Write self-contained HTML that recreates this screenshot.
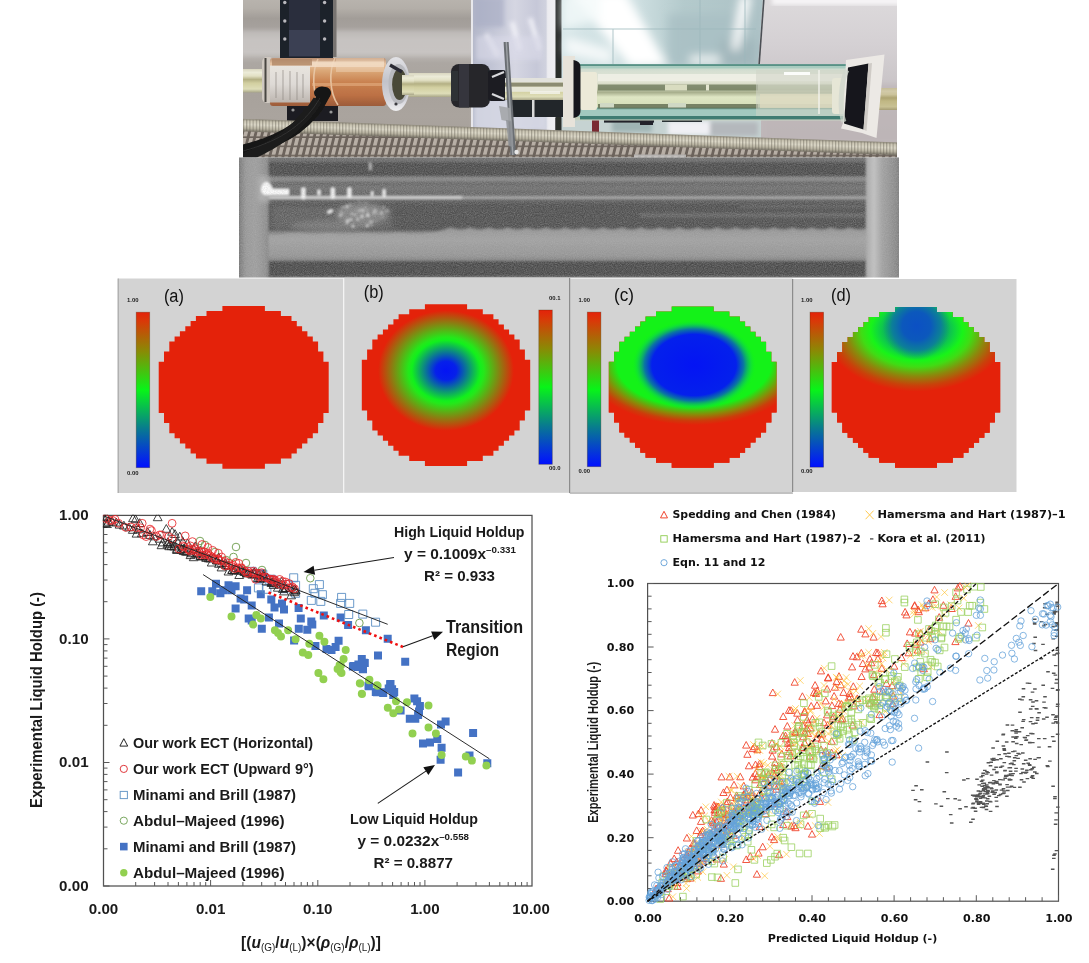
<!DOCTYPE html>
<html lang="en"><head><meta charset="utf-8"><title>Liquid holdup figure</title>
<style>
html,body{margin:0;padding:0;background:#fff;}
body{width:1089px;height:963px;overflow:hidden;font-family:"Liberation Sans",sans-serif;}
svg{display:block}
.c{font-family:"Liberation Sans",sans-serif;font-weight:bold;fill:#1a1a1a}
.v{font-family:"DejaVu Sans","Liberation Sans",sans-serif;font-weight:bold;fill:#111}
</style></head><body>
<svg width="1089" height="963" viewBox="0 0 1089 963">
<defs>

<clipPath id="pclip"><rect x="243" y="0" width="654" height="157.6"/></clipPath>
<filter id="pblur" x="-2%" y="-5%" width="104%" height="110%"><feGaussianBlur stdDeviation="0.7"/></filter>
<filter id="b2" x="-10%" y="-10%" width="120%" height="120%"><feGaussianBlur stdDeviation="2.2"/></filter>
<filter id="b4" x="-20%" y="-20%" width="140%" height="140%"><feGaussianBlur stdDeviation="5"/></filter>
<linearGradient id="wallL" x1="0" y1="0" x2="0" y2="1">
<stop offset="0" stop-color="#b9b5af"/><stop offset="0.07" stop-color="#b3aea8"/><stop offset="0.13" stop-color="#a29d98"/><stop offset="0.2" stop-color="#a7a29e"/><stop offset="0.26" stop-color="#bdb9b6"/><stop offset="0.33" stop-color="#bfbbb8"/><stop offset="0.4" stop-color="#aca7a2"/>
<stop offset="0.6" stop-color="#a8a29c"/><stop offset="0.72" stop-color="#aaa49e"/><stop offset="1" stop-color="#a39d97"/>
</linearGradient>
<linearGradient id="steel" x1="0" y1="0" x2="1" y2="0">
<stop offset="0" stop-color="#b2b6c8"/><stop offset="0.25" stop-color="#c3c6d6"/><stop offset="0.5" stop-color="#d5d6e2"/><stop offset="0.75" stop-color="#c6c8d8"/><stop offset="0.86" stop-color="#d0d2de"/><stop offset="0.88" stop-color="#ececf0"/><stop offset="1" stop-color="#f0f0f3"/>
</linearGradient>
<linearGradient id="win" x1="0" y1="0" x2="1" y2="0">
<stop offset="0" stop-color="#d4e4e6"/><stop offset="0.3" stop-color="#cfe0e2"/><stop offset="0.5" stop-color="#b4cacc"/><stop offset="0.8" stop-color="#adc2c6"/><stop offset="1" stop-color="#c3d4d6"/>
</linearGradient>
<linearGradient id="wallR" x1="0" y1="0" x2="0" y2="1">
<stop offset="0" stop-color="#dddadc"/><stop offset="0.3" stop-color="#d4d0d3"/><stop offset="0.5" stop-color="#cbc6c9"/><stop offset="0.7" stop-color="#c3bcbe"/><stop offset="1" stop-color="#bbb3b4"/>
</linearGradient>
<linearGradient id="pipe" x1="0" y1="0" x2="0" y2="1">
<stop offset="0" stop-color="#d9d6c0"/><stop offset="0.15" stop-color="#ecebd8"/><stop offset="0.3" stop-color="#e2e0c4"/><stop offset="0.45" stop-color="#b4b084"/><stop offset="0.6" stop-color="#d2cfa0"/><stop offset="0.85" stop-color="#deddb8"/><stop offset="1" stop-color="#a9a688"/>
</linearGradient>
<linearGradient id="copper" x1="0" y1="0" x2="0" y2="1">
<stop offset="0" stop-color="#b98e70"/><stop offset="0.12" stop-color="#e6c4a4"/><stop offset="0.26" stop-color="#dba878"/><stop offset="0.5" stop-color="#c98250"/><stop offset="0.78" stop-color="#bc7044"/><stop offset="1" stop-color="#9c5c3a"/>
</linearGradient>
<linearGradient id="label" x1="0" y1="0" x2="0" y2="1">
<stop offset="0" stop-color="#e8e4de"/><stop offset="0.5" stop-color="#dedad6"/><stop offset="1" stop-color="#bdb6b0"/>
</linearGradient>
<linearGradient id="flange" x1="0" y1="0" x2="0" y2="1">
<stop offset="0" stop-color="#e2e2e6"/><stop offset="0.45" stop-color="#c2c3ca"/><stop offset="0.8" stop-color="#d4d4da"/><stop offset="1" stop-color="#f0f0f2"/>
</linearGradient>
<linearGradient id="hose" x1="0" y1="0" x2="0" y2="1">
<stop offset="0" stop-color="#8f8a7c"/><stop offset="0.18" stop-color="#cbc6b4"/><stop offset="0.45" stop-color="#dcd8c8"/><stop offset="0.75" stop-color="#b9b4a2"/><stop offset="1" stop-color="#777266"/>
</linearGradient>
<linearGradient id="glassin" x1="0" y1="0" x2="0" y2="1">
<stop offset="0" stop-color="#bcd2c8"/><stop offset="0.12" stop-color="#d6dfd2"/><stop offset="0.3" stop-color="#e4e6d6"/><stop offset="0.42" stop-color="#c5cbb0"/><stop offset="0.5" stop-color="#a9b08e"/>
<stop offset="0.58" stop-color="#dfe6c4"/><stop offset="0.75" stop-color="#d5deb8"/><stop offset="0.86" stop-color="#b9c0a2"/><stop offset="1" stop-color="#c9d4c4"/>
</linearGradient>
<pattern id="ribs" width="3.2" height="20" patternUnits="userSpaceOnUse"><rect width="3.2" height="20" fill="none"/><rect x="0" width="1.1" height="20" fill="#5f5b50" opacity="0.45"/></pattern>
<pattern id="grate" width="6.6" height="9.2" patternUnits="userSpaceOnUse" patternTransform="skewX(-14)"><rect width="6.6" height="9.2" fill="#5a524a"/><rect x="0" y="0" width="3.7" height="7.6" fill="#c4bcb2"/></pattern>


<clipPath id="gclip"><rect x="239" y="157.6" width="660" height="120"/></clipPath>
<filter id="gblur" x="-2%" y="-5%" width="104%" height="110%"><feGaussianBlur stdDeviation="0.8"/></filter>
<filter id="gnoise" x="0" y="0" width="100%" height="100%"><feTurbulence type="fractalNoise" baseFrequency="0.9" numOctaves="2" seed="4" result="n"/><feColorMatrix in="n" type="matrix" values="0 0 0 0 0.5  0 0 0 0 0.5  0 0 0 0 0.5  0.9 0.9 0.9 0 -0.95"/></filter>
<linearGradient id="gL" x1="0" y1="0" x2="1" y2="0"><stop offset="0" stop-color="#6c6c6c"/><stop offset="0.12" stop-color="#7c7c7c"/><stop offset="0.3" stop-color="#989898"/><stop offset="0.6" stop-color="#9e9e9e"/><stop offset="0.88" stop-color="#929292"/><stop offset="1" stop-color="#848484"/></linearGradient>
<linearGradient id="gR" x1="0" y1="0" x2="1" y2="0"><stop offset="0" stop-color="#a6a6a6"/><stop offset="0.22" stop-color="#c4c4c4"/><stop offset="0.45" stop-color="#a2a2a2"/><stop offset="0.8" stop-color="#8c8c8c"/><stop offset="1" stop-color="#767676"/></linearGradient>
<linearGradient id="gliq" x1="0" y1="0" x2="0" y2="1"><stop offset="0" stop-color="#949494"/><stop offset="0.35" stop-color="#a2a2a2"/><stop offset="1" stop-color="#909090"/></linearGradient>


<linearGradient id="cb" x1="0" y1="0" x2="0" y2="1">
<stop offset="0" stop-color="#e4220a"/><stop offset="0.06" stop-color="#d83a08"/><stop offset="0.25" stop-color="#8a8a05"/>
<stop offset="0.5" stop-color="#08f418"/><stop offset="0.75" stop-color="#087a90"/><stop offset="0.94" stop-color="#0428e8"/><stop offset="1" stop-color="#0010ff"/>
</linearGradient>
<radialGradient id="gb" gradientUnits="userSpaceOnUse" cx="0" cy="0" r="1" gradientTransform="translate(446 370.6) scale(70 62)">
<stop offset="0" stop-color="#0414f4"/><stop offset="0.15" stop-color="#0620ea"/><stop offset="0.49" stop-color="#12f01c"/><stop offset="0.54" stop-color="#24e81a"/><stop offset="0.97" stop-color="#e4220a"/>
</radialGradient>
<radialGradient id="gc1" gradientUnits="userSpaceOnUse" cx="0" cy="0" r="1" gradientTransform="translate(694 364) scale(110 61)">
<stop offset="0" stop-color="#14f218"/><stop offset="0.7" stop-color="#14f218"/><stop offset="0.83" stop-color="#8a8a08"/><stop offset="0.93" stop-color="#cc3c0a"/><stop offset="1" stop-color="#e4220a"/>
</radialGradient>
<radialGradient id="gc1t" gradientUnits="userSpaceOnUse" cx="0" cy="0" r="1" gradientTransform="translate(694 364) scale(110 220)">
<stop offset="0" stop-color="#14f218"/><stop offset="0.7" stop-color="#14f218"/><stop offset="0.83" stop-color="#8a8a08"/><stop offset="0.93" stop-color="#cc3c0a"/><stop offset="1" stop-color="#e4220a"/>
</radialGradient>
<radialGradient id="gc2" gradientUnits="userSpaceOnUse" cx="0" cy="0" r="1" gradientTransform="translate(694 365) scale(62 45)">
<stop offset="0" stop-color="#0414f4"/><stop offset="0.68" stop-color="#0420ec"/><stop offset="0.8" stop-color="#0a70a8" stop-opacity="0.95"/><stop offset="0.92" stop-color="#0cd050" stop-opacity="0.5"/><stop offset="1" stop-color="#10f01c" stop-opacity="0"/>
</radialGradient>
<radialGradient id="gd" gradientUnits="userSpaceOnUse" cx="0" cy="0" r="1" gradientTransform="translate(916.5 330) scale(92 61.5)">
<stop offset="0" stop-color="#0c8c80"/><stop offset="0.3" stop-color="#0ca868"/><stop offset="0.42" stop-color="#10d83c"/><stop offset="0.5" stop-color="#18f418"/>
<stop offset="0.6" stop-color="#40dc14"/><stop offset="0.75" stop-color="#8a8a0c"/><stop offset="0.9" stop-color="#c8420a"/><stop offset="1" stop-color="#e4220a"/>
</radialGradient>
<radialGradient id="gd2" gradientUnits="userSpaceOnUse" cx="916.5" cy="326" r="34">
<stop offset="0" stop-color="#0c50c4"/><stop offset="0.42" stop-color="#0c58bc"/><stop offset="0.72" stop-color="#0c78a0" stop-opacity="0.85"/><stop offset="1" stop-color="#0c9a74" stop-opacity="0"/>
</radialGradient>
<clipPath id="ca"><path d="M222.4 305.9H264.9V311.3H222.4ZM206.5 311.0H280.9V316.4H206.5ZM195.9 316.1H291.5V321.4H195.9ZM190.6 321.1H296.8V326.5H190.6ZM185.3 326.2H302.1V331.6H185.3ZM179.9 331.3H307.4V336.7H179.9ZM174.6 336.4H312.8V341.8H174.6ZM169.3 341.5H318.1V346.9H169.3ZM169.3 346.5H318.1V351.9H169.3ZM164.0 351.6H323.4V357.0H164.0ZM164.0 356.7H323.4V362.1H164.0ZM158.7 361.8H328.7V367.2H158.7ZM158.7 366.9H328.7V372.3H158.7ZM158.7 372.0H328.7V377.3H158.7ZM158.7 377.0H328.7V382.4H158.7ZM158.7 382.1H328.7V387.5H158.7ZM158.7 387.2H328.7V392.6H158.7ZM158.7 392.3H328.7V397.7H158.7ZM158.7 397.4H328.7V402.7H158.7ZM158.7 402.4H328.7V407.8H158.7ZM158.7 407.5H328.7V412.9H158.7ZM164.0 412.6H323.4V418.0H164.0ZM164.0 417.7H323.4V423.1H164.0ZM169.3 422.8H318.1V428.1H169.3ZM169.3 427.8H318.1V433.2H169.3ZM174.6 432.9H312.8V438.3H174.6ZM179.9 438.0H307.4V443.4H179.9ZM185.3 443.1H302.1V448.5H185.3ZM190.6 448.2H296.8V453.6H190.6ZM195.9 453.3H291.5V458.6H195.9ZM206.5 458.3H280.9V463.7H206.5ZM222.4 463.4H264.9V468.8H222.4Z"/></clipPath>
<clipPath id="cb2"><path d="M424.9 304.2H467.1V309.5H424.9ZM409.2 309.2H482.8V314.6H409.2ZM398.6 314.3H493.4V319.6H398.6ZM393.4 319.3H498.6V324.7H393.4ZM388.1 324.4H503.9V329.7H388.1ZM382.9 329.4H509.1V334.8H382.9ZM377.6 334.5H514.4V339.8H377.6ZM372.3 339.5H519.7V344.8H372.3ZM372.3 344.6H519.7V349.9H372.3ZM367.1 349.6H524.9V354.9H367.1ZM367.1 354.6H524.9V360.0H367.1ZM361.8 359.7H530.2V365.0H361.8ZM361.8 364.7H530.2V370.1H361.8ZM361.8 369.8H530.2V375.1H361.8ZM361.8 374.8H530.2V380.2H361.8ZM361.8 379.9H530.2V385.2H361.8ZM361.8 384.9H530.2V390.2H361.8ZM361.8 389.9H530.2V395.3H361.8ZM361.8 395.0H530.2V400.3H361.8ZM361.8 400.0H530.2V405.4H361.8ZM361.8 405.1H530.2V410.4H361.8ZM367.1 410.1H524.9V415.5H367.1ZM367.1 415.2H524.9V420.5H367.1ZM372.3 420.2H519.7V425.6H372.3ZM372.3 425.2H519.7V430.6H372.3ZM377.6 430.3H514.4V435.6H377.6ZM382.9 435.3H509.1V440.7H382.9ZM388.1 440.4H503.9V445.7H388.1ZM393.4 445.4H498.6V450.8H393.4ZM398.6 450.5H493.4V455.8H398.6ZM409.2 455.5H482.8V460.9H409.2ZM424.9 460.6H467.1V465.9H424.9Z"/></clipPath>
<clipPath id="cc"><path d="M671.7 306.5H713.7V311.8H671.7ZM656.0 311.5H729.4V316.9H656.0ZM645.5 316.6H739.9V321.9H645.5ZM640.3 321.6H745.1V326.9H640.3ZM635.0 326.6H750.4V332.0H635.0ZM629.8 331.7H755.6V337.0H629.8ZM624.5 336.7H760.9V342.0H624.5ZM619.3 341.7H766.1V347.1H619.3ZM619.3 346.8H766.1V352.1H619.3ZM614.0 351.8H771.4V357.1H614.0ZM614.0 356.8H771.4V362.1H614.0ZM608.8 361.8H776.6V367.2H608.8ZM608.8 366.9H776.6V372.2H608.8ZM608.8 371.9H776.6V377.2H608.8ZM608.8 376.9H776.6V382.3H608.8ZM608.8 382.0H776.6V387.3H608.8ZM608.8 387.0H776.6V392.3H608.8ZM608.8 392.0H776.6V397.4H608.8ZM608.8 397.1H776.6V402.4H608.8ZM608.8 402.1H776.6V407.4H608.8ZM608.8 407.1H776.6V412.5H608.8ZM614.0 412.2H771.4V417.5H614.0ZM614.0 417.2H771.4V422.5H614.0ZM619.3 422.2H766.1V427.6H619.3ZM619.3 427.2H766.1V432.6H619.3ZM624.5 432.3H760.9V437.6H624.5ZM629.8 437.3H755.6V442.6H629.8ZM635.0 442.3H750.4V447.7H635.0ZM640.3 447.4H745.1V452.7H640.3ZM645.5 452.4H739.9V457.7H645.5ZM656.0 457.4H729.4V462.8H656.0ZM671.7 462.5H713.7V467.8H671.7Z"/></clipPath>
<clipPath id="cd"><path d="M895.0 306.9H937.0V312.2H895.0ZM879.2 311.9H952.8V317.2H879.2ZM868.6 316.9H963.4V322.3H868.6ZM863.4 322.0H968.6V327.3H863.4ZM858.1 327.0H973.9V332.3H858.1ZM852.9 332.0H979.1V337.3H852.9ZM847.6 337.0H984.4V342.3H847.6ZM842.3 342.0H989.7V347.4H842.3ZM842.3 347.0H989.7V352.4H842.3ZM837.1 352.1H994.9V357.4H837.1ZM837.1 357.1H994.9V362.4H837.1ZM831.8 362.1H1000.2V367.4H831.8ZM831.8 367.1H1000.2V372.4H831.8ZM831.8 372.1H1000.2V377.5H831.8ZM831.8 377.2H1000.2V382.5H831.8ZM831.8 382.2H1000.2V387.5H831.8ZM831.8 387.2H1000.2V392.5H831.8ZM831.8 392.2H1000.2V397.5H831.8ZM831.8 397.2H1000.2V402.6H831.8ZM831.8 402.3H1000.2V407.6H831.8ZM831.8 407.3H1000.2V412.6H831.8ZM837.1 412.3H994.9V417.6H837.1ZM837.1 417.3H994.9V422.6H837.1ZM842.3 422.3H989.7V427.6H842.3ZM842.3 427.3H989.7V432.7H842.3ZM847.6 432.4H984.4V437.7H847.6ZM852.9 437.4H979.1V442.7H852.9ZM858.1 442.4H973.9V447.7H858.1ZM863.4 447.4H968.6V452.7H863.4ZM868.6 452.4H963.4V457.8H868.6ZM879.2 457.5H952.8V462.8H879.2ZM895.0 462.5H937.0V467.8H895.0Z"/></clipPath>

<clipPath id="c1clip"><rect x="102.9" y="514.8" width="429.7" height="371.8"/></clipPath>

</defs>
<rect width="1089" height="963" fill="#fff"/>
<g id="photo"><g clip-path="url(#pclip)"><g filter="url(#pblur)">
<rect x="240" y="-3" width="234" height="165" fill="url(#wallL)"/>
<rect x="240" y="30" width="234" height="26" fill="#d0cdcc" opacity="0.5" filter="url(#b2)"/>
<rect x="472" y="-3" width="86" height="165" fill="url(#steel)"/>
<g filter="url(#b2)" opacity="0.85"><path d="M486 34L498 56M512 22L520 50M530 18L540 50" stroke="#f4f4fa" stroke-width="5"/><rect x="476" y="36" width="66" height="24" fill="#dcdcea" opacity="0.7"/><rect x="474" y="100" width="72" height="30" fill="#d6d8e4"/><rect x="474" y="-3" width="30" height="30" fill="#a9aec4" opacity="0.8"/></g>
<rect x="471" y="-3" width="2" height="130" fill="#e8e8ec"/>
<rect x="561" y="-3" width="246" height="140" fill="url(#win)"/>
<rect x="555.5" y="-3" width="6" height="135" fill="#2a2d2c"/>
<g filter="url(#b4)"><path d="M570 -8L625 -8L668 66L630 66Z" fill="#fff"/><path d="M562 -5L600 -5L600 20L562 30Z" fill="#f4fafa" opacity="0.8"/><path d="M565 36L612 50L612 64L565 54Z" fill="#fff" opacity="0.75"/><rect x="668" y="14" width="84" height="52" fill="#a9bfc4" opacity="0.85"/><rect x="720" y="40" width="36" height="26" fill="#9fb4ba" opacity="0.8"/><rect x="690" y="56" width="30" height="8" fill="#fff" opacity="0.8"/><path d="M740 -4L752 -4L738 50L732 50Z" fill="#fff"/></g>
<path d="M563 29H756M613 29V64M700 0V64M745 0V64" stroke="#9db8bc" stroke-width="1" opacity="0.8"/>
<path d="M763 -3H900V160H756L758 66Z" fill="url(#wallR)"/>
<path d="M764 -3L759 66" stroke="#4c5054" stroke-width="1.6"/>
<rect x="762" y="84" width="140" height="60" fill="#bdb5b7" opacity="0.7" filter="url(#b2)"/>
<rect x="772" y="-4" width="130" height="9" fill="#f6f4f6" filter="url(#b2)"/>
<rect x="561" y="118" width="200" height="20" fill="#c6d3d2"/>
<g filter="url(#b2)"><rect x="668" y="121" width="42" height="14" fill="#f0f0f4"/><rect x="612" y="120" width="40" height="12" fill="#9fb4b4"/><rect x="710" y="122" width="48" height="14" fill="#b4b8bc"/></g>
<rect x="592" y="117" width="7" height="15" fill="#7a2a30"/><rect x="604" y="118.6" width="50" height="4" fill="#20242a"/><rect x="662" y="118.6" width="40" height="3.4" fill="#2a3034"/><rect x="640" y="118" width="13" height="7" fill="#20242a"/>
<rect x="876" y="88" width="24" height="22" fill="url(#pipe)"/><rect x="876" y="88" width="24" height="22" fill="#a08c50" opacity="0.35"/>
<rect x="240" y="69" width="24" height="23.5" fill="url(#pipe)"/>
<rect x="280" y="-3" width="53" height="62" fill="#1f222c"/><rect x="289" y="-3" width="31" height="60" fill="#2a2e3c"/><rect x="289" y="30" width="31" height="26" fill="#3a3f52"/>
<rect x="333" y="-3" width="3.5" height="60" fill="#77736f"/>
<circle cx="284.8" cy="2.5" r="1.7" fill="#b9b9bd"/><circle cx="324.6" cy="2.5" r="1.7" fill="#b9b9bd"/>
<circle cx="284.8" cy="21" r="1.7" fill="#b9b9bd"/><circle cx="324.6" cy="21" r="1.7" fill="#b9b9bd"/>
<circle cx="284.8" cy="39" r="1.7" fill="#b9b9bd"/><circle cx="324.6" cy="39" r="1.7" fill="#b9b9bd"/>
<rect x="287" y="104" width="51" height="17" fill="#1c1c20"/><circle cx="293" cy="110" r="1.6" fill="#999"/><circle cx="331" cy="112" r="1.6" fill="#999"/>
<rect x="400" y="73" width="54" height="24" fill="url(#pipe)"/>
<rect x="262" y="57" width="12" height="46" rx="5" fill="#cfc8c0"/><rect x="264.5" y="58" width="2" height="44" fill="#4a4642"/>
<rect x="270" y="58" width="116" height="48" rx="3" fill="url(#copper)"/>
<rect x="270" y="65.5" width="40" height="37" fill="url(#label)"/>
<path d="M276 72v26M283 70v30M290 71v29M297 72v28M303 74v24" stroke="#8c8680" stroke-width="1.2" opacity="0.55"/>
<path d="M318 59c-6 12-6 34 2 46M335 58c-6 12-6 34 3 47" stroke="#e9c9a8" stroke-width="1.6" fill="none" opacity="0.9"/>
<rect x="310" y="61.5" width="74" height="5.5" fill="#f6e2cc" opacity="0.75"/><rect x="336" y="58" width="48" height="14" fill="#efd6bc" opacity="0.45"/><rect x="312" y="83" width="70" height="3" fill="#e9b88c" opacity="0.5"/><rect x="272" y="59" width="40" height="6.5" fill="#b08868" opacity="0.8"/>
<ellipse cx="396" cy="84" rx="14" ry="27" fill="url(#flange)"/><ellipse cx="398.5" cy="84" rx="10" ry="20" fill="#b9babf"/><ellipse cx="399.5" cy="84.5" rx="7.4" ry="15.5" fill="#4a4838"/><path d="M390 65l12 7" stroke="#2c2c34" stroke-width="3.4"/><circle cx="396" cy="104" r="1.6" fill="#3a3a40"/>
<rect x="402" y="75" width="12" height="20" fill="url(#pipe)"/>
<rect x="451" y="64" width="39" height="43.5" rx="8" fill="#25262b"/><rect x="459" y="64" width="10" height="43.5" fill="#34363c"/><rect x="451" y="71" width="7" height="30" fill="#2f3136"/>
<rect x="488" y="70" width="18" height="31" rx="3" fill="#1e1f24"/><path d="M492 77l12-5M492 94l12 5" stroke="#d9d9dc" stroke-width="2.2"/>
<rect x="505" y="78" width="60" height="22" fill="url(#pipe)"/><rect x="505" y="78" width="60" height="4.4" fill="#e2e2dc"/><rect x="505" y="82.6" width="60" height="4" fill="#8c8c72"/><rect x="505" y="86.8" width="60" height="5" fill="#e6e6d6"/><rect x="530" y="91" width="30" height="3" fill="#f4f4ec" opacity="0.8"/>
<rect x="512" y="100" width="52" height="17" fill="#24262a"/><rect x="532" y="100" width="2.5" height="17" fill="#d9d9d9"/>
<rect x="555.5" y="118" width="6" height="14" fill="#2a2d2c"/>
<rect x="574" y="64.5" width="282" height="56" fill="url(#glassin)"/>
<rect x="574" y="64.8" width="282" height="3.6" fill="#a9ccc0"/><rect x="574" y="64.2" width="282" height="1.7" fill="#4f8c80"/>
<rect x="574" y="109" width="282" height="8" fill="#a3c9bf"/><rect x="580" y="116" width="270" height="3.4" fill="#3f7c72"/><rect x="574" y="107.5" width="282" height="1.8" fill="#6ea396"/>
<rect x="598" y="74" width="250" height="7" fill="#f0f0e6" opacity="0.85"/><rect x="598" y="84.5" width="160" height="6" fill="#6f7a5c" opacity="0.8"/><rect x="758" y="84.5" width="90" height="6" fill="#8f9a78" opacity="0.5"/><rect x="598" y="104" width="160" height="4.5" fill="#5f6a50" opacity="0.8"/><rect x="758" y="104" width="90" height="4.5" fill="#7d8a70" opacity="0.45"/>
<rect x="665" y="84.5" width="22" height="6" fill="#d9dcc0"/><rect x="706" y="84.5" width="3" height="6" fill="#e4e6d0"/><rect x="668" y="103" width="18" height="4.5" fill="#cfd8c4"/><rect x="600" y="103" width="14" height="4.5" fill="#cfd8c4"/>
<rect x="756" y="70" width="90" height="46" fill="#cfd4c6" opacity="0.55"/><rect x="760" y="94" width="76" height="14" fill="#e0dcc0" opacity="0.7"/>
<rect x="784" y="72" width="26" height="3" fill="#fff" opacity="0.9"/><rect x="818" y="70" width="2" height="44" fill="#f2f2ec" opacity="0.7"/>
<rect x="580" y="72" width="17" height="38" rx="2" fill="#ecead8"/><rect x="832" y="78" width="16" height="36" rx="3" fill="#e6e6d6"/>
<rect x="563" y="56" width="12" height="71" fill="#e7e3da"/><path d="M573.5 60c5 1 7 3 7 8v42c0 5-2 7-7 8z" fill="#16181a"/>
<path d="M846 60L884.5 54.5L876.5 138L862 133L841 128.5L843 123Z" fill="#ece9e5"/>
<path d="M848 67.5L868.5 63.5L863.5 129.5L844 123.5Z" fill="#15171a"/>
<path d="M868.5 63.5L872 63L866.5 131L863.5 129.5Z" fill="#cfcbc6"/>
<path d="M847 70c-6 10-8 40-3 52" stroke="#cfd6cc" stroke-width="5" fill="none" opacity="0.75"/>
<path d="M240 128L900 154V162H240Z" fill="url(#grate)"/>
<path d="M240 128L900 154V162H240Z" fill="#9a9088" opacity="0.28"/>
<path d="M634 154.5h52v3h-52z" fill="#d4d4d4" opacity="0.7"/>
<g transform="translate(243 118.8) skewY(2.07)"><rect x="-3" y="0" width="664" height="12.6" fill="url(#hose)"/><rect x="-3" y="0.5" width="664" height="11.6" fill="url(#ribs)"/></g>
<ellipse cx="322" cy="93" rx="8" ry="6.5" fill="#151515"/>
<path d="M325 93C312 120 290 140 238 152" stroke="#131313" stroke-width="12" fill="none" stroke-linecap="round"/>
<path d="M318 100C302 126 276 146 238 160" stroke="#1b1b1b" stroke-width="10" fill="none"/>
<path d="M320 98C306 122 284 140 243 151" stroke="#3a3a3a" stroke-width="1" fill="none" opacity="0.7"/>
<path d="M503.6 42L508.6 42L516 155L510.4 155Z" fill="#6a6e73"/><path d="M505.6 42L507 42L513.6 155L512 155Z" fill="#9da1a5"/>
<path d="M499 106l11 2 1.5 14-10-2z" fill="#a4a6aa" opacity="0.9"/><path d="M506 120l6 1 1.5 26-5-1z" fill="#8e9296" opacity="0.85"/><circle cx="516.5" cy="152" r="2.2" fill="#e8e8e8"/>
</g></g></g>
<g id="gray"><g clip-path="url(#gclip)"><g filter="url(#gblur)">
<rect x="236" y="155" width="666" height="126" fill="#8a8a8a"/>
<rect x="266" y="161.6" width="602" height="15.2" fill="#4b4b4b"/>
<rect x="262" y="157" width="606" height="4.8" fill="#6c6c6c"/>
<rect x="262" y="176.6" width="606" height="4.8" fill="#868686"/>
<rect x="262" y="181.2" width="606" height="15.6" fill="#686868"/>
<rect x="262" y="186" width="606" height="4" fill="#727272" opacity="0.7"/>
<rect x="262" y="196.4" width="606" height="2.8" fill="#a6a6a6"/>
<rect x="262" y="196.2" width="200" height="3.2" fill="#d2d2d2"/>
<rect x="262" y="199.2" width="606" height="32" fill="#505050"/>
<rect x="262" y="199.4" width="606" height="4" fill="#5c5c5c"/>
<g filter="url(#b2)"><rect x="272" y="206" width="120" height="24" fill="#626262" opacity="0.8"/><ellipse cx="362" cy="214" rx="26" ry="11" fill="#8a8a8a" opacity="0.85"/><ellipse cx="330" cy="226" rx="40" ry="6" fill="#7a7a7a" opacity="0.8"/></g>
<rect x="640" y="213" width="225" height="4.5" fill="#686868" opacity="0.8"/>
<rect x="740" y="205" width="125" height="3" fill="#666" opacity="0.6"/>
<path d="M262 234Q279.0 234.0 296.0 232.0Q313.0 234.0 330.0 232.0Q347.0 234.0 364.0 232.0Q381.0 234.0 398.0 232.0Q415.0 234.0 432.0 232.0Q441.5 231.4 451.0 227.8Q460.5 231.4 470.0 227.8Q479.5 231.4 489.0 227.8Q498.5 231.4 508.0 227.8Q517.5 231.4 527.0 227.8Q536.5 231.4 546.0 227.8Q555.5 231.4 565.0 227.8Q574.5 231.4 584.0 227.8Q593.5 231.4 603.0 227.8Q612.5 231.4 622.0 227.8Q631.5 231.4 641.0 227.8Q650.5 231.4 660.0 227.8Q669.5 231.4 679.0 227.8Q688.5 231.4 698.0 227.8Q707.5 231.4 717.0 227.8Q726.5 231.4 736.0 227.8Q745.5 231.4 755.0 227.8Q764.5 231.4 774.0 227.8Q783.5 231.4 793.0 227.8Q802.5 231.4 812.0 227.8Q821.5 231.4 831.0 227.8Q840.5 231.4 850.0 227.8Q859.5 231.4 869.0 227.8V262H262Z" fill="url(#gliq)"/>
<path d="M262 234Q279.0 234.0 296.0 232.0Q313.0 234.0 330.0 232.0Q347.0 234.0 364.0 232.0Q381.0 234.0 398.0 232.0Q415.0 234.0 432.0 232.0Q441.5 231.4 451.0 227.8Q460.5 231.4 470.0 227.8Q479.5 231.4 489.0 227.8Q498.5 231.4 508.0 227.8Q517.5 231.4 527.0 227.8Q536.5 231.4 546.0 227.8Q555.5 231.4 565.0 227.8Q574.5 231.4 584.0 227.8Q593.5 231.4 603.0 227.8Q612.5 231.4 622.0 227.8Q631.5 231.4 641.0 227.8Q650.5 231.4 660.0 227.8Q669.5 231.4 679.0 227.8Q688.5 231.4 698.0 227.8Q707.5 231.4 717.0 227.8Q726.5 231.4 736.0 227.8Q745.5 231.4 755.0 227.8Q764.5 231.4 774.0 227.8Q783.5 231.4 793.0 227.8Q802.5 231.4 812.0 227.8Q821.5 231.4 831.0 227.8Q840.5 231.4 850.0 227.8Q859.5 231.4 869.0 227.8" fill="none" stroke="#787878" stroke-width="1.2"/>
<rect x="268.4" y="260.4" width="600" height="16.2" fill="#4a4a4a"/>
<rect x="262" y="257.2" width="606" height="3.4" fill="#8a8a8a"/>
<rect x="262" y="276.4" width="606" height="3" fill="#6c6c6c"/>
<rect x="236" y="155" width="32.6" height="126" fill="url(#gL)"/><rect x="258" y="176" width="12" height="26" fill="#b8b8b8" opacity="0.7" filter="url(#b2)"/>
<rect x="866" y="155" width="36" height="126" fill="url(#gR)"/>
<path d="M261 189c1-7 6-9 9-5l3 5h16v6h-22c-4 0-6-2-6-6z" fill="#fdfdfd"/>
<rect x="301.3" y="187.5" width="4.2" height="12" rx="1.6" fill="#f6f6f6"/>
<rect x="317.5" y="189.5" width="3" height="6" rx="1.6" fill="#f6f6f6"/>
<rect x="330.8" y="187.5" width="4" height="11.5" rx="1.6" fill="#f6f6f6"/>
<rect x="347.4" y="187.5" width="4" height="10.5" rx="1.6" fill="#f6f6f6"/>
<rect x="382.6" y="189" width="3" height="8" rx="1.6" fill="#f6f6f6"/>
<rect x="371" y="191" width="2.4" height="5" rx="1.6" fill="#f6f6f6"/>
<ellipse cx="330" cy="211.5" rx="3.2" ry="1.7" fill="#eee" transform="rotate(-25 330 211.5)"/>
<circle cx="347.0" cy="206.7" r="1.6" fill="#d8d8d8" opacity="0.87"/>
<circle cx="358.4" cy="200.6" r="0.7" fill="#d8d8d8" opacity="0.63"/>
<circle cx="374.9" cy="210.2" r="1.7" fill="#d8d8d8" opacity="0.46"/>
<circle cx="351.9" cy="213.8" r="1.3" fill="#d8d8d8" opacity="0.69"/>
<circle cx="367.7" cy="213.3" r="1.0" fill="#d8d8d8" opacity="0.86"/>
<circle cx="360.6" cy="209.8" r="1.6" fill="#d8d8d8" opacity="0.47"/>
<circle cx="355.8" cy="211.1" r="0.7" fill="#d8d8d8" opacity="0.84"/>
<circle cx="361.9" cy="216.7" r="1.8" fill="#d8d8d8" opacity="0.84"/>
<circle cx="353.1" cy="226.6" r="1.3" fill="#d8d8d8" opacity="0.74"/>
<circle cx="367.3" cy="225.6" r="1.5" fill="#d8d8d8" opacity="0.88"/>
<circle cx="367.3" cy="210.1" r="1.1" fill="#d8d8d8" opacity="0.48"/>
<circle cx="362.5" cy="214.6" r="1.0" fill="#d8d8d8" opacity="0.70"/>
<circle cx="376.6" cy="213.2" r="1.1" fill="#d8d8d8" opacity="0.55"/>
<circle cx="365.3" cy="207.3" r="1.0" fill="#d8d8d8" opacity="0.64"/>
<circle cx="358.9" cy="211.2" r="1.8" fill="#d8d8d8" opacity="0.41"/>
<circle cx="360.0" cy="202.4" r="0.7" fill="#d8d8d8" opacity="0.79"/>
<circle cx="350.4" cy="218.4" r="0.7" fill="#d8d8d8" opacity="0.42"/>
<circle cx="371.5" cy="225.4" r="0.9" fill="#d8d8d8" opacity="0.78"/>
<circle cx="383.7" cy="207.4" r="1.1" fill="#d8d8d8" opacity="0.58"/>
<circle cx="341.2" cy="211.5" r="0.8" fill="#d8d8d8" opacity="0.77"/>
<circle cx="366.4" cy="202.6" r="0.7" fill="#d8d8d8" opacity="0.87"/>
<circle cx="368.4" cy="215.7" r="1.4" fill="#d8d8d8" opacity="0.86"/>
<circle cx="346.6" cy="223.5" r="1.3" fill="#d8d8d8" opacity="0.56"/>
<circle cx="357.2" cy="216.1" r="0.8" fill="#d8d8d8" opacity="0.47"/>
<circle cx="346.1" cy="195.7" r="0.9" fill="#d8d8d8" opacity="0.42"/>
<circle cx="373.5" cy="212.4" r="1.1" fill="#d8d8d8" opacity="0.52"/>
<circle cx="342.9" cy="207.3" r="1.2" fill="#d8d8d8" opacity="0.61"/>
<circle cx="383.0" cy="217.2" r="0.7" fill="#d8d8d8" opacity="0.65"/>
<circle cx="363.1" cy="210.5" r="1.5" fill="#d8d8d8" opacity="0.87"/>
<circle cx="346.8" cy="205.9" r="0.8" fill="#d8d8d8" opacity="0.62"/>
<circle cx="372.6" cy="221.6" r="1.0" fill="#d8d8d8" opacity="0.63"/>
<circle cx="381.5" cy="213.0" r="1.8" fill="#d8d8d8" opacity="0.63"/>
<circle cx="342.3" cy="213.7" r="1.2" fill="#d8d8d8" opacity="0.55"/>
<circle cx="354.9" cy="214.8" r="1.1" fill="#d8d8d8" opacity="0.89"/>
<circle cx="375.0" cy="211.1" r="1.2" fill="#d8d8d8" opacity="0.57"/>
<circle cx="367.4" cy="215.3" r="1.6" fill="#d8d8d8" opacity="0.83"/>
<circle cx="347.6" cy="220.4" r="1.6" fill="#d8d8d8" opacity="0.75"/>
<circle cx="350.4" cy="205.0" r="1.1" fill="#d8d8d8" opacity="0.75"/>
<circle cx="357.6" cy="219.2" r="1.5" fill="#d8d8d8" opacity="0.75"/>
<circle cx="352.8" cy="225.8" r="1.4" fill="#d8d8d8" opacity="0.69"/>
<circle cx="373.8" cy="213.5" r="1.0" fill="#d8d8d8" opacity="0.74"/>
<circle cx="340.3" cy="215.3" r="1.4" fill="#d8d8d8" opacity="0.80"/>
<circle cx="350.9" cy="219.5" r="1.5" fill="#d8d8d8" opacity="0.81"/>
<circle cx="347.6" cy="221.6" r="1.7" fill="#d8d8d8" opacity="0.74"/>
<circle cx="387.2" cy="210.9" r="1.3" fill="#d8d8d8" opacity="0.66"/>
<circle cx="370.5" cy="222.1" r="1.7" fill="#d8d8d8" opacity="0.64"/>
<rect x="369" y="162.5" width="2.6" height="7.5" fill="#b4b4b4"/>
</g>
<rect x="239" y="157.6" width="660" height="120" filter="url(#gnoise)" opacity="0.35"/>
</g></g>
<g id="ect"><rect x="118" y="278.5" width="225.5" height="214.5" fill="#d3d3d3"/>
<rect x="344" y="277.8" width="225.5" height="215" fill="#d3d3d3"/>
<rect x="569.5" y="278.5" width="223" height="215" fill="#d3d3d3"/>
<rect x="793" y="279" width="223.5" height="213" fill="#d3d3d3"/>
<rect x="343" y="278" width="1.3" height="215" fill="#f4f4f4"/>
<rect x="117.6" y="278.5" width="1" height="214.5" fill="#9a9a9a"/>
<rect x="569" y="278" width="1.2" height="215" fill="#8c8c8c"/>
<rect x="792" y="279" width="1.2" height="213" fill="#8c8c8c"/>
<rect x="570" y="492.6" width="223" height="1" fill="#a8a8a8"/>
<rect x="150" y="300" width="190" height="175" fill="#e4220a" clip-path="url(#ca)"/>
<rect x="136.2" y="312.2" width="13.5" height="155.5" fill="url(#cb)" stroke="#3c2800" stroke-opacity="0.35" stroke-width="0.8"/>
<rect x="355" y="300" width="185" height="175" fill="url(#gb)" clip-path="url(#cb2)"/>
<rect x="538.8" y="310.0" width="13.5" height="154.3" fill="url(#cb)" stroke="#3c2800" stroke-opacity="0.35" stroke-width="0.8"/>
<g clip-path="url(#cc)"><rect x="600" y="300" width="185" height="175" fill="#e4220a"/><rect x="600" y="363.8" width="185" height="112" fill="url(#gc1)"/><rect x="600" y="300" width="185" height="64" fill="url(#gc1t)"/><rect x="600" y="300" width="185" height="175" fill="url(#gc2)"/></g>
<rect x="587.3" y="312.1" width="13.6" height="154.6" fill="url(#cb)" stroke="#3c2800" stroke-opacity="0.35" stroke-width="0.8"/>
<g clip-path="url(#cd)"><rect x="825" y="300" width="185" height="175" fill="#e4220a"/><rect x="825" y="300" width="185" height="175" fill="url(#gd)"/><rect x="876" y="300" width="82" height="66" fill="url(#gd2)"/></g>
<rect x="810.0" y="312.2" width="13.6" height="155.0" fill="url(#cb)" stroke="#3c2800" stroke-opacity="0.35" stroke-width="0.8"/>
<text x="163.9" y="302.3" font-family="Liberation Sans,sans-serif" font-size="18" fill="#111" textLength="20" lengthAdjust="spacingAndGlyphs">(a)</text>
<text x="363.8" y="298.2" font-family="Liberation Sans,sans-serif" font-size="18" fill="#111" textLength="20" lengthAdjust="spacingAndGlyphs">(b)</text>
<text x="614" y="300.6" font-family="Liberation Sans,sans-serif" font-size="18" fill="#111" textLength="20" lengthAdjust="spacingAndGlyphs">(c)</text>
<text x="831" y="300.6" font-family="Liberation Sans,sans-serif" font-size="18" fill="#111" textLength="20" lengthAdjust="spacingAndGlyphs">(d)</text>
<text x="127" y="302" font-family="Liberation Sans,sans-serif" font-size="6" font-weight="bold" fill="#1a1a1a" textLength="11.5" lengthAdjust="spacingAndGlyphs">1.00</text>
<text x="127" y="474.5" font-family="Liberation Sans,sans-serif" font-size="6" font-weight="bold" fill="#1a1a1a" textLength="11.5" lengthAdjust="spacingAndGlyphs">0.00</text>
<text x="549" y="299.5" font-family="Liberation Sans,sans-serif" font-size="6" font-weight="bold" fill="#1a1a1a" textLength="11.5" lengthAdjust="spacingAndGlyphs">00.1</text>
<text x="549" y="470" font-family="Liberation Sans,sans-serif" font-size="6" font-weight="bold" fill="#1a1a1a" textLength="11.5" lengthAdjust="spacingAndGlyphs">00.0</text>
<text x="578.5" y="302" font-family="Liberation Sans,sans-serif" font-size="6" font-weight="bold" fill="#1a1a1a" textLength="11.5" lengthAdjust="spacingAndGlyphs">1.00</text>
<text x="578.5" y="473" font-family="Liberation Sans,sans-serif" font-size="6" font-weight="bold" fill="#1a1a1a" textLength="11.5" lengthAdjust="spacingAndGlyphs">0.00</text>
<text x="801" y="302" font-family="Liberation Sans,sans-serif" font-size="6" font-weight="bold" fill="#1a1a1a" textLength="11.5" lengthAdjust="spacingAndGlyphs">1.00</text>
<text x="801" y="473" font-family="Liberation Sans,sans-serif" font-size="6" font-weight="bold" fill="#1a1a1a" textLength="11.5" lengthAdjust="spacingAndGlyphs">0.00</text></g>
<g id="chart1"><rect x="103.5" y="515.4" width="428.5" height="370.6" fill="#fff" stroke="#505050" stroke-width="1.25"/>
<path d="M103.5 886.0v-6M135.7 886.0v-4M154.6 886.0v-4M168.0 886.0v-4M178.4 886.0v-4M186.9 886.0v-4M194.0 886.0v-4M200.2 886.0v-4M205.7 886.0v-4M210.6 886.0v-6M242.9 886.0v-4M261.7 886.0v-4M275.1 886.0v-4M285.5 886.0v-4M294.0 886.0v-4M301.2 886.0v-4M307.4 886.0v-4M312.8 886.0v-4M317.8 886.0v-6M350.0 886.0v-4M368.9 886.0v-4M382.2 886.0v-4M392.6 886.0v-4M401.1 886.0v-4M408.3 886.0v-4M414.5 886.0v-4M420.0 886.0v-4M424.9 886.0v-6M457.1 886.0v-4M476.0 886.0v-4M489.4 886.0v-4M499.8 886.0v-4M508.2 886.0v-4M515.4 886.0v-4M521.6 886.0v-4M527.1 886.0v-4M103.5 886.0h6M103.5 848.8h4M103.5 827.1h4M103.5 811.6h4M103.5 799.7h4M103.5 789.9h4M103.5 781.6h4M103.5 774.4h4M103.5 768.1h4M103.5 762.5h6M103.5 725.3h4M103.5 703.5h4M103.5 688.1h4M103.5 676.1h4M103.5 666.3h4M103.5 658.1h4M103.5 650.9h4M103.5 644.6h4M103.5 638.9h6M103.5 601.7h4M103.5 580.0h4M103.5 564.6h4M103.5 552.6h4M103.5 542.8h4M103.5 534.5h4M103.5 527.4h4M103.5 521.1h4" stroke="#595959" stroke-width="1" fill="none"/>
<g clip-path="url(#c1clip)">
<path d="M197.2 587.3h8v8h-8zM208.3 587.3h8v8h-8zM212.0 579.8h8v8h-8zM216.4 589.3h8v8h-8zM224.5 581.3h8v8h-8zM231.6 582.3h8v8h-8zM227.5 586.3h8v8h-8zM219.4 586.3h8v8h-8zM236.6 594.4h8v8h-8zM240.2 595.4h8v8h-8zM243.1 586.3h8v8h-8zM231.6 604.5h8v8h-8zM247.7 601.5h8v8h-8zM256.8 590.3h8v8h-8zM244.7 614.6h8v8h-8zM247.7 616.6h8v8h-8zM257.8 624.7h8v8h-8zM264.9 613.6h8v8h-8zM267.3 595.4h8v8h-8zM270.5 603.5h8v8h-8zM278.0 599.4h8v8h-8zM280.0 605.5h8v8h-8zM275.0 619.6h8v8h-8zM290.1 636.4h8v8h-8zM294.6 604.1h8v8h-8zM296.8 614.6h8v8h-8zM294.8 624.7h8v8h-8zM303.3 625.7h8v8h-8zM307.3 617.6h8v8h-8zM308.3 620.6h8v8h-8zM311.4 641.9h8v8h-8zM319.8 611.6h8v8h-8zM322.5 644.9h8v8h-8zM327.5 645.9h8v8h-8zM331.6 642.9h8v8h-8zM334.6 636.8h8v8h-8zM336.6 613.6h8v8h-8zM344.1 621.1h8v8h-8zM349.7 662.1h8v8h-8zM353.8 663.1h8v8h-8zM357.8 655.0h8v8h-8zM360.8 659.0h8v8h-8zM358.8 665.1h8v8h-8zM361.9 626.3h8v8h-8zM374.0 651.4h8v8h-8zM383.7 634.8h8v8h-8zM364.9 682.3h8v8h-8zM373.0 688.3h8v8h-8zM379.0 688.3h8v8h-8zM386.1 680.2h8v8h-8zM388.1 685.3h8v8h-8zM348.9 662.4h8v8h-8zM354.4 660.6h8v8h-8zM359.9 658.8h8v8h-8zM359.0 665.2h8v8h-8zM401.2 657.8h8v8h-8zM364.5 681.7h8v8h-8zM371.8 688.1h8v8h-8zM379.2 689.1h8v8h-8zM386.5 679.9h8v8h-8zM384.7 684.5h8v8h-8zM390.2 688.1h8v8h-8zM389.3 690.9h8v8h-8zM410.4 694.6h8v8h-8zM413.1 697.3h8v8h-8zM415.9 701.9h8v8h-8zM415.0 707.4h8v8h-8zM396.6 706.5h8v8h-8zM405.8 714.8h8v8h-8zM411.3 714.8h8v8h-8zM414.1 711.1h8v8h-8zM441.6 717.5h8v8h-8zM437.0 720.6h8v8h-8zM469.1 729.1h8v8h-8zM419.0 739.6h8v8h-8zM426.0 738.6h8v8h-8zM433.3 735.0h8v8h-8zM437.6 743.8h8v8h-8zM436.6 755.7h8v8h-8zM465.5 751.5h8v8h-8zM454.1 768.4h8v8h-8zM483.3 759.2h8v8h-8z" fill="#4472c4"/>
<path d="M206.3 597.0a4 4 0 1 0 8 0a4 4 0 1 0-8 0M227.5 616.6a4 4 0 1 0 8 0a4 4 0 1 0-8 0M252.4 614.9a4 4 0 1 0 8 0a4 4 0 1 0-8 0M256.8 618.6a4 4 0 1 0 8 0a4 4 0 1 0-8 0M249.1 624.6a4 4 0 1 0 8 0a4 4 0 1 0-8 0M270.9 630.3a4 4 0 1 0 8 0a4 4 0 1 0-8 0M274.0 633.1a4 4 0 1 0 8 0a4 4 0 1 0-8 0M277.0 636.4a4 4 0 1 0 8 0a4 4 0 1 0-8 0M284.1 630.3a4 4 0 1 0 8 0a4 4 0 1 0-8 0M291.6 639.2a4 4 0 1 0 8 0a4 4 0 1 0-8 0M305.3 643.8a4 4 0 1 0 8 0a4 4 0 1 0-8 0M298.8 652.5a4 4 0 1 0 8 0a4 4 0 1 0-8 0M304.3 654.9a4 4 0 1 0 8 0a4 4 0 1 0-8 0M315.4 635.8a4 4 0 1 0 8 0a4 4 0 1 0-8 0M320.4 641.8a4 4 0 1 0 8 0a4 4 0 1 0-8 0M341.7 649.9a4 4 0 1 0 8 0a4 4 0 1 0-8 0M339.6 659.0a4 4 0 1 0 8 0a4 4 0 1 0-8 0M335.6 665.1a4 4 0 1 0 8 0a4 4 0 1 0-8 0M333.6 669.1a4 4 0 1 0 8 0a4 4 0 1 0-8 0M336.6 672.1a4 4 0 1 0 8 0a4 4 0 1 0-8 0M314.4 673.1a4 4 0 1 0 8 0a4 4 0 1 0-8 0M319.4 679.2a4 4 0 1 0 8 0a4 4 0 1 0-8 0M355.8 683.2a4 4 0 1 0 8 0a4 4 0 1 0-8 0M364.9 680.2a4 4 0 1 0 8 0a4 4 0 1 0-8 0M373.0 685.3a4 4 0 1 0 8 0a4 4 0 1 0-8 0M357.8 693.7a4 4 0 1 0 8 0a4 4 0 1 0-8 0M336.9 665.5a4 4 0 1 0 8 0a4 4 0 1 0-8 0M337.5 672.9a4 4 0 1 0 8 0a4 4 0 1 0-8 0M356.2 683.5a4 4 0 1 0 8 0a4 4 0 1 0-8 0M365.4 679.8a4 4 0 1 0 8 0a4 4 0 1 0-8 0M373.6 685.7a4 4 0 1 0 8 0a4 4 0 1 0-8 0M358.0 694.0a4 4 0 1 0 8 0a4 4 0 1 0-8 0M383.8 707.8a4 4 0 1 0 8 0a4 4 0 1 0-8 0M392.0 701.3a4 4 0 1 0 8 0a4 4 0 1 0-8 0M403.0 702.2a4 4 0 1 0 8 0a4 4 0 1 0-8 0M389.3 713.3a4 4 0 1 0 8 0a4 4 0 1 0-8 0M395.1 709.6a4 4 0 1 0 8 0a4 4 0 1 0-8 0M424.5 705.5a4 4 0 1 0 8 0a4 4 0 1 0-8 0M424.5 727.6a4 4 0 1 0 8 0a4 4 0 1 0-8 0M408.5 733.5a4 4 0 1 0 8 0a4 4 0 1 0-8 0M431.9 733.5a4 4 0 1 0 8 0a4 4 0 1 0-8 0M437.6 755.1a4 4 0 1 0 8 0a4 4 0 1 0-8 0M461.8 756.4a4 4 0 1 0 8 0a4 4 0 1 0-8 0M467.9 760.6a4 4 0 1 0 8 0a4 4 0 1 0-8 0M482.4 765.6a4 4 0 1 0 8 0a4 4 0 1 0-8 0" fill="#92d050"/>
<path d="M289.7 573.8h8v8h-8zM291.6 581.3h8v8h-8zM315.4 580.6h8v8h-8zM309.3 584.7h8v8h-8zM310.9 589.3h8v8h-8zM318.4 590.7h8v8h-8zM307.3 596.4h8v8h-8zM316.8 597.4h8v8h-8zM291.6 589.3h8v8h-8zM280.0 584.7h8v8h-8zM262.9 585.3h8v8h-8zM254.4 583.9h8v8h-8zM337.6 593.4h8v8h-8zM336.6 599.4h8v8h-8zM345.7 599.4h8v8h-8zM344.7 610.5h8v8h-8zM358.8 610.1h8v8h-8zM371.6 618.2h8v8h-8zM265.3 576.1h8v8h-8zM284.1 580.6h8v8h-8zM257.9 571.0h8v8h-8zM256.8 570.5h8v8h-8zM251.7 569.6h8v8h-8zM255.3 570.9h8v8h-8zM259.7 573.8h8v8h-8zM258.8 570.2h8v8h-8zM267.2 575.2h8v8h-8zM248.1 567.3h8v8h-8zM257.3 569.6h8v8h-8zM269.2 576.3h8v8h-8zM254.8 574.5h8v8h-8zM251.5 569.3h8v8h-8z" fill="none" stroke="#5b8fc4" stroke-width="0.9"/>
<path d="M306.5 578.2a3.8 3.8 0 1 0 7.6 0a3.8 3.8 0 1 0-7.6 0M355.6 623.0a3.8 3.8 0 1 0 7.6 0a3.8 3.8 0 1 0-7.6 0M232.2 547.0a3.8 3.8 0 1 0 7.6 0a3.8 3.8 0 1 0-7.6 0M229.7 557.0a3.8 3.8 0 1 0 7.6 0a3.8 3.8 0 1 0-7.6 0M211.2 552.0a3.8 3.8 0 1 0 7.6 0a3.8 3.8 0 1 0-7.6 0M222.2 560.0a3.8 3.8 0 1 0 7.6 0a3.8 3.8 0 1 0-7.6 0M201.2 545.0a3.8 3.8 0 1 0 7.6 0a3.8 3.8 0 1 0-7.6 0M242.2 563.0a3.8 3.8 0 1 0 7.6 0a3.8 3.8 0 1 0-7.6 0M258.2 570.0a3.8 3.8 0 1 0 7.6 0a3.8 3.8 0 1 0-7.6 0M196.2 541.0a3.8 3.8 0 1 0 7.6 0a3.8 3.8 0 1 0-7.6 0" fill="none" stroke="#6a9a48" stroke-width="0.9"/>
<path d="M103.0 512.2l4.4 7.8h-8.8zM106.7 513.1l4.4 7.8h-8.8zM112.2 517.3l4.4 7.8h-8.8zM116.4 518.2l4.4 7.8h-8.8zM119.5 520.3l4.4 7.8h-8.8zM123.9 521.2l4.4 7.8h-8.8zM129.0 523.0l4.4 7.8h-8.8zM132.8 525.5l4.4 7.8h-8.8zM138.1 525.0l4.4 7.8h-8.8zM141.8 528.9l4.4 7.8h-8.8zM147.6 527.7l4.4 7.8h-8.8zM150.1 530.6l4.4 7.8h-8.8zM154.0 532.0l4.4 7.8h-8.8zM160.0 534.4l4.4 7.8h-8.8zM162.7 538.1l4.4 7.8h-8.8zM167.4 540.0l4.4 7.8h-8.8zM167.9 537.7l4.4 7.8h-8.8zM170.2 539.0l4.4 7.8h-8.8zM171.5 541.8l4.4 7.8h-8.8zM174.4 540.0l4.4 7.8h-8.8zM174.1 542.2l4.4 7.8h-8.8zM177.9 538.1l4.4 7.8h-8.8zM176.8 544.6l4.4 7.8h-8.8zM181.6 545.1l4.4 7.8h-8.8zM181.2 545.2l4.4 7.8h-8.8zM182.9 537.5l4.4 7.8h-8.8zM183.6 544.4l4.4 7.8h-8.8zM187.0 547.2l4.4 7.8h-8.8zM185.9 547.4l4.4 7.8h-8.8zM190.5 550.8l4.4 7.8h-8.8zM191.2 548.9l4.4 7.8h-8.8zM193.7 544.8l4.4 7.8h-8.8zM193.7 552.9l4.4 7.8h-8.8zM197.8 548.6l4.4 7.8h-8.8zM196.6 549.9l4.4 7.8h-8.8zM200.4 551.7l4.4 7.8h-8.8zM200.3 546.3l4.4 7.8h-8.8zM202.6 551.9l4.4 7.8h-8.8zM202.8 552.1l4.4 7.8h-8.8zM206.2 553.6l4.4 7.8h-8.8zM205.5 552.2l4.4 7.8h-8.8zM210.2 554.1l4.4 7.8h-8.8zM208.6 554.0l4.4 7.8h-8.8zM213.7 553.5l4.4 7.8h-8.8zM211.7 558.2l4.4 7.8h-8.8zM217.0 556.2l4.4 7.8h-8.8zM216.8 555.8l4.4 7.8h-8.8zM219.0 559.5l4.4 7.8h-8.8zM218.8 553.3l4.4 7.8h-8.8zM221.5 563.1l4.4 7.8h-8.8zM221.6 558.8l4.4 7.8h-8.8zM225.6 558.7l4.4 7.8h-8.8zM225.9 560.6l4.4 7.8h-8.8zM228.6 561.4l4.4 7.8h-8.8zM228.5 567.2l4.4 7.8h-8.8zM232.5 565.6l4.4 7.8h-8.8zM232.1 565.7l4.4 7.8h-8.8zM234.1 566.3l4.4 7.8h-8.8zM236.3 563.6l4.4 7.8h-8.8zM239.2 570.7l4.4 7.8h-8.8zM238.2 566.2l4.4 7.8h-8.8zM242.0 566.1l4.4 7.8h-8.8zM240.6 564.7l4.4 7.8h-8.8zM244.0 566.9l4.4 7.8h-8.8zM244.5 567.7l4.4 7.8h-8.8zM247.2 568.7l4.4 7.8h-8.8zM247.1 569.1l4.4 7.8h-8.8zM252.3 570.3l4.4 7.8h-8.8zM251.6 569.3l4.4 7.8h-8.8zM254.2 569.9l4.4 7.8h-8.8zM254.2 568.0l4.4 7.8h-8.8zM259.0 569.9l4.4 7.8h-8.8zM257.7 573.8l4.4 7.8h-8.8zM260.0 573.5l4.4 7.8h-8.8zM260.6 574.3l4.4 7.8h-8.8zM263.3 570.3l4.4 7.8h-8.8zM263.0 571.9l4.4 7.8h-8.8zM266.5 577.0l4.4 7.8h-8.8zM267.5 573.5l4.4 7.8h-8.8zM271.8 577.6l4.4 7.8h-8.8zM271.5 578.7l4.4 7.8h-8.8zM273.5 580.6l4.4 7.8h-8.8zM273.0 578.2l4.4 7.8h-8.8zM277.8 583.4l4.4 7.8h-8.8zM276.6 579.2l4.4 7.8h-8.8zM281.5 577.4l4.4 7.8h-8.8zM281.2 580.1l4.4 7.8h-8.8zM284.1 587.1l4.4 7.8h-8.8zM282.8 584.6l4.4 7.8h-8.8zM285.5 583.6l4.4 7.8h-8.8zM285.5 583.7l4.4 7.8h-8.8zM290.4 583.4l4.4 7.8h-8.8zM291.1 591.0l4.4 7.8h-8.8zM294.4 584.9l4.4 7.8h-8.8zM294.3 587.9l4.4 7.8h-8.8zM295.6 585.9l4.4 7.8h-8.8zM295.5 586.2l4.4 7.8h-8.8zM105.6 518.7l4.4 7.8h-8.8zM107.0 519.7l4.4 7.8h-8.8zM108.5 517.4l4.4 7.8h-8.8zM133.0 513.9l4.4 7.8h-8.8zM135.5 514.9l4.4 7.8h-8.8zM157.7 512.9l4.4 7.8h-8.8zM139.7 518.7l4.4 7.8h-8.8zM166.3 524.5l4.4 7.8h-8.8zM172.1 527.4l4.4 7.8h-8.8zM175.0 529.7l4.4 7.8h-8.8zM179.8 532.2l4.4 7.8h-8.8zM136.5 529.3l4.4 7.8h-8.8zM152.8 537.0l4.4 7.8h-8.8zM161.5 540.9l4.4 7.8h-8.8zM169.2 541.9l4.4 7.8h-8.8zM177.0 545.7l4.4 7.8h-8.8zM183.7 546.7l4.4 7.8h-8.8zM187.6 539.0l4.4 7.8h-8.8zM195.3 541.9l4.4 7.8h-8.8z" fill="none" stroke="#222" stroke-width="0.85"/>
<path d="M105.8 520.5a3.9 3.9 0 1 0 7.8 0a3.9 3.9 0 1 0-7.8 0M111.1 519.3a3.9 3.9 0 1 0 7.8 0a3.9 3.9 0 1 0-7.8 0M114.6 523.3a3.9 3.9 0 1 0 7.8 0a3.9 3.9 0 1 0-7.8 0M121.8 527.4a3.9 3.9 0 1 0 7.8 0a3.9 3.9 0 1 0-7.8 0M127.0 527.0a3.9 3.9 0 1 0 7.8 0a3.9 3.9 0 1 0-7.8 0M132.5 527.7a3.9 3.9 0 1 0 7.8 0a3.9 3.9 0 1 0-7.8 0M136.7 527.8a3.9 3.9 0 1 0 7.8 0a3.9 3.9 0 1 0-7.8 0M142.2 536.6a3.9 3.9 0 1 0 7.8 0a3.9 3.9 0 1 0-7.8 0M147.6 530.6a3.9 3.9 0 1 0 7.8 0a3.9 3.9 0 1 0-7.8 0M152.3 536.5a3.9 3.9 0 1 0 7.8 0a3.9 3.9 0 1 0-7.8 0M157.6 534.9a3.9 3.9 0 1 0 7.8 0a3.9 3.9 0 1 0-7.8 0M164.7 536.6a3.9 3.9 0 1 0 7.8 0a3.9 3.9 0 1 0-7.8 0M168.3 539.0a3.9 3.9 0 1 0 7.8 0a3.9 3.9 0 1 0-7.8 0M175.0 549.0a3.9 3.9 0 1 0 7.8 0a3.9 3.9 0 1 0-7.8 0M179.6 546.8a3.9 3.9 0 1 0 7.8 0a3.9 3.9 0 1 0-7.8 0M178.7 545.8a3.9 3.9 0 1 0 7.8 0a3.9 3.9 0 1 0-7.8 0M184.6 549.2a3.9 3.9 0 1 0 7.8 0a3.9 3.9 0 1 0-7.8 0M184.5 549.6a3.9 3.9 0 1 0 7.8 0a3.9 3.9 0 1 0-7.8 0M186.6 545.9a3.9 3.9 0 1 0 7.8 0a3.9 3.9 0 1 0-7.8 0M186.1 551.0a3.9 3.9 0 1 0 7.8 0a3.9 3.9 0 1 0-7.8 0M189.6 550.0a3.9 3.9 0 1 0 7.8 0a3.9 3.9 0 1 0-7.8 0M190.4 548.6a3.9 3.9 0 1 0 7.8 0a3.9 3.9 0 1 0-7.8 0M193.0 551.9a3.9 3.9 0 1 0 7.8 0a3.9 3.9 0 1 0-7.8 0M194.7 551.1a3.9 3.9 0 1 0 7.8 0a3.9 3.9 0 1 0-7.8 0M196.7 554.9a3.9 3.9 0 1 0 7.8 0a3.9 3.9 0 1 0-7.8 0M198.1 552.2a3.9 3.9 0 1 0 7.8 0a3.9 3.9 0 1 0-7.8 0M200.3 551.7a3.9 3.9 0 1 0 7.8 0a3.9 3.9 0 1 0-7.8 0M200.6 555.0a3.9 3.9 0 1 0 7.8 0a3.9 3.9 0 1 0-7.8 0M204.0 553.0a3.9 3.9 0 1 0 7.8 0a3.9 3.9 0 1 0-7.8 0M203.1 554.6a3.9 3.9 0 1 0 7.8 0a3.9 3.9 0 1 0-7.8 0M206.1 555.6a3.9 3.9 0 1 0 7.8 0a3.9 3.9 0 1 0-7.8 0M207.3 557.6a3.9 3.9 0 1 0 7.8 0a3.9 3.9 0 1 0-7.8 0M211.4 559.6a3.9 3.9 0 1 0 7.8 0a3.9 3.9 0 1 0-7.8 0M210.8 558.4a3.9 3.9 0 1 0 7.8 0a3.9 3.9 0 1 0-7.8 0M214.4 558.9a3.9 3.9 0 1 0 7.8 0a3.9 3.9 0 1 0-7.8 0M214.4 560.0a3.9 3.9 0 1 0 7.8 0a3.9 3.9 0 1 0-7.8 0M217.0 560.7a3.9 3.9 0 1 0 7.8 0a3.9 3.9 0 1 0-7.8 0M217.7 557.0a3.9 3.9 0 1 0 7.8 0a3.9 3.9 0 1 0-7.8 0M221.2 561.4a3.9 3.9 0 1 0 7.8 0a3.9 3.9 0 1 0-7.8 0M220.9 566.0a3.9 3.9 0 1 0 7.8 0a3.9 3.9 0 1 0-7.8 0M224.8 565.4a3.9 3.9 0 1 0 7.8 0a3.9 3.9 0 1 0-7.8 0M225.0 563.2a3.9 3.9 0 1 0 7.8 0a3.9 3.9 0 1 0-7.8 0M227.8 566.4a3.9 3.9 0 1 0 7.8 0a3.9 3.9 0 1 0-7.8 0M229.1 565.2a3.9 3.9 0 1 0 7.8 0a3.9 3.9 0 1 0-7.8 0M231.9 562.4a3.9 3.9 0 1 0 7.8 0a3.9 3.9 0 1 0-7.8 0M230.7 568.7a3.9 3.9 0 1 0 7.8 0a3.9 3.9 0 1 0-7.8 0M234.9 563.4a3.9 3.9 0 1 0 7.8 0a3.9 3.9 0 1 0-7.8 0M233.9 567.9a3.9 3.9 0 1 0 7.8 0a3.9 3.9 0 1 0-7.8 0M237.2 568.5a3.9 3.9 0 1 0 7.8 0a3.9 3.9 0 1 0-7.8 0M237.6 567.7a3.9 3.9 0 1 0 7.8 0a3.9 3.9 0 1 0-7.8 0M240.6 570.8a3.9 3.9 0 1 0 7.8 0a3.9 3.9 0 1 0-7.8 0M242.7 572.9a3.9 3.9 0 1 0 7.8 0a3.9 3.9 0 1 0-7.8 0M244.2 571.1a3.9 3.9 0 1 0 7.8 0a3.9 3.9 0 1 0-7.8 0M244.2 573.3a3.9 3.9 0 1 0 7.8 0a3.9 3.9 0 1 0-7.8 0M249.5 571.1a3.9 3.9 0 1 0 7.8 0a3.9 3.9 0 1 0-7.8 0M249.7 572.9a3.9 3.9 0 1 0 7.8 0a3.9 3.9 0 1 0-7.8 0M251.7 579.3a3.9 3.9 0 1 0 7.8 0a3.9 3.9 0 1 0-7.8 0M252.8 573.3a3.9 3.9 0 1 0 7.8 0a3.9 3.9 0 1 0-7.8 0M254.5 576.6a3.9 3.9 0 1 0 7.8 0a3.9 3.9 0 1 0-7.8 0M254.9 573.6a3.9 3.9 0 1 0 7.8 0a3.9 3.9 0 1 0-7.8 0M258.0 577.1a3.9 3.9 0 1 0 7.8 0a3.9 3.9 0 1 0-7.8 0M257.6 572.7a3.9 3.9 0 1 0 7.8 0a3.9 3.9 0 1 0-7.8 0M262.4 577.8a3.9 3.9 0 1 0 7.8 0a3.9 3.9 0 1 0-7.8 0M261.8 577.1a3.9 3.9 0 1 0 7.8 0a3.9 3.9 0 1 0-7.8 0M266.0 579.5a3.9 3.9 0 1 0 7.8 0a3.9 3.9 0 1 0-7.8 0M266.9 579.2a3.9 3.9 0 1 0 7.8 0a3.9 3.9 0 1 0-7.8 0M269.8 579.3a3.9 3.9 0 1 0 7.8 0a3.9 3.9 0 1 0-7.8 0M268.5 579.9a3.9 3.9 0 1 0 7.8 0a3.9 3.9 0 1 0-7.8 0M271.3 580.5a3.9 3.9 0 1 0 7.8 0a3.9 3.9 0 1 0-7.8 0M271.5 582.5a3.9 3.9 0 1 0 7.8 0a3.9 3.9 0 1 0-7.8 0M275.7 579.4a3.9 3.9 0 1 0 7.8 0a3.9 3.9 0 1 0-7.8 0M275.3 584.3a3.9 3.9 0 1 0 7.8 0a3.9 3.9 0 1 0-7.8 0M278.5 581.3a3.9 3.9 0 1 0 7.8 0a3.9 3.9 0 1 0-7.8 0M279.9 585.3a3.9 3.9 0 1 0 7.8 0a3.9 3.9 0 1 0-7.8 0M281.7 582.0a3.9 3.9 0 1 0 7.8 0a3.9 3.9 0 1 0-7.8 0M282.6 584.1a3.9 3.9 0 1 0 7.8 0a3.9 3.9 0 1 0-7.8 0M285.1 583.5a3.9 3.9 0 1 0 7.8 0a3.9 3.9 0 1 0-7.8 0M287.0 587.9a3.9 3.9 0 1 0 7.8 0a3.9 3.9 0 1 0-7.8 0M288.6 587.0a3.9 3.9 0 1 0 7.8 0a3.9 3.9 0 1 0-7.8 0M290.6 588.8a3.9 3.9 0 1 0 7.8 0a3.9 3.9 0 1 0-7.8 0M101.7 518.5a3.9 3.9 0 1 0 7.8 0a3.9 3.9 0 1 0-7.8 0M108.5 520.4a3.9 3.9 0 1 0 7.8 0a3.9 3.9 0 1 0-7.8 0M138.3 523.3a3.9 3.9 0 1 0 7.8 0a3.9 3.9 0 1 0-7.8 0M168.2 523.3a3.9 3.9 0 1 0 7.8 0a3.9 3.9 0 1 0-7.8 0M146.1 529.1a3.9 3.9 0 1 0 7.8 0a3.9 3.9 0 1 0-7.8 0M155.7 534.9a3.9 3.9 0 1 0 7.8 0a3.9 3.9 0 1 0-7.8 0M139.3 534.9a3.9 3.9 0 1 0 7.8 0a3.9 3.9 0 1 0-7.8 0M181.3 535.9a3.9 3.9 0 1 0 7.8 0a3.9 3.9 0 1 0-7.8 0M188.5 541.6a3.9 3.9 0 1 0 7.8 0a3.9 3.9 0 1 0-7.8 0M198.1 544.5a3.9 3.9 0 1 0 7.8 0a3.9 3.9 0 1 0-7.8 0M203.9 547.4a3.9 3.9 0 1 0 7.8 0a3.9 3.9 0 1 0-7.8 0M208.7 550.3a3.9 3.9 0 1 0 7.8 0a3.9 3.9 0 1 0-7.8 0M214.5 553.2a3.9 3.9 0 1 0 7.8 0a3.9 3.9 0 1 0-7.8 0" fill="none" stroke="#e8282c" stroke-width="0.85"/>
</g>
<path d="M103.5 515.8L387.7 624.3" stroke="#222" stroke-width="0.95"/>
<path d="M203.1 574.6L489.4 758.8" stroke="#222" stroke-width="0.95"/>
<path d="M268.5 592.5L403 647" stroke="#f01010" stroke-width="2.6" stroke-dasharray="2.6 3.1"/>
<path d="M394.0 557.5L314.4 570.3" stroke="#1a1a1a" stroke-width="1.1"/><path d="M303.5 572.0L313.6 565.7L315.1 574.8z" fill="#111"/>
<path d="M403.0 646.8L432.7 635.7" stroke="#1a1a1a" stroke-width="1.1"/><path d="M443.0 631.8L434.3 640.0L431.1 631.4z" fill="#111"/>
<path d="M377.8 803.4L425.9 771.1" stroke="#1a1a1a" stroke-width="1.1"/><path d="M435.0 765.0L428.4 775.0L423.3 767.3z" fill="#111"/>
<text class="c" x="88.6" y="520.4" font-size="14.5" text-anchor="end" textLength="29.5" lengthAdjust="spacingAndGlyphs">1.00</text>
<text class="c" x="88.6" y="643.9333333333333" font-size="14.5" text-anchor="end" textLength="29.5" lengthAdjust="spacingAndGlyphs">0.10</text>
<text class="c" x="88.6" y="767.4666666666667" font-size="14.5" text-anchor="end" textLength="29.5" lengthAdjust="spacingAndGlyphs">0.01</text>
<text class="c" x="88.6" y="891.0" font-size="14.5" text-anchor="end" textLength="29.5" lengthAdjust="spacingAndGlyphs">0.00</text>
<text class="c" x="103.5" y="913.7" font-size="14.5" text-anchor="middle" textLength="29.5" lengthAdjust="spacingAndGlyphs">0.00</text>
<text class="c" x="210.625" y="913.7" font-size="14.5" text-anchor="middle" textLength="29.5" lengthAdjust="spacingAndGlyphs">0.01</text>
<text class="c" x="317.75" y="913.7" font-size="14.5" text-anchor="middle" textLength="29.5" lengthAdjust="spacingAndGlyphs">0.10</text>
<text class="c" x="424.875" y="913.7" font-size="14.5" text-anchor="middle" textLength="29.5" lengthAdjust="spacingAndGlyphs">1.00</text>
<text class="c" x="531.0" y="913.7" font-size="14.5" text-anchor="middle" textLength="37.5" lengthAdjust="spacingAndGlyphs">10.00</text>
<text class="c" transform="translate(42 700) rotate(-90)" font-size="16" text-anchor="middle" textLength="216" lengthAdjust="spacingAndGlyphs">Experimental Liquid Holdup (-)</text>
<text class="c" x="241" y="948" font-size="16.5" textLength="140" lengthAdjust="spacingAndGlyphs">[(<tspan font-style="italic">u</tspan><tspan font-size="10.5" dy="3" font-weight="normal">(G)</tspan><tspan dy="-3">/</tspan><tspan font-style="italic">u</tspan><tspan font-size="10.5" dy="3" font-weight="normal">(L)</tspan><tspan dy="-3">)×(</tspan><tspan font-style="italic">ρ</tspan><tspan font-size="10.5" dy="3" font-weight="normal">(G)</tspan><tspan dy="-3">/</tspan><tspan font-style="italic">ρ</tspan><tspan font-size="10.5" dy="3" font-weight="normal">(L)</tspan><tspan dy="-3">)]</tspan></text>
<text class="c" x="394" y="536.8" font-size="14.5" text-anchor="start" textLength="130.5" lengthAdjust="spacingAndGlyphs">High Liquid Holdup</text>
<text class="c" x="404" y="559" font-size="15" text-anchor="start" textLength="112" lengthAdjust="spacingAndGlyphs">y = 0.1009x<tspan font-size="9.5" dy="-6">–0.331</tspan></text>
<text class="c" x="424" y="581" font-size="15" text-anchor="start" textLength="71" lengthAdjust="spacingAndGlyphs">R² = 0.933</text>
<text class="c" x="446" y="632.5" font-size="17.5" text-anchor="start" textLength="77" lengthAdjust="spacingAndGlyphs">Transition</text>
<text class="c" x="446" y="656" font-size="17.5" text-anchor="start" textLength="53" lengthAdjust="spacingAndGlyphs">Region</text>
<text class="c" x="350" y="824" font-size="14.5" text-anchor="start" textLength="128" lengthAdjust="spacingAndGlyphs">Low Liquid Holdup</text>
<text class="c" x="357.5" y="846" font-size="15" text-anchor="start" textLength="111.5" lengthAdjust="spacingAndGlyphs">y = 0.0232x<tspan font-size="9.5" dy="-6">–0.558</tspan></text>
<text class="c" x="373.5" y="867.5" font-size="15" text-anchor="start" textLength="79.5" lengthAdjust="spacingAndGlyphs">R² = 0.8877</text>
<text class="c" x="133" y="748.1" font-size="15.5" text-anchor="start" textLength="180" lengthAdjust="spacingAndGlyphs">Our work ECT (Horizontal)</text>
<text class="c" x="133" y="774.3" font-size="15.5" text-anchor="start" textLength="180.5" lengthAdjust="spacingAndGlyphs">Our work ECT (Upward 9°)</text>
<text class="c" x="133" y="800.4" font-size="15.5" text-anchor="start" textLength="163" lengthAdjust="spacingAndGlyphs">Minami and Brill (1987)</text>
<text class="c" x="133" y="826.1" font-size="15.5" text-anchor="start" textLength="151.5" lengthAdjust="spacingAndGlyphs">Abdul–Majeed (1996)</text>
<text class="c" x="133" y="852.0" font-size="15.5" text-anchor="start" textLength="163" lengthAdjust="spacingAndGlyphs">Minami and Brill (1987)</text>
<text class="c" x="133" y="878.1" font-size="15.5" text-anchor="start" textLength="151.5" lengthAdjust="spacingAndGlyphs">Abdul–Majeed (1996)</text>
<path d="M123.8 738.7l3.9 7.4h-7.8z" fill="none" stroke="#222" stroke-width="1"/>
<circle cx="123.8" cy="768.9" r="3.6" fill="none" stroke="#e0383c" stroke-width="1"/>
<rect x="120.2" y="791.4" width="7.2" height="7.2" fill="none" stroke="#6a9ac8" stroke-width="1"/>
<circle cx="123.8" cy="820.7" r="3.6" fill="none" stroke="#7aa860" stroke-width="1"/>
<rect x="120.0" y="842.8" width="7.6" height="7.6" fill="#4472c4"/>
<circle cx="123.8" cy="872.7" r="3.7" fill="#92d050"/></g>
<g id="chart2"><rect x="647.6" y="583.5" width="410.9" height="317.7" fill="#fff" stroke="#505050" stroke-width="1.2"/>
<path d="M647.6 901.2v-6M647.6 901.2h6M664.0 901.2v-4M647.6 888.5h4M680.5 901.2v-4M647.6 875.8h4M696.9 901.2v-4M647.6 863.1h4M713.3 901.2v-4M647.6 850.4h4M729.8 901.2v-6M647.6 837.7h6M746.2 901.2v-4M647.6 825.0h4M762.7 901.2v-4M647.6 812.2h4M779.1 901.2v-4M647.6 799.5h4M795.5 901.2v-4M647.6 786.8h4M812.0 901.2v-6M647.6 774.1h6M828.4 901.2v-4M647.6 761.4h4M844.8 901.2v-4M647.6 748.7h4M861.3 901.2v-4M647.6 736.0h4M877.7 901.2v-4M647.6 723.3h4M894.1 901.2v-6M647.6 710.6h6M910.6 901.2v-4M647.6 697.9h4M927.0 901.2v-4M647.6 685.2h4M943.4 901.2v-4M647.6 672.5h4M959.9 901.2v-4M647.6 659.7h4M976.3 901.2v-6M647.6 647.0h6M992.8 901.2v-4M647.6 634.3h4M1009.2 901.2v-4M647.6 621.6h4M1025.6 901.2v-4M647.6 608.9h4M1042.1 901.2v-4M647.6 596.2h4M1058.5 901.2v-6M647.6 583.5h6" stroke="#595959" stroke-width="1" fill="none"/>
<path d="M772.0 739.5l3.6 6.6h-7.2zM676.7 863.2l3.6 6.6h-7.2zM668.6 880.6l3.6 6.6h-7.2zM907.2 639.9l3.6 6.6h-7.2zM665.8 870.0l3.6 6.6h-7.2zM862.8 659.9l3.6 6.6h-7.2zM795.0 727.8l3.6 6.6h-7.2zM688.8 848.6l3.6 6.6h-7.2zM743.8 782.3l3.6 6.6h-7.2zM698.5 810.0l3.6 6.6h-7.2zM686.9 834.4l3.6 6.6h-7.2zM676.8 873.7l3.6 6.6h-7.2zM841.1 716.2l3.6 6.6h-7.2zM955.4 638.0l3.6 6.6h-7.2zM852.6 721.5l3.6 6.6h-7.2zM687.4 853.5l3.6 6.6h-7.2zM905.1 608.4l3.6 6.6h-7.2zM876.1 648.9l3.6 6.6h-7.2zM849.6 690.0l3.6 6.6h-7.2zM804.6 728.8l3.6 6.6h-7.2zM739.3 805.8l3.6 6.6h-7.2zM914.6 602.4l3.6 6.6h-7.2zM841.3 700.5l3.6 6.6h-7.2zM881.8 664.7l3.6 6.6h-7.2zM746.5 798.8l3.6 6.6h-7.2zM671.7 871.4l3.6 6.6h-7.2zM869.9 655.4l3.6 6.6h-7.2zM853.3 682.8l3.6 6.6h-7.2zM825.7 747.4l3.6 6.6h-7.2zM753.0 804.3l3.6 6.6h-7.2zM925.2 604.2l3.6 6.6h-7.2zM751.7 788.8l3.6 6.6h-7.2zM812.4 715.5l3.6 6.6h-7.2zM694.7 839.8l3.6 6.6h-7.2zM724.2 814.0l3.6 6.6h-7.2zM743.1 791.8l3.6 6.6h-7.2zM795.9 728.7l3.6 6.6h-7.2zM923.8 665.1l3.6 6.6h-7.2zM850.5 693.0l3.6 6.6h-7.2zM677.4 879.0l3.6 6.6h-7.2zM789.0 706.7l3.6 6.6h-7.2zM834.9 683.6l3.6 6.6h-7.2zM762.0 774.9l3.6 6.6h-7.2zM698.2 858.5l3.6 6.6h-7.2zM803.5 744.0l3.6 6.6h-7.2zM821.0 746.0l3.6 6.6h-7.2zM656.5 885.7l3.6 6.6h-7.2zM774.1 836.0l3.6 6.6h-7.2zM760.0 780.9l3.6 6.6h-7.2zM730.4 793.7l3.6 6.6h-7.2zM718.0 823.4l3.6 6.6h-7.2zM687.0 850.8l3.6 6.6h-7.2zM821.7 735.6l3.6 6.6h-7.2zM778.9 777.0l3.6 6.6h-7.2zM920.4 638.4l3.6 6.6h-7.2zM757.4 746.1l3.6 6.6h-7.2zM716.6 855.4l3.6 6.6h-7.2zM808.3 719.3l3.6 6.6h-7.2zM871.4 659.2l3.6 6.6h-7.2zM819.9 797.8l3.6 6.6h-7.2zM816.6 734.4l3.6 6.6h-7.2zM722.4 803.7l3.6 6.6h-7.2zM789.1 748.0l3.6 6.6h-7.2zM791.0 706.8l3.6 6.6h-7.2zM786.1 735.3l3.6 6.6h-7.2zM731.8 817.1l3.6 6.6h-7.2zM761.5 793.9l3.6 6.6h-7.2zM815.1 681.6l3.6 6.6h-7.2zM726.8 810.9l3.6 6.6h-7.2zM723.8 860.5l3.6 6.6h-7.2zM727.0 827.6l3.6 6.6h-7.2zM842.6 715.1l3.6 6.6h-7.2zM802.4 692.8l3.6 6.6h-7.2zM725.5 821.1l3.6 6.6h-7.2zM781.8 750.3l3.6 6.6h-7.2zM826.4 763.3l3.6 6.6h-7.2zM752.9 745.0l3.6 6.6h-7.2zM774.7 771.6l3.6 6.6h-7.2zM807.2 725.0l3.6 6.6h-7.2zM731.7 802.5l3.6 6.6h-7.2zM736.7 794.4l3.6 6.6h-7.2zM854.1 702.3l3.6 6.6h-7.2zM686.9 875.0l3.6 6.6h-7.2zM666.3 868.0l3.6 6.6h-7.2zM723.5 788.9l3.6 6.6h-7.2zM701.5 828.5l3.6 6.6h-7.2zM839.0 672.7l3.6 6.6h-7.2zM852.1 663.3l3.6 6.6h-7.2zM719.8 809.6l3.6 6.6h-7.2zM790.5 752.3l3.6 6.6h-7.2zM695.4 851.6l3.6 6.6h-7.2zM831.7 737.7l3.6 6.6h-7.2zM892.6 700.0l3.6 6.6h-7.2zM712.1 842.4l3.6 6.6h-7.2zM696.7 826.9l3.6 6.6h-7.2zM886.5 679.8l3.6 6.6h-7.2zM745.9 788.9l3.6 6.6h-7.2zM747.4 750.7l3.6 6.6h-7.2zM817.0 701.7l3.6 6.6h-7.2zM710.9 829.6l3.6 6.6h-7.2zM700.6 830.9l3.6 6.6h-7.2zM807.2 716.2l3.6 6.6h-7.2zM915.2 629.5l3.6 6.6h-7.2zM720.9 874.7l3.6 6.6h-7.2zM774.4 764.0l3.6 6.6h-7.2zM809.8 752.5l3.6 6.6h-7.2zM721.4 840.7l3.6 6.6h-7.2zM874.3 685.6l3.6 6.6h-7.2zM877.9 655.2l3.6 6.6h-7.2zM726.9 786.1l3.6 6.6h-7.2zM755.4 770.0l3.6 6.6h-7.2zM772.8 689.0l3.6 6.6h-7.2zM803.3 733.2l3.6 6.6h-7.2zM693.5 848.7l3.6 6.6h-7.2zM814.0 688.9l3.6 6.6h-7.2zM759.8 789.5l3.6 6.6h-7.2zM726.2 810.6l3.6 6.6h-7.2zM848.7 694.2l3.6 6.6h-7.2zM666.5 867.2l3.6 6.6h-7.2zM909.9 628.3l3.6 6.6h-7.2zM893.2 692.4l3.6 6.6h-7.2zM701.0 840.3l3.6 6.6h-7.2zM690.0 845.1l3.6 6.6h-7.2zM748.9 762.2l3.6 6.6h-7.2zM877.9 649.2l3.6 6.6h-7.2zM674.2 855.0l3.6 6.6h-7.2zM734.0 808.1l3.6 6.6h-7.2zM722.4 809.4l3.6 6.6h-7.2zM774.3 799.9l3.6 6.6h-7.2zM715.0 808.7l3.6 6.6h-7.2zM716.8 812.4l3.6 6.6h-7.2zM752.0 792.3l3.6 6.6h-7.2zM692.0 857.6l3.6 6.6h-7.2zM869.5 699.6l3.6 6.6h-7.2zM683.1 856.2l3.6 6.6h-7.2zM806.2 810.5l3.6 6.6h-7.2zM918.1 606.1l3.6 6.6h-7.2zM717.8 822.3l3.6 6.6h-7.2zM776.6 743.2l3.6 6.6h-7.2zM730.7 817.0l3.6 6.6h-7.2zM804.5 708.8l3.6 6.6h-7.2zM752.7 797.3l3.6 6.6h-7.2zM928.9 599.9l3.6 6.6h-7.2zM901.6 654.0l3.6 6.6h-7.2zM930.2 635.1l3.6 6.6h-7.2zM676.8 858.1l3.6 6.6h-7.2zM763.3 769.9l3.6 6.6h-7.2zM775.1 759.1l3.6 6.6h-7.2zM831.6 749.2l3.6 6.6h-7.2zM717.0 803.0l3.6 6.6h-7.2zM802.7 721.8l3.6 6.6h-7.2zM714.5 806.5l3.6 6.6h-7.2zM727.3 798.0l3.6 6.6h-7.2zM706.4 841.9l3.6 6.6h-7.2zM667.7 885.1l3.6 6.6h-7.2zM699.6 859.9l3.6 6.6h-7.2zM755.5 761.1l3.6 6.6h-7.2zM676.0 867.0l3.6 6.6h-7.2zM955.7 592.8l3.6 6.6h-7.2zM701.1 806.6l3.6 6.6h-7.2zM857.3 694.9l3.6 6.6h-7.2zM739.9 810.3l3.6 6.6h-7.2zM794.1 822.0l3.6 6.6h-7.2zM714.5 825.4l3.6 6.6h-7.2zM856.8 653.2l3.6 6.6h-7.2zM734.0 781.3l3.6 6.6h-7.2zM756.9 870.6l3.6 6.6h-7.2zM772.6 746.5l3.6 6.6h-7.2zM873.9 670.9l3.6 6.6h-7.2zM738.0 805.4l3.6 6.6h-7.2zM783.0 732.1l3.6 6.6h-7.2zM739.4 812.5l3.6 6.6h-7.2zM832.0 702.0l3.6 6.6h-7.2zM811.2 702.5l3.6 6.6h-7.2zM838.8 699.8l3.6 6.6h-7.2zM768.3 770.9l3.6 6.6h-7.2zM725.1 835.0l3.6 6.6h-7.2zM776.3 785.6l3.6 6.6h-7.2zM691.8 852.6l3.6 6.6h-7.2zM702.5 857.4l3.6 6.6h-7.2zM656.1 885.2l3.6 6.6h-7.2zM686.7 850.8l3.6 6.6h-7.2zM869.3 663.5l3.6 6.6h-7.2zM908.6 649.2l3.6 6.6h-7.2zM833.4 713.2l3.6 6.6h-7.2zM755.5 776.2l3.6 6.6h-7.2zM702.5 854.3l3.6 6.6h-7.2zM828.1 674.4l3.6 6.6h-7.2zM872.5 693.2l3.6 6.6h-7.2zM879.5 711.0l3.6 6.6h-7.2zM759.8 823.0l3.6 6.6h-7.2zM726.5 800.4l3.6 6.6h-7.2zM765.6 810.1l3.6 6.6h-7.2zM804.6 739.1l3.6 6.6h-7.2zM808.0 729.9l3.6 6.6h-7.2zM654.9 890.2l3.6 6.6h-7.2zM747.9 793.0l3.6 6.6h-7.2zM718.3 803.0l3.6 6.6h-7.2zM968.5 619.5l3.6 6.6h-7.2zM716.7 818.2l3.6 6.6h-7.2zM790.1 739.0l3.6 6.6h-7.2zM727.3 826.4l3.6 6.6h-7.2zM745.7 796.2l3.6 6.6h-7.2zM788.1 740.0l3.6 6.6h-7.2zM708.5 838.1l3.6 6.6h-7.2zM712.9 818.6l3.6 6.6h-7.2zM939.2 613.6l3.6 6.6h-7.2zM827.1 685.4l3.6 6.6h-7.2zM797.5 716.3l3.6 6.6h-7.2zM692.9 859.9l3.6 6.6h-7.2zM811.6 740.1l3.6 6.6h-7.2zM840.0 705.6l3.6 6.6h-7.2zM751.9 806.0l3.6 6.6h-7.2zM665.8 878.6l3.6 6.6h-7.2zM772.1 752.5l3.6 6.6h-7.2zM827.1 711.3l3.6 6.6h-7.2zM703.3 855.1l3.6 6.6h-7.2zM715.2 805.9l3.6 6.6h-7.2zM714.1 801.5l3.6 6.6h-7.2zM822.2 730.4l3.6 6.6h-7.2zM789.1 743.9l3.6 6.6h-7.2zM669.1 894.4l3.6 6.6h-7.2zM734.0 831.7l3.6 6.6h-7.2zM836.5 751.2l3.6 6.6h-7.2zM713.9 819.3l3.6 6.6h-7.2zM721.0 824.7l3.6 6.6h-7.2zM827.6 721.6l3.6 6.6h-7.2zM765.6 774.4l3.6 6.6h-7.2zM681.2 872.6l3.6 6.6h-7.2zM785.5 732.2l3.6 6.6h-7.2zM722.7 823.5l3.6 6.6h-7.2zM741.4 804.8l3.6 6.6h-7.2zM771.9 833.3l3.6 6.6h-7.2zM816.0 689.9l3.6 6.6h-7.2zM804.7 707.6l3.6 6.6h-7.2zM752.7 773.5l3.6 6.6h-7.2zM772.9 769.6l3.6 6.6h-7.2zM834.1 692.5l3.6 6.6h-7.2zM915.9 640.6l3.6 6.6h-7.2zM825.8 697.3l3.6 6.6h-7.2zM892.1 682.0l3.6 6.6h-7.2zM882.6 687.5l3.6 6.6h-7.2zM748.9 807.1l3.6 6.6h-7.2zM828.2 673.8l3.6 6.6h-7.2zM728.4 810.2l3.6 6.6h-7.2zM810.3 724.3l3.6 6.6h-7.2zM917.8 646.5l3.6 6.6h-7.2zM759.3 762.9l3.6 6.6h-7.2zM759.6 760.1l3.6 6.6h-7.2zM932.9 595.8l3.6 6.6h-7.2zM821.8 762.0l3.6 6.6h-7.2zM693.4 839.5l3.6 6.6h-7.2zM757.1 772.7l3.6 6.6h-7.2zM777.3 766.3l3.6 6.6h-7.2zM894.2 662.6l3.6 6.6h-7.2zM781.3 763.1l3.6 6.6h-7.2zM681.3 866.1l3.6 6.6h-7.2zM690.3 874.5l3.6 6.6h-7.2zM752.7 798.7l3.6 6.6h-7.2zM920.8 629.5l3.6 6.6h-7.2zM740.3 773.2l3.6 6.6h-7.2zM678.1 846.7l3.6 6.6h-7.2zM711.6 816.7l3.6 6.6h-7.2zM802.2 744.2l3.6 6.6h-7.2zM929.3 625.7l3.6 6.6h-7.2zM736.6 791.9l3.6 6.6h-7.2zM677.6 882.8l3.6 6.6h-7.2zM670.5 859.4l3.6 6.6h-7.2zM824.0 719.1l3.6 6.6h-7.2zM821.0 667.3l3.6 6.6h-7.2zM797.3 709.6l3.6 6.6h-7.2zM683.2 872.7l3.6 6.6h-7.2zM724.8 816.6l3.6 6.6h-7.2zM795.5 729.2l3.6 6.6h-7.2zM817.3 687.2l3.6 6.6h-7.2zM861.6 672.9l3.6 6.6h-7.2zM775.1 782.6l3.6 6.6h-7.2zM934.5 586.3l3.6 6.6h-7.2zM743.9 790.8l3.6 6.6h-7.2zM714.8 803.1l3.6 6.6h-7.2zM832.6 715.2l3.6 6.6h-7.2zM781.1 778.1l3.6 6.6h-7.2zM769.2 781.6l3.6 6.6h-7.2zM786.3 807.9l3.6 6.6h-7.2zM818.7 730.1l3.6 6.6h-7.2zM666.0 866.6l3.6 6.6h-7.2zM688.3 854.6l3.6 6.6h-7.2zM794.7 678.6l3.6 6.6h-7.2zM702.7 827.1l3.6 6.6h-7.2zM875.6 698.2l3.6 6.6h-7.2zM843.5 688.8l3.6 6.6h-7.2zM767.6 779.1l3.6 6.6h-7.2zM697.9 867.3l3.6 6.6h-7.2zM881.8 597.0l3.6 6.6h-7.2zM882.6 600.2l3.6 6.6h-7.2zM840.7 633.5l3.6 6.6h-7.2zM861.3 625.6l3.6 6.6h-7.2zM865.4 630.3l3.6 6.6h-7.2zM873.6 633.5l3.6 6.6h-7.2zM853.0 652.6l3.6 6.6h-7.2zM861.3 649.4l3.6 6.6h-7.2zM865.4 665.3l3.6 6.6h-7.2zM836.6 678.0l3.6 6.6h-7.2zM840.7 681.2l3.6 6.6h-7.2zM783.2 712.9l3.6 6.6h-7.2zM787.3 722.5l3.6 6.6h-7.2zM775.0 725.6l3.6 6.6h-7.2zM746.2 741.5l3.6 6.6h-7.2zM754.4 743.1l3.6 6.6h-7.2zM721.6 773.3l3.6 6.6h-7.2zM729.8 773.3l3.6 6.6h-7.2zM692.8 811.4l3.6 6.6h-7.2zM701.0 817.8l3.6 6.6h-7.2zM787.3 813.0l3.6 6.6h-7.2zM783.2 821.0l3.6 6.6h-7.2zM791.4 822.5l3.6 6.6h-7.2zM795.5 824.1l3.6 6.6h-7.2zM807.9 822.5l3.6 6.6h-7.2zM812.0 830.5l3.6 6.6h-7.2zM762.7 843.2l3.6 6.6h-7.2zM779.1 851.1l3.6 6.6h-7.2zM758.5 849.5l3.6 6.6h-7.2zM750.3 852.7l3.6 6.6h-7.2zM746.2 855.9l3.6 6.6h-7.2zM957.8 584.3l3.6 6.6h-7.2zM959.9 582.7l3.6 6.6h-7.2zM943.4 601.7l3.6 6.6h-7.2zM951.7 604.9l3.6 6.6h-7.2zM914.7 601.7l3.6 6.6h-7.2zM906.5 611.3l3.6 6.6h-7.2zM918.8 608.1l3.6 6.6h-7.2z" fill="none" stroke="#f0452c" stroke-width="0.9"/>
<path d="M772.7 740.8l6.6 6.6m0-6.6l-6.6 6.6M678.0 864.9l6.6 6.6m0-6.6l-6.6 6.6M671.8 882.1l6.6 6.6m0-6.6l-6.6 6.6M913.1 640.7l6.6 6.6m0-6.6l-6.6 6.6M666.6 871.6l6.6 6.6m0-6.6l-6.6 6.6M864.3 661.4l6.6 6.6m0-6.6l-6.6 6.6M690.5 848.0l6.6 6.6m0-6.6l-6.6 6.6M701.4 812.6l6.6 6.6m0-6.6l-6.6 6.6M688.1 833.1l6.6 6.6m0-6.6l-6.6 6.6M676.9 875.2l6.6 6.6m0-6.6l-6.6 6.6M958.8 636.6l6.6 6.6m0-6.6l-6.6 6.6M858.1 718.9l6.6 6.6m0-6.6l-6.6 6.6M691.7 854.3l6.6 6.6m0-6.6l-6.6 6.6M910.2 608.0l6.6 6.6m0-6.6l-6.6 6.6M881.0 649.0l6.6 6.6m0-6.6l-6.6 6.6M852.7 687.6l6.6 6.6m0-6.6l-6.6 6.6M808.6 730.0l6.6 6.6m0-6.6l-6.6 6.6M745.2 802.8l6.6 6.6m0-6.6l-6.6 6.6M920.2 605.5l6.6 6.6m0-6.6l-6.6 6.6M844.4 699.7l6.6 6.6m0-6.6l-6.6 6.6M883.1 666.2l6.6 6.6m0-6.6l-6.6 6.6M675.7 869.0l6.6 6.6m0-6.6l-6.6 6.6M874.9 657.3l6.6 6.6m0-6.6l-6.6 6.6M856.4 682.6l6.6 6.6m0-6.6l-6.6 6.6M832.3 747.5l6.6 6.6m0-6.6l-6.6 6.6M755.2 805.1l6.6 6.6m0-6.6l-6.6 6.6M928.9 604.2l6.6 6.6m0-6.6l-6.6 6.6M758.4 786.2l6.6 6.6m0-6.6l-6.6 6.6M813.7 714.9l6.6 6.6m0-6.6l-6.6 6.6M695.6 839.8l6.6 6.6m0-6.6l-6.6 6.6M725.6 813.2l6.6 6.6m0-6.6l-6.6 6.6M797.7 731.4l6.6 6.6m0-6.6l-6.6 6.6M927.3 663.5l6.6 6.6m0-6.6l-6.6 6.6M854.5 695.4l6.6 6.6m0-6.6l-6.6 6.6M682.7 880.1l6.6 6.6m0-6.6l-6.6 6.6M792.2 705.2l6.6 6.6m0-6.6l-6.6 6.6M840.9 682.8l6.6 6.6m0-6.6l-6.6 6.6M767.4 772.9l6.6 6.6m0-6.6l-6.6 6.6M698.7 859.5l6.6 6.6m0-6.6l-6.6 6.6M805.9 743.0l6.6 6.6m0-6.6l-6.6 6.6M657.2 887.4l6.6 6.6m0-6.6l-6.6 6.6M774.4 833.3l6.6 6.6m0-6.6l-6.6 6.6M763.6 780.3l6.6 6.6m0-6.6l-6.6 6.6M732.1 796.7l6.6 6.6m0-6.6l-6.6 6.6M825.3 738.0l6.6 6.6m0-6.6l-6.6 6.6M785.9 774.2l6.6 6.6m0-6.6l-6.6 6.6M925.2 638.0l6.6 6.6m0-6.6l-6.6 6.6M721.0 856.3l6.6 6.6m0-6.6l-6.6 6.6M878.3 660.4l6.6 6.6m0-6.6l-6.6 6.6M824.7 799.2l6.6 6.6m0-6.6l-6.6 6.6M819.1 733.0l6.6 6.6m0-6.6l-6.6 6.6M728.0 805.0l6.6 6.6m0-6.6l-6.6 6.6M790.4 747.6l6.6 6.6m0-6.6l-6.6 6.6M791.1 706.8l6.6 6.6m0-6.6l-6.6 6.6M735.5 815.4l6.6 6.6m0-6.6l-6.6 6.6M767.2 792.9l6.6 6.6m0-6.6l-6.6 6.6M820.7 682.2l6.6 6.6m0-6.6l-6.6 6.6M728.8 808.0l6.6 6.6m0-6.6l-6.6 6.6M730.1 863.5l6.6 6.6m0-6.6l-6.6 6.6M729.0 829.7l6.6 6.6m0-6.6l-6.6 6.6M806.0 694.3l6.6 6.6m0-6.6l-6.6 6.6M727.3 818.8l6.6 6.6m0-6.6l-6.6 6.6M756.6 747.3l6.6 6.6m0-6.6l-6.6 6.6M777.4 772.0l6.6 6.6m0-6.6l-6.6 6.6M808.7 724.3l6.6 6.6m0-6.6l-6.6 6.6M733.1 801.1l6.6 6.6m0-6.6l-6.6 6.6M737.4 793.3l6.6 6.6m0-6.6l-6.6 6.6M854.9 702.9l6.6 6.6m0-6.6l-6.6 6.6M689.2 875.6l6.6 6.6m0-6.6l-6.6 6.6M672.0 867.3l6.6 6.6m0-6.6l-6.6 6.6M728.5 786.8l6.6 6.6m0-6.6l-6.6 6.6M703.8 825.9l6.6 6.6m0-6.6l-6.6 6.6M842.9 674.2l6.6 6.6m0-6.6l-6.6 6.6M791.9 752.6l6.6 6.6m0-6.6l-6.6 6.6M699.8 854.6l6.6 6.6m0-6.6l-6.6 6.6M835.1 734.6l6.6 6.6m0-6.6l-6.6 6.6M895.6 697.5l6.6 6.6m0-6.6l-6.6 6.6M716.2 845.2l6.6 6.6m0-6.6l-6.6 6.6M698.8 827.6l6.6 6.6m0-6.6l-6.6 6.6M890.4 677.3l6.6 6.6m0-6.6l-6.6 6.6M748.2 791.7l6.6 6.6m0-6.6l-6.6 6.6M753.9 747.8l6.6 6.6m0-6.6l-6.6 6.6M820.3 703.9l6.6 6.6m0-6.6l-6.6 6.6M717.5 830.0l6.6 6.6m0-6.6l-6.6 6.6M706.1 831.7l6.6 6.6m0-6.6l-6.6 6.6M811.7 718.9l6.6 6.6m0-6.6l-6.6 6.6M917.1 627.9l6.6 6.6m0-6.6l-6.6 6.6M723.6 872.0l6.6 6.6m0-6.6l-6.6 6.6M777.9 761.9l6.6 6.6m0-6.6l-6.6 6.6M811.4 752.6l6.6 6.6m0-6.6l-6.6 6.6M874.7 683.1l6.6 6.6m0-6.6l-6.6 6.6M879.7 654.7l6.6 6.6m0-6.6l-6.6 6.6M727.3 786.7l6.6 6.6m0-6.6l-6.6 6.6M755.7 771.8l6.6 6.6m0-6.6l-6.6 6.6M774.4 690.7l6.6 6.6m0-6.6l-6.6 6.6M803.5 733.9l6.6 6.6m0-6.6l-6.6 6.6M815.5 689.1l6.6 6.6m0-6.6l-6.6 6.6M761.0 791.1l6.6 6.6m0-6.6l-6.6 6.6M731.5 809.3l6.6 6.6m0-6.6l-6.6 6.6M851.4 695.9l6.6 6.6m0-6.6l-6.6 6.6M671.4 868.7l6.6 6.6m0-6.6l-6.6 6.6M915.9 630.1l6.6 6.6m0-6.6l-6.6 6.6M897.8 689.8l6.6 6.6m0-6.6l-6.6 6.6M704.0 841.0l6.6 6.6m0-6.6l-6.6 6.6M691.1 844.2l6.6 6.6m0-6.6l-6.6 6.6M753.8 765.3l6.6 6.6m0-6.6l-6.6 6.6M880.1 650.8l6.6 6.6m0-6.6l-6.6 6.6M727.2 811.2l6.6 6.6m0-6.6l-6.6 6.6M776.8 797.5l6.6 6.6m0-6.6l-6.6 6.6M718.5 808.4l6.6 6.6m0-6.6l-6.6 6.6M720.3 814.9l6.6 6.6m0-6.6l-6.6 6.6M694.3 856.0l6.6 6.6m0-6.6l-6.6 6.6M806.5 812.0l6.6 6.6m0-6.6l-6.6 6.6M920.3 604.3l6.6 6.6m0-6.6l-6.6 6.6M776.8 742.9l6.6 6.6m0-6.6l-6.6 6.6M731.1 814.6l6.6 6.6m0-6.6l-6.6 6.6M807.4 706.9l6.6 6.6m0-6.6l-6.6 6.6M932.5 603.0l6.6 6.6m0-6.6l-6.6 6.6M907.2 652.0l6.6 6.6m0-6.6l-6.6 6.6M681.3 859.1l6.6 6.6m0-6.6l-6.6 6.6M767.1 768.8l6.6 6.6m0-6.6l-6.6 6.6M777.3 758.9l6.6 6.6m0-6.6l-6.6 6.6M834.1 746.2l6.6 6.6m0-6.6l-6.6 6.6M805.6 722.6l6.6 6.6m0-6.6l-6.6 6.6M718.6 803.8l6.6 6.6m0-6.6l-6.6 6.6M734.2 798.1l6.6 6.6m0-6.6l-6.6 6.6M705.1 857.7l6.6 6.6m0-6.6l-6.6 6.6M757.9 758.8l6.6 6.6m0-6.6l-6.6 6.6M680.4 864.7l6.6 6.6m0-6.6l-6.6 6.6M960.5 594.9l6.6 6.6m0-6.6l-6.6 6.6M702.5 803.5l6.6 6.6m0-6.6l-6.6 6.6M863.0 695.5l6.6 6.6m0-6.6l-6.6 6.6M745.9 809.3l6.6 6.6m0-6.6l-6.6 6.6M797.1 819.2l6.6 6.6m0-6.6l-6.6 6.6M717.4 826.5l6.6 6.6m0-6.6l-6.6 6.6M859.4 651.9l6.6 6.6m0-6.6l-6.6 6.6M737.3 782.6l6.6 6.6m0-6.6l-6.6 6.6M761.4 872.5l6.6 6.6m0-6.6l-6.6 6.6M777.8 748.2l6.6 6.6m0-6.6l-6.6 6.6M876.4 670.8l6.6 6.6m0-6.6l-6.6 6.6M738.6 805.4l6.6 6.6m0-6.6l-6.6 6.6M786.2 730.0l6.6 6.6m0-6.6l-6.6 6.6M838.7 701.2l6.6 6.6m0-6.6l-6.6 6.6M817.4 699.8l6.6 6.6m0-6.6l-6.6 6.6M841.3 700.3l6.6 6.6m0-6.6l-6.6 6.6M770.5 771.0l6.6 6.6m0-6.6l-6.6 6.6M779.9 784.0l6.6 6.6m0-6.6l-6.6 6.6M692.4 849.6l6.6 6.6m0-6.6l-6.6 6.6M708.9 856.6l6.6 6.6m0-6.6l-6.6 6.6M662.9 882.6l6.6 6.6m0-6.6l-6.6 6.6M688.9 849.4l6.6 6.6m0-6.6l-6.6 6.6M875.7 665.4l6.6 6.6m0-6.6l-6.6 6.6M913.4 650.0l6.6 6.6m0-6.6l-6.6 6.6M837.4 711.1l6.6 6.6m0-6.6l-6.6 6.6M760.6 775.7l6.6 6.6m0-6.6l-6.6 6.6M832.9 674.0l6.6 6.6m0-6.6l-6.6 6.6M874.1 695.2l6.6 6.6m0-6.6l-6.6 6.6M882.1 708.2l6.6 6.6m0-6.6l-6.6 6.6M761.9 824.6l6.6 6.6m0-6.6l-6.6 6.6M732.5 798.2l6.6 6.6m0-6.6l-6.6 6.6M765.9 807.4l6.6 6.6m0-6.6l-6.6 6.6M808.5 740.1l6.6 6.6m0-6.6l-6.6 6.6M811.9 732.4l6.6 6.6m0-6.6l-6.6 6.6M658.5 891.2l6.6 6.6m0-6.6l-6.6 6.6M754.7 792.6l6.6 6.6m0-6.6l-6.6 6.6M975.0 622.2l6.6 6.6m0-6.6l-6.6 6.6M720.3 817.8l6.6 6.6m0-6.6l-6.6 6.6M790.2 737.3l6.6 6.6m0-6.6l-6.6 6.6M747.5 796.1l6.6 6.6m0-6.6l-6.6 6.6M793.6 739.8l6.6 6.6m0-6.6l-6.6 6.6M714.8 835.0l6.6 6.6m0-6.6l-6.6 6.6M717.1 817.2l6.6 6.6m0-6.6l-6.6 6.6M940.7 611.2l6.6 6.6m0-6.6l-6.6 6.6M833.2 684.1l6.6 6.6m0-6.6l-6.6 6.6M799.6 718.3l6.6 6.6m0-6.6l-6.6 6.6M694.5 862.7l6.6 6.6m0-6.6l-6.6 6.6M840.4 707.8l6.6 6.6m0-6.6l-6.6 6.6M752.0 807.4l6.6 6.6m0-6.6l-6.6 6.6M671.9 878.1l6.6 6.6m0-6.6l-6.6 6.6M833.7 712.7l6.6 6.6m0-6.6l-6.6 6.6M703.3 855.2l6.6 6.6m0-6.6l-6.6 6.6M721.9 807.3l6.6 6.6m0-6.6l-6.6 6.6M718.0 798.7l6.6 6.6m0-6.6l-6.6 6.6M828.0 728.6l6.6 6.6m0-6.6l-6.6 6.6M790.8 741.3l6.6 6.6m0-6.6l-6.6 6.6M669.5 893.4l6.6 6.6m0-6.6l-6.6 6.6M739.0 834.5l6.6 6.6m0-6.6l-6.6 6.6M839.2 752.2l6.6 6.6m0-6.6l-6.6 6.6M724.4 827.7l6.6 6.6m0-6.6l-6.6 6.6M828.0 722.5l6.6 6.6m0-6.6l-6.6 6.6M790.5 730.8l6.6 6.6m0-6.6l-6.6 6.6M729.4 821.1l6.6 6.6m0-6.6l-6.6 6.6M745.9 803.7l6.6 6.6m0-6.6l-6.6 6.6M775.2 835.9l6.6 6.6m0-6.6l-6.6 6.6M807.2 708.1l6.6 6.6m0-6.6l-6.6 6.6M758.9 773.8l6.6 6.6m0-6.6l-6.6 6.6M918.6 637.6l6.6 6.6m0-6.6l-6.6 6.6M830.8 695.7l6.6 6.6m0-6.6l-6.6 6.6M897.5 683.2l6.6 6.6m0-6.6l-6.6 6.6M888.8 686.5l6.6 6.6m0-6.6l-6.6 6.6M834.0 674.6l6.6 6.6m0-6.6l-6.6 6.6M734.4 807.5l6.6 6.6m0-6.6l-6.6 6.6M815.1 727.4l6.6 6.6m0-6.6l-6.6 6.6M921.1 647.8l6.6 6.6m0-6.6l-6.6 6.6M760.4 760.0l6.6 6.6m0-6.6l-6.6 6.6M764.5 761.9l6.6 6.6m0-6.6l-6.6 6.6M933.4 593.7l6.6 6.6m0-6.6l-6.6 6.6M821.9 760.8l6.6 6.6m0-6.6l-6.6 6.6M695.9 840.5l6.6 6.6m0-6.6l-6.6 6.6M760.6 774.0l6.6 6.6m0-6.6l-6.6 6.6M781.0 766.1l6.6 6.6m0-6.6l-6.6 6.6M900.3 660.5l6.6 6.6m0-6.6l-6.6 6.6M688.2 869.3l6.6 6.6m0-6.6l-6.6 6.6M694.4 874.1l6.6 6.6m0-6.6l-6.6 6.6M752.8 800.5l6.6 6.6m0-6.6l-6.6 6.6M925.3 631.1l6.6 6.6m0-6.6l-6.6 6.6M684.9 848.4l6.6 6.6m0-6.6l-6.6 6.6M805.6 745.0l6.6 6.6m0-6.6l-6.6 6.6M935.7 627.8l6.6 6.6m0-6.6l-6.6 6.6M742.6 794.9l6.6 6.6m0-6.6l-6.6 6.6M683.3 885.1l6.6 6.6m0-6.6l-6.6 6.6M826.6 721.4l6.6 6.6m0-6.6l-6.6 6.6M821.0 664.9l6.6 6.6m0-6.6l-6.6 6.6M802.2 707.1l6.6 6.6m0-6.6l-6.6 6.6M685.9 870.5l6.6 6.6m0-6.6l-6.6 6.6M727.6 816.2l6.6 6.6m0-6.6l-6.6 6.6M798.6 727.0l6.6 6.6m0-6.6l-6.6 6.6M817.3 690.4l6.6 6.6m0-6.6l-6.6 6.6M781.8 784.6l6.6 6.6m0-6.6l-6.6 6.6M941.3 589.2l6.6 6.6m0-6.6l-6.6 6.6M744.0 792.6l6.6 6.6m0-6.6l-6.6 6.6M715.6 802.0l6.6 6.6m0-6.6l-6.6 6.6M838.0 714.4l6.6 6.6m0-6.6l-6.6 6.6M782.0 777.5l6.6 6.6m0-6.6l-6.6 6.6M775.7 781.8l6.6 6.6m0-6.6l-6.6 6.6M787.3 808.5l6.6 6.6m0-6.6l-6.6 6.6M824.8 730.2l6.6 6.6m0-6.6l-6.6 6.6M670.3 869.6l6.6 6.6m0-6.6l-6.6 6.6M692.5 854.9l6.6 6.6m0-6.6l-6.6 6.6M797.0 677.2l6.6 6.6m0-6.6l-6.6 6.6M704.9 829.3l6.6 6.6m0-6.6l-6.6 6.6M876.2 700.4l6.6 6.6m0-6.6l-6.6 6.6M847.7 688.2l6.6 6.6m0-6.6l-6.6 6.6M770.2 778.3l6.6 6.6m0-6.6l-6.6 6.6M699.6 868.5l6.6 6.6m0-6.6l-6.6 6.6M885.9 596.7l6.6 6.6m0-6.6l-6.6 6.6M865.4 625.3l6.6 6.6m0-6.6l-6.6 6.6M869.5 630.1l6.6 6.6m0-6.6l-6.6 6.6M877.7 633.3l6.6 6.6m0-6.6l-6.6 6.6M857.1 652.3l6.6 6.6m0-6.6l-6.6 6.6M865.4 649.1l6.6 6.6m0-6.6l-6.6 6.6M840.7 677.7l6.6 6.6m0-6.6l-6.6 6.6M844.8 680.9l6.6 6.6m0-6.6l-6.6 6.6M791.4 722.2l6.6 6.6m0-6.6l-6.6 6.6M750.3 741.3l6.6 6.6m0-6.6l-6.6 6.6M758.5 742.9l6.6 6.6m0-6.6l-6.6 6.6M725.7 773.0l6.6 6.6m0-6.6l-6.6 6.6M733.9 773.0l6.6 6.6m0-6.6l-6.6 6.6M696.9 811.2l6.6 6.6m0-6.6l-6.6 6.6M705.1 817.5l6.6 6.6m0-6.6l-6.6 6.6M787.3 820.7l6.6 6.6m0-6.6l-6.6 6.6M795.5 822.3l6.6 6.6m0-6.6l-6.6 6.6M811.9 822.3l6.6 6.6m0-6.6l-6.6 6.6M816.1 830.2l6.6 6.6m0-6.6l-6.6 6.6M766.7 842.9l6.6 6.6m0-6.6l-6.6 6.6M783.2 850.9l6.6 6.6m0-6.6l-6.6 6.6M754.4 852.5l6.6 6.6m0-6.6l-6.6 6.6M750.3 855.6l6.6 6.6m0-6.6l-6.6 6.6M961.9 584.0l6.6 6.6m0-6.6l-6.6 6.6M964.0 582.4l6.6 6.6m0-6.6l-6.6 6.6M947.5 601.5l6.6 6.6m0-6.6l-6.6 6.6M955.8 604.7l6.6 6.6m0-6.6l-6.6 6.6M918.8 601.5l6.6 6.6m0-6.6l-6.6 6.6M910.6 611.0l6.6 6.6m0-6.6l-6.6 6.6" fill="none" stroke="#ffc02c" stroke-width="0.75" opacity="0.85"/>
<path d="M873.0 673.0h6.6v6.6h-6.6zM768.4 821.1h6.6v6.6h-6.6zM874.2 700.2h6.6v6.6h-6.6zM745.4 830.9h6.6v6.6h-6.6zM834.9 720.4h6.6v6.6h-6.6zM848.0 709.6h6.6v6.6h-6.6zM658.9 879.6h6.6v6.6h-6.6zM845.6 703.7h6.6v6.6h-6.6zM924.4 668.9h6.6v6.6h-6.6zM714.9 810.1h6.6v6.6h-6.6zM760.6 779.3h6.6v6.6h-6.6zM746.3 809.5h6.6v6.6h-6.6zM809.4 755.0h6.6v6.6h-6.6zM797.2 753.1h6.6v6.6h-6.6zM870.4 696.7h6.6v6.6h-6.6zM946.2 623.3h6.6v6.6h-6.6zM791.8 761.8h6.6v6.6h-6.6zM790.9 742.2h6.6v6.6h-6.6zM939.2 629.3h6.6v6.6h-6.6zM774.0 850.3h6.6v6.6h-6.6zM913.5 639.1h6.6v6.6h-6.6zM750.7 810.6h6.6v6.6h-6.6zM708.5 858.0h6.6v6.6h-6.6zM771.1 744.8h6.6v6.6h-6.6zM752.1 806.6h6.6v6.6h-6.6zM867.9 715.9h6.6v6.6h-6.6zM848.2 699.8h6.6v6.6h-6.6zM765.3 793.1h6.6v6.6h-6.6zM845.1 716.7h6.6v6.6h-6.6zM760.2 787.9h6.6v6.6h-6.6zM854.9 721.4h6.6v6.6h-6.6zM887.2 701.2h6.6v6.6h-6.6zM700.1 841.1h6.6v6.6h-6.6zM744.4 794.1h6.6v6.6h-6.6zM856.5 699.0h6.6v6.6h-6.6zM821.5 690.0h6.6v6.6h-6.6zM691.5 847.3h6.6v6.6h-6.6zM871.5 661.6h6.6v6.6h-6.6zM931.7 659.3h6.6v6.6h-6.6zM660.0 873.0h6.6v6.6h-6.6zM662.9 887.9h6.6v6.6h-6.6zM812.0 719.5h6.6v6.6h-6.6zM811.7 743.2h6.6v6.6h-6.6zM815.4 693.6h6.6v6.6h-6.6zM981.1 605.7h6.6v6.6h-6.6zM866.6 700.4h6.6v6.6h-6.6zM824.3 707.3h6.6v6.6h-6.6zM663.7 877.1h6.6v6.6h-6.6zM711.0 860.3h6.6v6.6h-6.6zM668.3 870.9h6.6v6.6h-6.6zM800.5 728.8h6.6v6.6h-6.6zM727.0 812.4h6.6v6.6h-6.6zM828.3 662.8h6.6v6.6h-6.6zM948.4 602.8h6.6v6.6h-6.6zM799.9 753.6h6.6v6.6h-6.6zM837.5 722.8h6.6v6.6h-6.6zM979.0 624.2h6.6v6.6h-6.6zM809.0 797.9h6.6v6.6h-6.6zM746.6 806.4h6.6v6.6h-6.6zM869.8 673.0h6.6v6.6h-6.6zM800.6 699.9h6.6v6.6h-6.6zM708.6 873.8h6.6v6.6h-6.6zM719.8 854.3h6.6v6.6h-6.6zM972.6 634.3h6.6v6.6h-6.6zM912.6 649.0h6.6v6.6h-6.6zM954.3 597.2h6.6v6.6h-6.6zM862.9 696.6h6.6v6.6h-6.6zM886.4 689.2h6.6v6.6h-6.6zM759.0 775.2h6.6v6.6h-6.6zM720.7 831.9h6.6v6.6h-6.6zM916.5 663.0h6.6v6.6h-6.6zM692.9 871.2h6.6v6.6h-6.6zM886.8 668.8h6.6v6.6h-6.6zM830.7 738.2h6.6v6.6h-6.6zM733.6 816.2h6.6v6.6h-6.6zM783.7 730.5h6.6v6.6h-6.6zM679.6 893.3h6.6v6.6h-6.6zM845.7 731.2h6.6v6.6h-6.6zM691.7 851.1h6.6v6.6h-6.6zM793.9 749.4h6.6v6.6h-6.6zM789.6 732.2h6.6v6.6h-6.6zM778.4 764.9h6.6v6.6h-6.6zM875.5 693.8h6.6v6.6h-6.6zM791.2 739.6h6.6v6.6h-6.6zM800.3 779.3h6.6v6.6h-6.6zM668.1 864.6h6.6v6.6h-6.6zM859.0 697.1h6.6v6.6h-6.6zM782.7 789.8h6.6v6.6h-6.6zM727.6 833.5h6.6v6.6h-6.6zM772.9 781.8h6.6v6.6h-6.6zM859.7 719.5h6.6v6.6h-6.6zM656.9 895.7h6.6v6.6h-6.6zM820.8 742.4h6.6v6.6h-6.6zM921.7 650.3h6.6v6.6h-6.6zM803.5 738.8h6.6v6.6h-6.6zM735.6 792.7h6.6v6.6h-6.6zM798.4 729.9h6.6v6.6h-6.6zM941.2 644.2h6.6v6.6h-6.6zM759.1 779.1h6.6v6.6h-6.6zM924.6 662.1h6.6v6.6h-6.6zM818.1 728.2h6.6v6.6h-6.6zM778.0 796.9h6.6v6.6h-6.6zM733.6 814.0h6.6v6.6h-6.6zM698.9 844.9h6.6v6.6h-6.6zM882.6 692.1h6.6v6.6h-6.6zM882.6 704.4h6.6v6.6h-6.6zM794.8 761.5h6.6v6.6h-6.6zM917.5 648.2h6.6v6.6h-6.6zM868.2 701.7h6.6v6.6h-6.6zM753.7 799.3h6.6v6.6h-6.6zM706.2 848.6h6.6v6.6h-6.6zM737.0 812.6h6.6v6.6h-6.6zM795.1 756.4h6.6v6.6h-6.6zM760.2 793.9h6.6v6.6h-6.6zM807.3 755.1h6.6v6.6h-6.6zM728.8 842.6h6.6v6.6h-6.6zM678.4 872.3h6.6v6.6h-6.6zM876.8 679.4h6.6v6.6h-6.6zM800.2 771.5h6.6v6.6h-6.6zM754.4 806.7h6.6v6.6h-6.6zM820.9 756.8h6.6v6.6h-6.6zM801.5 770.2h6.6v6.6h-6.6zM823.8 749.7h6.6v6.6h-6.6zM781.3 837.2h6.6v6.6h-6.6zM891.6 655.7h6.6v6.6h-6.6zM731.2 805.4h6.6v6.6h-6.6zM833.7 731.7h6.6v6.6h-6.6zM849.4 736.7h6.6v6.6h-6.6zM894.8 694.7h6.6v6.6h-6.6zM718.4 837.4h6.6v6.6h-6.6zM783.4 822.4h6.6v6.6h-6.6zM831.0 728.2h6.6v6.6h-6.6zM718.2 834.3h6.6v6.6h-6.6zM808.9 747.9h6.6v6.6h-6.6zM788.9 750.1h6.6v6.6h-6.6zM932.5 622.2h6.6v6.6h-6.6zM717.5 809.0h6.6v6.6h-6.6zM881.4 676.1h6.6v6.6h-6.6zM851.3 729.0h6.6v6.6h-6.6zM799.3 746.7h6.6v6.6h-6.6zM807.6 761.4h6.6v6.6h-6.6zM835.1 730.9h6.6v6.6h-6.6zM703.1 816.2h6.6v6.6h-6.6zM866.7 714.7h6.6v6.6h-6.6zM744.3 813.3h6.6v6.6h-6.6zM802.8 782.5h6.6v6.6h-6.6zM812.0 745.9h6.6v6.6h-6.6zM799.6 734.7h6.6v6.6h-6.6zM779.6 789.0h6.6v6.6h-6.6zM940.2 623.2h6.6v6.6h-6.6zM819.9 756.7h6.6v6.6h-6.6zM733.5 842.2h6.6v6.6h-6.6zM800.5 761.1h6.6v6.6h-6.6zM883.8 694.3h6.6v6.6h-6.6zM797.2 821.0h6.6v6.6h-6.6zM940.4 604.1h6.6v6.6h-6.6zM865.7 695.0h6.6v6.6h-6.6zM938.1 634.2h6.6v6.6h-6.6zM772.3 766.2h6.6v6.6h-6.6zM952.8 589.1h6.6v6.6h-6.6zM685.0 870.4h6.6v6.6h-6.6zM770.8 824.1h6.6v6.6h-6.6zM934.4 663.2h6.6v6.6h-6.6zM784.9 754.7h6.6v6.6h-6.6zM896.3 682.1h6.6v6.6h-6.6zM799.5 749.0h6.6v6.6h-6.6zM822.6 760.5h6.6v6.6h-6.6zM745.8 826.7h6.6v6.6h-6.6zM776.8 805.2h6.6v6.6h-6.6zM843.9 726.4h6.6v6.6h-6.6zM718.5 834.8h6.6v6.6h-6.6zM870.9 694.0h6.6v6.6h-6.6zM790.0 736.3h6.6v6.6h-6.6zM682.3 874.4h6.6v6.6h-6.6zM752.9 804.6h6.6v6.6h-6.6zM843.9 702.4h6.6v6.6h-6.6zM755.1 810.9h6.6v6.6h-6.6zM739.4 809.6h6.6v6.6h-6.6zM751.5 798.7h6.6v6.6h-6.6zM693.1 837.6h6.6v6.6h-6.6zM710.7 833.5h6.6v6.6h-6.6zM748.2 808.8h6.6v6.6h-6.6zM957.7 608.7h6.6v6.6h-6.6zM724.3 840.4h6.6v6.6h-6.6zM883.2 650.9h6.6v6.6h-6.6zM739.5 806.5h6.6v6.6h-6.6zM666.6 880.6h6.6v6.6h-6.6zM894.7 673.5h6.6v6.6h-6.6zM752.3 801.1h6.6v6.6h-6.6zM807.3 725.2h6.6v6.6h-6.6zM888.6 672.8h6.6v6.6h-6.6zM795.6 722.5h6.6v6.6h-6.6zM690.5 861.9h6.6v6.6h-6.6zM816.0 719.0h6.6v6.6h-6.6zM931.3 631.2h6.6v6.6h-6.6zM966.4 602.5h6.6v6.6h-6.6zM738.1 794.5h6.6v6.6h-6.6zM744.4 838.4h6.6v6.6h-6.6zM839.7 723.8h6.6v6.6h-6.6zM901.5 663.8h6.6v6.6h-6.6zM915.6 675.5h6.6v6.6h-6.6zM848.4 719.0h6.6v6.6h-6.6zM684.6 866.4h6.6v6.6h-6.6zM963.7 586.2h6.6v6.6h-6.6zM977.5 583.7h6.6v6.6h-6.6zM678.2 868.6h6.6v6.6h-6.6zM765.0 783.9h6.6v6.6h-6.6zM917.9 668.6h6.6v6.6h-6.6zM870.6 703.3h6.6v6.6h-6.6zM842.8 703.5h6.6v6.6h-6.6zM820.4 769.0h6.6v6.6h-6.6zM732.0 879.7h6.6v6.6h-6.6zM778.1 739.5h6.6v6.6h-6.6zM835.7 710.2h6.6v6.6h-6.6zM875.1 679.0h6.6v6.6h-6.6zM914.6 616.6h6.6v6.6h-6.6zM855.1 706.1h6.6v6.6h-6.6zM850.3 723.2h6.6v6.6h-6.6zM872.2 702.4h6.6v6.6h-6.6zM928.8 658.6h6.6v6.6h-6.6zM713.4 816.8h6.6v6.6h-6.6zM869.1 671.6h6.6v6.6h-6.6zM772.2 762.1h6.6v6.6h-6.6zM726.3 837.8h6.6v6.6h-6.6zM891.5 678.0h6.6v6.6h-6.6zM830.0 712.3h6.6v6.6h-6.6zM824.8 709.1h6.6v6.6h-6.6zM778.8 774.8h6.6v6.6h-6.6zM807.2 754.4h6.6v6.6h-6.6zM828.3 775.9h6.6v6.6h-6.6zM794.7 725.3h6.6v6.6h-6.6zM775.6 766.7h6.6v6.6h-6.6zM931.9 623.9h6.6v6.6h-6.6zM928.8 633.4h6.6v6.6h-6.6zM698.9 849.3h6.6v6.6h-6.6zM741.1 822.9h6.6v6.6h-6.6zM816.3 723.5h6.6v6.6h-6.6zM906.3 644.6h6.6v6.6h-6.6zM734.2 808.4h6.6v6.6h-6.6zM714.4 824.2h6.6v6.6h-6.6zM753.6 809.5h6.6v6.6h-6.6zM943.2 623.1h6.6v6.6h-6.6zM777.8 753.2h6.6v6.6h-6.6zM927.2 656.4h6.6v6.6h-6.6zM741.8 833.6h6.6v6.6h-6.6zM917.0 658.6h6.6v6.6h-6.6zM915.7 630.9h6.6v6.6h-6.6zM706.7 843.6h6.6v6.6h-6.6zM893.6 676.7h6.6v6.6h-6.6zM942.2 609.6h6.6v6.6h-6.6zM676.5 871.0h6.6v6.6h-6.6zM745.1 814.6h6.6v6.6h-6.6zM839.9 727.7h6.6v6.6h-6.6zM670.9 882.5h6.6v6.6h-6.6zM807.4 768.4h6.6v6.6h-6.6zM784.1 752.4h6.6v6.6h-6.6zM736.7 817.2h6.6v6.6h-6.6zM705.4 832.1h6.6v6.6h-6.6zM728.4 829.5h6.6v6.6h-6.6zM829.1 752.4h6.6v6.6h-6.6zM922.8 634.5h6.6v6.6h-6.6zM745.4 786.4h6.6v6.6h-6.6zM805.2 761.8h6.6v6.6h-6.6zM928.1 627.8h6.6v6.6h-6.6zM875.9 706.1h6.6v6.6h-6.6zM834.1 729.7h6.6v6.6h-6.6zM793.5 775.8h6.6v6.6h-6.6zM757.9 769.6h6.6v6.6h-6.6zM882.1 675.7h6.6v6.6h-6.6zM780.3 786.9h6.6v6.6h-6.6zM938.1 635.2h6.6v6.6h-6.6zM813.1 747.6h6.6v6.6h-6.6zM936.4 647.1h6.6v6.6h-6.6zM765.3 770.9h6.6v6.6h-6.6zM871.1 705.1h6.6v6.6h-6.6zM872.8 693.4h6.6v6.6h-6.6zM800.8 771.4h6.6v6.6h-6.6zM796.1 766.0h6.6v6.6h-6.6zM723.6 799.7h6.6v6.6h-6.6zM906.1 642.4h6.6v6.6h-6.6zM956.8 633.8h6.6v6.6h-6.6zM923.7 674.0h6.6v6.6h-6.6zM913.3 664.2h6.6v6.6h-6.6zM935.5 616.1h6.6v6.6h-6.6zM798.2 765.0h6.6v6.6h-6.6zM768.2 809.2h6.6v6.6h-6.6zM749.4 803.3h6.6v6.6h-6.6zM882.7 693.8h6.6v6.6h-6.6zM716.0 836.1h6.6v6.6h-6.6zM821.9 824.5h6.6v6.6h-6.6zM714.8 810.7h6.6v6.6h-6.6zM819.8 750.4h6.6v6.6h-6.6zM836.3 735.5h6.6v6.6h-6.6zM737.1 824.4h6.6v6.6h-6.6zM761.2 769.7h6.6v6.6h-6.6zM810.3 756.0h6.6v6.6h-6.6zM779.2 778.4h6.6v6.6h-6.6zM756.9 801.8h6.6v6.6h-6.6zM780.2 761.5h6.6v6.6h-6.6zM734.6 817.5h6.6v6.6h-6.6zM762.5 810.6h6.6v6.6h-6.6zM807.2 748.4h6.6v6.6h-6.6zM955.4 635.5h6.6v6.6h-6.6zM829.7 715.7h6.6v6.6h-6.6zM798.2 770.9h6.6v6.6h-6.6zM768.2 740.6h6.6v6.6h-6.6zM792.9 778.3h6.6v6.6h-6.6zM687.4 873.1h6.6v6.6h-6.6zM785.7 769.0h6.6v6.6h-6.6zM847.8 715.3h6.6v6.6h-6.6zM787.2 778.9h6.6v6.6h-6.6zM800.3 771.2h6.6v6.6h-6.6zM755.9 807.2h6.6v6.6h-6.6zM665.5 882.8h6.6v6.6h-6.6zM718.0 807.5h6.6v6.6h-6.6zM762.6 768.9h6.6v6.6h-6.6zM925.7 625.7h6.6v6.6h-6.6zM748.1 846.5h6.6v6.6h-6.6zM749.5 803.4h6.6v6.6h-6.6zM795.6 723.6h6.6v6.6h-6.6zM952.8 616.4h6.6v6.6h-6.6zM773.6 776.9h6.6v6.6h-6.6zM751.9 780.8h6.6v6.6h-6.6zM694.2 862.0h6.6v6.6h-6.6zM901.1 596.1h6.6v6.6h-6.6zM901.1 599.3h6.6v6.6h-6.6zM882.6 624.7h6.6v6.6h-6.6zM882.6 629.4h6.6v6.6h-6.6zM971.0 583.4h6.6v6.6h-6.6zM977.1 599.3h6.6v6.6h-6.6zM968.9 602.4h6.6v6.6h-6.6zM964.8 608.8h6.6v6.6h-6.6zM931.9 600.9h6.6v6.6h-6.6zM800.4 713.6h6.6v6.6h-6.6zM755.2 739.1h6.6v6.6h-6.6zM759.4 742.2h6.6v6.6h-6.6zM816.9 815.3h6.6v6.6h-6.6zM800.4 812.1h6.6v6.6h-6.6zM808.7 810.5h6.6v6.6h-6.6zM825.1 821.7h6.6v6.6h-6.6zM829.2 823.2h6.6v6.6h-6.6zM831.3 821.7h6.6v6.6h-6.6zM804.6 850.2h6.6v6.6h-6.6zM796.3 850.2h6.6v6.6h-6.6zM788.1 843.9h6.6v6.6h-6.6zM779.9 834.4h6.6v6.6h-6.6zM771.7 853.4h6.6v6.6h-6.6zM763.5 859.8h6.6v6.6h-6.6zM767.6 856.6h6.6v6.6h-6.6zM816.9 824.8h6.6v6.6h-6.6zM821.0 823.2h6.6v6.6h-6.6zM751.1 856.6h6.6v6.6h-6.6zM734.7 866.1h6.6v6.6h-6.6zM714.2 874.1h6.6v6.6h-6.6z" fill="none" stroke="#9bd160" stroke-width="0.8"/>
<path d="M1007.1 753.2h3.6M989.5 787.9h3.6M1031.0 742.6h3.6M975.1 800.0h3.6M1022.2 782.0h3.6M1002.3 748.8h3.6M978.9 798.4h3.6M1015.1 736.7h3.6M1012.6 787.4h3.6M1018.0 699.2h3.6M974.0 799.1h3.6M1037.3 712.8h3.6M990.9 782.9h3.6M1010.5 730.8h3.6M978.8 801.8h3.6M1001.7 788.7h3.6M982.6 783.1h3.6M995.1 772.0h3.6M1044.0 708.0h3.6M1016.3 758.4h3.6M976.8 804.2h3.6M1007.4 767.9h3.6M1041.4 685.2h3.6M1003.3 753.8h3.6M978.6 793.4h3.6M994.5 790.0h3.6M992.2 769.5h3.6M992.3 794.2h3.6M1035.7 720.3h3.6M1037.4 757.6h3.6M1011.3 737.0h3.6M1010.2 763.3h3.6M986.6 762.8h3.6M982.3 783.6h3.6M1005.3 784.6h3.6M992.0 758.5h3.6M976.7 803.2h3.6M1027.8 683.4h3.6M984.7 809.5h3.6M977.9 796.8h3.6M1029.9 777.2h3.6M1012.5 760.7h3.6M1027.7 764.6h3.6M1005.1 796.2h3.6M981.4 807.1h3.6M984.5 806.4h3.6M977.3 796.2h3.6M981.7 790.5h3.6M998.3 784.1h3.6M984.8 774.1h3.6M1025.1 770.3h3.6M1034.1 723.3h3.6M1036.6 757.8h3.6M1045.2 717.2h3.6M988.7 765.7h3.6M1030.9 706.4h3.6M995.3 759.7h3.6M975.0 796.9h3.6M998.7 794.5h3.6M1042.5 707.6h3.6M985.9 793.6h3.6M983.5 791.6h3.6M1012.9 757.8h3.6M1026.4 763.2h3.6M983.2 787.7h3.6M994.9 772.7h3.6M972.4 796.1h3.6M1006.0 790.5h3.6M1043.2 696.7h3.6M995.5 741.3h3.6M1005.8 787.1h3.6M1024.6 739.9h3.6M1021.7 688.7h3.6M1031.2 702.0h3.6M988.5 782.4h3.6M970.5 808.1h3.6M974.8 796.4h3.6M978.8 791.5h3.6M994.4 797.4h3.6M979.8 781.2h3.6M1030.7 692.1h3.6M981.0 775.5h3.6M981.1 797.3h3.6M990.0 788.8h3.6M1002.6 750.2h3.6M984.0 806.0h3.6M987.6 796.2h3.6M979.3 776.9h3.6M1003.3 770.4h3.6M985.9 790.5h3.6M1011.1 751.6h3.6M1004.9 742.0h3.6M1030.5 768.7h3.6M990.3 758.9h3.6M975.2 779.3h3.6M998.8 767.3h3.6M993.4 792.5h3.6M1008.9 779.7h3.6M1021.9 763.7h3.6M983.6 789.3h3.6M1029.1 769.8h3.6M1028.7 721.6h3.6M994.7 801.1h3.6M1021.3 721.4h3.6M977.4 784.9h3.6M1025.9 735.6h3.6M977.9 794.1h3.6M981.9 788.7h3.6M1010.3 775.5h3.6M1048.1 761.1h3.6M1020.5 769.0h3.6M1007.5 779.1h3.6M1035.9 717.7h3.6M989.4 762.2h3.6M999.1 758.7h3.6M1022.7 737.4h3.6M985.8 792.8h3.6M991.6 783.7h3.6M1046.2 671.8h3.6M1028.0 765.4h3.6M1011.3 773.6h3.6M1033.3 759.4h3.6M1019.7 779.8h3.6M1014.3 733.0h3.6M1010.7 725.1h3.6M1034.6 708.8h3.6M1001.6 734.1h3.6M1030.8 775.7h3.6M1014.1 731.3h3.6M976.1 795.0h3.6M1031.2 723.7h3.6M1021.0 753.0h3.6M986.3 787.7h3.6M1017.6 754.1h3.6M1035.0 773.5h3.6M1028.3 758.8h3.6M983.0 770.4h3.6M981.9 804.4h3.6M1047.8 746.7h3.6M1028.8 699.8h3.6M1028.1 742.9h3.6M1046.1 766.5h3.6M1008.8 771.3h3.6M1034.7 700.7h3.6M988.9 801.9h3.6M1027.9 742.5h3.6M1023.7 773.1h3.6M980.9 783.5h3.6M976.6 791.0h3.6M981.5 803.2h3.6M997.3 754.6h3.6M1002.3 791.0h3.6M1021.9 719.6h3.6M986.3 791.3h3.6M1002.5 762.6h3.6M1024.7 772.3h3.6M990.9 791.0h3.6M981.6 790.3h3.6M998.2 784.9h3.6M970.9 795.3h3.6M978.0 796.9h3.6M974.3 798.7h3.6M1031.4 778.4h3.6M983.2 797.9h3.6M1028.9 709.0h3.6M995.2 806.5h3.6M1033.1 689.0h3.6M995.4 783.3h3.6M985.3 786.7h3.6M1009.8 786.2h3.6M1033.0 772.0h3.6M1020.4 727.8h3.6M985.0 801.0h3.6M971.1 803.9h3.6M1007.5 756.8h3.6M988.8 811.4h3.6M1008.2 787.1h3.6M986.3 772.6h3.6M986.2 790.5h3.6M1042.9 738.6h3.6M991.3 748.0h3.6M1005.6 725.0h3.6M973.8 811.2h3.6M1000.6 766.1h3.6M985.1 771.7h3.6M988.1 801.5h3.6M1001.2 793.6h3.6M1021.5 696.8h3.6M1029.9 717.6h3.6M1003.1 770.9h3.6M1019.4 744.6h3.6M1005.1 756.4h3.6M1014.3 768.4h3.6M998.0 779.6h3.6M1024.2 740.4h3.6M1025.6 778.6h3.6M985.4 803.8h3.6M987.9 782.8h3.6M1014.5 755.6h3.6M991.9 760.3h3.6M986.4 787.3h3.6M990.4 792.4h3.6M1025.7 683.1h3.6M997.0 795.6h3.6M1019.2 773.6h3.6M1004.1 775.5h3.6M981.0 780.1h3.6M1041.9 719.0h3.6M981.5 795.7h3.6M984.8 794.1h3.6M1007.8 780.0h3.6M1014.5 729.6h3.6M985.9 798.7h3.6M1017.7 731.8h3.6M1002.2 793.0h3.6M1035.1 709.0h3.6M985.0 785.0h3.6M990.7 759.8h3.6M981.4 773.3h3.6M1011.3 741.8h3.6M1032.0 767.2h3.6M1013.0 751.1h3.6M971.4 807.4h3.6M992.1 780.6h3.6M978.8 803.2h3.6M1039.5 658.8h3.6M1020.3 699.9h3.6M981.6 807.5h3.6M994.3 767.2h3.6M971.2 819.3h3.6M972.4 795.6h3.6M1001.6 746.0h3.6M1018.2 712.2h3.6M994.1 782.3h3.6M1037.2 747.1h3.6M1029.2 733.5h3.6M1042.2 702.1h3.6M1018.1 787.2h3.6M995.0 781.5h3.6M1007.0 775.2h3.6M999.7 790.1h3.6M1012.0 764.6h3.6M1023.4 737.8h3.6M989.8 775.1h3.6M1014.1 771.1h3.6M1014.0 738.2h3.6M980.4 786.2h3.6M1004.9 776.0h3.6M1030.9 733.8h3.6M973.7 795.3h3.6M1008.7 763.7h3.6M1001.4 779.9h3.6M1045.5 765.7h3.6M982.8 785.8h3.6M971.6 803.1h3.6M1003.9 776.3h3.6M1008.5 767.8h3.6M1008.7 773.9h3.6M976.1 796.6h3.6M1003.4 778.2h3.6M979.7 807.4h3.6M982.8 793.9h3.6M1037.0 738.6h3.6M1021.1 772.4h3.6M1014.9 743.5h3.6M973.3 808.2h3.6M975.1 801.7h3.6M1016.3 753.4h3.6M1023.9 760.2h3.6M1001.3 734.9h3.6M913.8 799.7h3.6M962.1 780.0h3.6M945.1 752.0h3.6M942.5 791.8h3.6M953.4 798.7h3.6M920.0 789.7h3.6M939.6 806.3h3.6M957.6 800.1h3.6M949.9 823.0h3.6M934.1 803.9h3.6M917.6 801.6h3.6M946.0 798.6h3.6M966.0 778.6h3.6M917.8 811.1h3.6M958.3 808.8h3.6M964.2 806.8h3.6M911.2 790.4h3.6M944.9 772.6h3.6M914.3 785.8h3.6M948.9 814.6h3.6M925.6 762.0h3.6M969.0 822.2h3.6M1055.7 706.4h3.6M1054.1 630.3h3.6M1054.8 623.8h3.6M1054.6 622.6h3.6M1054.4 683.1h3.6M1055.5 650.3h3.6M1052.1 741.3h3.6M1055.3 602.2h3.6M1054.9 636.2h3.6M1055.6 606.3h3.6M1054.1 611.8h3.6M1053.6 675.1h3.6M1055.5 624.9h3.6M1056.1 689.7h3.6M1055.2 604.0h3.6M1055.0 715.9h3.6M1051.8 626.5h3.6M1053.5 719.4h3.6M1055.7 723.1h3.6M1050.7 688.4h3.6M1052.3 614.1h3.6M1052.4 655.0h3.6M1055.8 734.3h3.6M1051.5 638.9h3.6M1055.8 690.3h3.6M1055.9 653.2h3.6M1054.2 721.7h3.6M1054.9 679.5h3.6M1051.4 723.1h3.6M1051.9 673.2h3.6M1051.2 714.8h3.6M1055.0 629.7h3.6M1055.3 653.7h3.6M1054.1 717.3h3.6M1055.1 626.0h3.6M1053.9 665.6h3.6M1050.9 736.6h3.6M1052.6 611.0h3.6M1052.5 612.4h3.6M1055.9 704.3h3.6M1053.2 796.6h3.6M1054.2 819.9h3.6M1052.0 858.4h3.6M1053.8 824.3h3.6M1054.7 850.6h3.6M1053.2 853.9h3.6M1054.4 812.9h3.6M1052.2 855.3h3.6M1050.9 869.2h3.6M1056.0 807.1h3.6M1053.1 798.5h3.6M1051.3 786.2h3.6M1032.9 619.2h3.6M1041.9 625.9h3.6M1032.9 624.1h3.6M1052.3 613.6h3.6M1043.3 603.7h3.6M1033.7 650.5h3.6M1033.4 637.3h3.6M1042.9 607.8h3.6M1045.2 614.3h3.6M1043.7 624.5h3.6M1032.8 623.0h3.6M1032.1 643.5h3.6M1041.2 644.4h3.6M1039.7 621.6h3.6" fill="none" stroke="#555" stroke-width="1.4"/>
<path d="M836.3 789.2a3.2 3.2 0 1 0 6.4 0a3.2 3.2 0 1 0-6.4 0M820.7 758.9a3.2 3.2 0 1 0 6.4 0a3.2 3.2 0 1 0-6.4 0M895.8 714.8a3.2 3.2 0 1 0 6.4 0a3.2 3.2 0 1 0-6.4 0M735.0 798.2a3.2 3.2 0 1 0 6.4 0a3.2 3.2 0 1 0-6.4 0M771.6 806.5a3.2 3.2 0 1 0 6.4 0a3.2 3.2 0 1 0-6.4 0M797.6 792.4a3.2 3.2 0 1 0 6.4 0a3.2 3.2 0 1 0-6.4 0M776.2 810.5a3.2 3.2 0 1 0 6.4 0a3.2 3.2 0 1 0-6.4 0M786.9 811.5a3.2 3.2 0 1 0 6.4 0a3.2 3.2 0 1 0-6.4 0M724.9 830.4a3.2 3.2 0 1 0 6.4 0a3.2 3.2 0 1 0-6.4 0M753.6 819.3a3.2 3.2 0 1 0 6.4 0a3.2 3.2 0 1 0-6.4 0M784.7 812.9a3.2 3.2 0 1 0 6.4 0a3.2 3.2 0 1 0-6.4 0M890.1 721.2a3.2 3.2 0 1 0 6.4 0a3.2 3.2 0 1 0-6.4 0M745.2 807.5a3.2 3.2 0 1 0 6.4 0a3.2 3.2 0 1 0-6.4 0M705.3 833.9a3.2 3.2 0 1 0 6.4 0a3.2 3.2 0 1 0-6.4 0M689.4 862.6a3.2 3.2 0 1 0 6.4 0a3.2 3.2 0 1 0-6.4 0M727.9 821.6a3.2 3.2 0 1 0 6.4 0a3.2 3.2 0 1 0-6.4 0M699.4 836.7a3.2 3.2 0 1 0 6.4 0a3.2 3.2 0 1 0-6.4 0M820.0 792.6a3.2 3.2 0 1 0 6.4 0a3.2 3.2 0 1 0-6.4 0M670.2 879.8a3.2 3.2 0 1 0 6.4 0a3.2 3.2 0 1 0-6.4 0M649.8 896.1a3.2 3.2 0 1 0 6.4 0a3.2 3.2 0 1 0-6.4 0M812.6 788.8a3.2 3.2 0 1 0 6.4 0a3.2 3.2 0 1 0-6.4 0M894.2 712.6a3.2 3.2 0 1 0 6.4 0a3.2 3.2 0 1 0-6.4 0M778.6 792.7a3.2 3.2 0 1 0 6.4 0a3.2 3.2 0 1 0-6.4 0M726.8 824.8a3.2 3.2 0 1 0 6.4 0a3.2 3.2 0 1 0-6.4 0M742.0 801.4a3.2 3.2 0 1 0 6.4 0a3.2 3.2 0 1 0-6.4 0M745.1 818.5a3.2 3.2 0 1 0 6.4 0a3.2 3.2 0 1 0-6.4 0M683.2 875.3a3.2 3.2 0 1 0 6.4 0a3.2 3.2 0 1 0-6.4 0M722.6 826.7a3.2 3.2 0 1 0 6.4 0a3.2 3.2 0 1 0-6.4 0M818.0 769.8a3.2 3.2 0 1 0 6.4 0a3.2 3.2 0 1 0-6.4 0M829.5 781.5a3.2 3.2 0 1 0 6.4 0a3.2 3.2 0 1 0-6.4 0M681.1 863.7a3.2 3.2 0 1 0 6.4 0a3.2 3.2 0 1 0-6.4 0M680.1 857.6a3.2 3.2 0 1 0 6.4 0a3.2 3.2 0 1 0-6.4 0M837.6 783.3a3.2 3.2 0 1 0 6.4 0a3.2 3.2 0 1 0-6.4 0M681.4 858.2a3.2 3.2 0 1 0 6.4 0a3.2 3.2 0 1 0-6.4 0M660.2 885.2a3.2 3.2 0 1 0 6.4 0a3.2 3.2 0 1 0-6.4 0M845.3 744.2a3.2 3.2 0 1 0 6.4 0a3.2 3.2 0 1 0-6.4 0M720.5 831.9a3.2 3.2 0 1 0 6.4 0a3.2 3.2 0 1 0-6.4 0M671.4 872.7a3.2 3.2 0 1 0 6.4 0a3.2 3.2 0 1 0-6.4 0M786.2 795.9a3.2 3.2 0 1 0 6.4 0a3.2 3.2 0 1 0-6.4 0M709.4 838.4a3.2 3.2 0 1 0 6.4 0a3.2 3.2 0 1 0-6.4 0M714.3 836.0a3.2 3.2 0 1 0 6.4 0a3.2 3.2 0 1 0-6.4 0M912.6 700.0a3.2 3.2 0 1 0 6.4 0a3.2 3.2 0 1 0-6.4 0M815.5 787.1a3.2 3.2 0 1 0 6.4 0a3.2 3.2 0 1 0-6.4 0M824.8 753.9a3.2 3.2 0 1 0 6.4 0a3.2 3.2 0 1 0-6.4 0M936.7 672.3a3.2 3.2 0 1 0 6.4 0a3.2 3.2 0 1 0-6.4 0M782.5 791.0a3.2 3.2 0 1 0 6.4 0a3.2 3.2 0 1 0-6.4 0M753.4 793.4a3.2 3.2 0 1 0 6.4 0a3.2 3.2 0 1 0-6.4 0M728.4 834.9a3.2 3.2 0 1 0 6.4 0a3.2 3.2 0 1 0-6.4 0M819.2 755.3a3.2 3.2 0 1 0 6.4 0a3.2 3.2 0 1 0-6.4 0M846.1 765.4a3.2 3.2 0 1 0 6.4 0a3.2 3.2 0 1 0-6.4 0M795.3 786.3a3.2 3.2 0 1 0 6.4 0a3.2 3.2 0 1 0-6.4 0M746.2 814.2a3.2 3.2 0 1 0 6.4 0a3.2 3.2 0 1 0-6.4 0M826.9 759.9a3.2 3.2 0 1 0 6.4 0a3.2 3.2 0 1 0-6.4 0M685.3 851.2a3.2 3.2 0 1 0 6.4 0a3.2 3.2 0 1 0-6.4 0M733.0 826.0a3.2 3.2 0 1 0 6.4 0a3.2 3.2 0 1 0-6.4 0M719.1 834.5a3.2 3.2 0 1 0 6.4 0a3.2 3.2 0 1 0-6.4 0M687.6 871.2a3.2 3.2 0 1 0 6.4 0a3.2 3.2 0 1 0-6.4 0M786.5 789.0a3.2 3.2 0 1 0 6.4 0a3.2 3.2 0 1 0-6.4 0M762.9 803.5a3.2 3.2 0 1 0 6.4 0a3.2 3.2 0 1 0-6.4 0M772.3 810.7a3.2 3.2 0 1 0 6.4 0a3.2 3.2 0 1 0-6.4 0M867.6 733.2a3.2 3.2 0 1 0 6.4 0a3.2 3.2 0 1 0-6.4 0M802.4 771.6a3.2 3.2 0 1 0 6.4 0a3.2 3.2 0 1 0-6.4 0M689.9 861.6a3.2 3.2 0 1 0 6.4 0a3.2 3.2 0 1 0-6.4 0M699.9 853.4a3.2 3.2 0 1 0 6.4 0a3.2 3.2 0 1 0-6.4 0M744.9 807.1a3.2 3.2 0 1 0 6.4 0a3.2 3.2 0 1 0-6.4 0M671.8 880.1a3.2 3.2 0 1 0 6.4 0a3.2 3.2 0 1 0-6.4 0M755.5 816.1a3.2 3.2 0 1 0 6.4 0a3.2 3.2 0 1 0-6.4 0M847.1 756.9a3.2 3.2 0 1 0 6.4 0a3.2 3.2 0 1 0-6.4 0M731.2 826.4a3.2 3.2 0 1 0 6.4 0a3.2 3.2 0 1 0-6.4 0M705.1 855.7a3.2 3.2 0 1 0 6.4 0a3.2 3.2 0 1 0-6.4 0M716.4 820.1a3.2 3.2 0 1 0 6.4 0a3.2 3.2 0 1 0-6.4 0M685.3 855.2a3.2 3.2 0 1 0 6.4 0a3.2 3.2 0 1 0-6.4 0M654.1 894.9a3.2 3.2 0 1 0 6.4 0a3.2 3.2 0 1 0-6.4 0M651.9 896.0a3.2 3.2 0 1 0 6.4 0a3.2 3.2 0 1 0-6.4 0M807.2 780.1a3.2 3.2 0 1 0 6.4 0a3.2 3.2 0 1 0-6.4 0M780.3 813.7a3.2 3.2 0 1 0 6.4 0a3.2 3.2 0 1 0-6.4 0M704.5 835.6a3.2 3.2 0 1 0 6.4 0a3.2 3.2 0 1 0-6.4 0M674.5 879.0a3.2 3.2 0 1 0 6.4 0a3.2 3.2 0 1 0-6.4 0M888.5 711.7a3.2 3.2 0 1 0 6.4 0a3.2 3.2 0 1 0-6.4 0M674.5 879.3a3.2 3.2 0 1 0 6.4 0a3.2 3.2 0 1 0-6.4 0M779.2 817.5a3.2 3.2 0 1 0 6.4 0a3.2 3.2 0 1 0-6.4 0M683.6 858.7a3.2 3.2 0 1 0 6.4 0a3.2 3.2 0 1 0-6.4 0M862.0 775.7a3.2 3.2 0 1 0 6.4 0a3.2 3.2 0 1 0-6.4 0M863.9 752.8a3.2 3.2 0 1 0 6.4 0a3.2 3.2 0 1 0-6.4 0M747.0 824.5a3.2 3.2 0 1 0 6.4 0a3.2 3.2 0 1 0-6.4 0M654.0 890.6a3.2 3.2 0 1 0 6.4 0a3.2 3.2 0 1 0-6.4 0M698.3 855.4a3.2 3.2 0 1 0 6.4 0a3.2 3.2 0 1 0-6.4 0M768.4 804.5a3.2 3.2 0 1 0 6.4 0a3.2 3.2 0 1 0-6.4 0M763.7 820.3a3.2 3.2 0 1 0 6.4 0a3.2 3.2 0 1 0-6.4 0M827.0 775.9a3.2 3.2 0 1 0 6.4 0a3.2 3.2 0 1 0-6.4 0M855.5 766.4a3.2 3.2 0 1 0 6.4 0a3.2 3.2 0 1 0-6.4 0M784.0 794.2a3.2 3.2 0 1 0 6.4 0a3.2 3.2 0 1 0-6.4 0M759.9 811.5a3.2 3.2 0 1 0 6.4 0a3.2 3.2 0 1 0-6.4 0M891.7 698.9a3.2 3.2 0 1 0 6.4 0a3.2 3.2 0 1 0-6.4 0M824.5 757.1a3.2 3.2 0 1 0 6.4 0a3.2 3.2 0 1 0-6.4 0M689.0 856.4a3.2 3.2 0 1 0 6.4 0a3.2 3.2 0 1 0-6.4 0M691.3 850.5a3.2 3.2 0 1 0 6.4 0a3.2 3.2 0 1 0-6.4 0M730.2 820.8a3.2 3.2 0 1 0 6.4 0a3.2 3.2 0 1 0-6.4 0M783.5 781.7a3.2 3.2 0 1 0 6.4 0a3.2 3.2 0 1 0-6.4 0M844.4 780.5a3.2 3.2 0 1 0 6.4 0a3.2 3.2 0 1 0-6.4 0M682.1 873.6a3.2 3.2 0 1 0 6.4 0a3.2 3.2 0 1 0-6.4 0M790.0 786.5a3.2 3.2 0 1 0 6.4 0a3.2 3.2 0 1 0-6.4 0M775.1 803.9a3.2 3.2 0 1 0 6.4 0a3.2 3.2 0 1 0-6.4 0M689.6 859.8a3.2 3.2 0 1 0 6.4 0a3.2 3.2 0 1 0-6.4 0M799.9 775.8a3.2 3.2 0 1 0 6.4 0a3.2 3.2 0 1 0-6.4 0M807.5 784.5a3.2 3.2 0 1 0 6.4 0a3.2 3.2 0 1 0-6.4 0M736.0 828.6a3.2 3.2 0 1 0 6.4 0a3.2 3.2 0 1 0-6.4 0M743.9 796.8a3.2 3.2 0 1 0 6.4 0a3.2 3.2 0 1 0-6.4 0M723.7 826.3a3.2 3.2 0 1 0 6.4 0a3.2 3.2 0 1 0-6.4 0M752.3 827.4a3.2 3.2 0 1 0 6.4 0a3.2 3.2 0 1 0-6.4 0M734.0 817.7a3.2 3.2 0 1 0 6.4 0a3.2 3.2 0 1 0-6.4 0M821.4 758.6a3.2 3.2 0 1 0 6.4 0a3.2 3.2 0 1 0-6.4 0M874.5 741.8a3.2 3.2 0 1 0 6.4 0a3.2 3.2 0 1 0-6.4 0M920.5 688.1a3.2 3.2 0 1 0 6.4 0a3.2 3.2 0 1 0-6.4 0M682.3 848.8a3.2 3.2 0 1 0 6.4 0a3.2 3.2 0 1 0-6.4 0M896.5 701.5a3.2 3.2 0 1 0 6.4 0a3.2 3.2 0 1 0-6.4 0M849.5 786.7a3.2 3.2 0 1 0 6.4 0a3.2 3.2 0 1 0-6.4 0M827.8 790.9a3.2 3.2 0 1 0 6.4 0a3.2 3.2 0 1 0-6.4 0M686.3 866.1a3.2 3.2 0 1 0 6.4 0a3.2 3.2 0 1 0-6.4 0M648.6 897.9a3.2 3.2 0 1 0 6.4 0a3.2 3.2 0 1 0-6.4 0M688.2 858.8a3.2 3.2 0 1 0 6.4 0a3.2 3.2 0 1 0-6.4 0M776.9 803.8a3.2 3.2 0 1 0 6.4 0a3.2 3.2 0 1 0-6.4 0M719.5 860.9a3.2 3.2 0 1 0 6.4 0a3.2 3.2 0 1 0-6.4 0M679.4 861.1a3.2 3.2 0 1 0 6.4 0a3.2 3.2 0 1 0-6.4 0M697.5 867.9a3.2 3.2 0 1 0 6.4 0a3.2 3.2 0 1 0-6.4 0M868.2 755.0a3.2 3.2 0 1 0 6.4 0a3.2 3.2 0 1 0-6.4 0M793.3 820.6a3.2 3.2 0 1 0 6.4 0a3.2 3.2 0 1 0-6.4 0M672.3 874.5a3.2 3.2 0 1 0 6.4 0a3.2 3.2 0 1 0-6.4 0M647.9 891.9a3.2 3.2 0 1 0 6.4 0a3.2 3.2 0 1 0-6.4 0M822.9 799.5a3.2 3.2 0 1 0 6.4 0a3.2 3.2 0 1 0-6.4 0M755.5 798.9a3.2 3.2 0 1 0 6.4 0a3.2 3.2 0 1 0-6.4 0M795.1 782.8a3.2 3.2 0 1 0 6.4 0a3.2 3.2 0 1 0-6.4 0M710.5 842.8a3.2 3.2 0 1 0 6.4 0a3.2 3.2 0 1 0-6.4 0M728.4 821.5a3.2 3.2 0 1 0 6.4 0a3.2 3.2 0 1 0-6.4 0M702.5 849.8a3.2 3.2 0 1 0 6.4 0a3.2 3.2 0 1 0-6.4 0M880.2 689.4a3.2 3.2 0 1 0 6.4 0a3.2 3.2 0 1 0-6.4 0M707.4 835.3a3.2 3.2 0 1 0 6.4 0a3.2 3.2 0 1 0-6.4 0M861.5 742.3a3.2 3.2 0 1 0 6.4 0a3.2 3.2 0 1 0-6.4 0M712.7 833.8a3.2 3.2 0 1 0 6.4 0a3.2 3.2 0 1 0-6.4 0M678.3 862.8a3.2 3.2 0 1 0 6.4 0a3.2 3.2 0 1 0-6.4 0M702.5 835.1a3.2 3.2 0 1 0 6.4 0a3.2 3.2 0 1 0-6.4 0M699.3 842.2a3.2 3.2 0 1 0 6.4 0a3.2 3.2 0 1 0-6.4 0M675.6 876.0a3.2 3.2 0 1 0 6.4 0a3.2 3.2 0 1 0-6.4 0M671.4 875.7a3.2 3.2 0 1 0 6.4 0a3.2 3.2 0 1 0-6.4 0M688.9 856.4a3.2 3.2 0 1 0 6.4 0a3.2 3.2 0 1 0-6.4 0M762.9 810.6a3.2 3.2 0 1 0 6.4 0a3.2 3.2 0 1 0-6.4 0M768.8 797.7a3.2 3.2 0 1 0 6.4 0a3.2 3.2 0 1 0-6.4 0M734.7 834.5a3.2 3.2 0 1 0 6.4 0a3.2 3.2 0 1 0-6.4 0M680.5 869.5a3.2 3.2 0 1 0 6.4 0a3.2 3.2 0 1 0-6.4 0M740.9 814.1a3.2 3.2 0 1 0 6.4 0a3.2 3.2 0 1 0-6.4 0M766.8 804.7a3.2 3.2 0 1 0 6.4 0a3.2 3.2 0 1 0-6.4 0M765.2 786.8a3.2 3.2 0 1 0 6.4 0a3.2 3.2 0 1 0-6.4 0M656.3 893.2a3.2 3.2 0 1 0 6.4 0a3.2 3.2 0 1 0-6.4 0M731.1 817.5a3.2 3.2 0 1 0 6.4 0a3.2 3.2 0 1 0-6.4 0M663.8 867.6a3.2 3.2 0 1 0 6.4 0a3.2 3.2 0 1 0-6.4 0M685.8 862.0a3.2 3.2 0 1 0 6.4 0a3.2 3.2 0 1 0-6.4 0M710.2 840.9a3.2 3.2 0 1 0 6.4 0a3.2 3.2 0 1 0-6.4 0M796.2 785.0a3.2 3.2 0 1 0 6.4 0a3.2 3.2 0 1 0-6.4 0M736.0 823.4a3.2 3.2 0 1 0 6.4 0a3.2 3.2 0 1 0-6.4 0M785.6 795.7a3.2 3.2 0 1 0 6.4 0a3.2 3.2 0 1 0-6.4 0M695.7 869.1a3.2 3.2 0 1 0 6.4 0a3.2 3.2 0 1 0-6.4 0M778.8 782.6a3.2 3.2 0 1 0 6.4 0a3.2 3.2 0 1 0-6.4 0M730.1 828.6a3.2 3.2 0 1 0 6.4 0a3.2 3.2 0 1 0-6.4 0M892.8 722.0a3.2 3.2 0 1 0 6.4 0a3.2 3.2 0 1 0-6.4 0M737.9 818.4a3.2 3.2 0 1 0 6.4 0a3.2 3.2 0 1 0-6.4 0M962.3 639.9a3.2 3.2 0 1 0 6.4 0a3.2 3.2 0 1 0-6.4 0M711.9 838.7a3.2 3.2 0 1 0 6.4 0a3.2 3.2 0 1 0-6.4 0M788.6 806.0a3.2 3.2 0 1 0 6.4 0a3.2 3.2 0 1 0-6.4 0M726.8 821.3a3.2 3.2 0 1 0 6.4 0a3.2 3.2 0 1 0-6.4 0M699.3 840.1a3.2 3.2 0 1 0 6.4 0a3.2 3.2 0 1 0-6.4 0M674.8 877.1a3.2 3.2 0 1 0 6.4 0a3.2 3.2 0 1 0-6.4 0M686.2 864.1a3.2 3.2 0 1 0 6.4 0a3.2 3.2 0 1 0-6.4 0M673.0 875.6a3.2 3.2 0 1 0 6.4 0a3.2 3.2 0 1 0-6.4 0M774.9 812.5a3.2 3.2 0 1 0 6.4 0a3.2 3.2 0 1 0-6.4 0M783.1 816.3a3.2 3.2 0 1 0 6.4 0a3.2 3.2 0 1 0-6.4 0M703.2 861.0a3.2 3.2 0 1 0 6.4 0a3.2 3.2 0 1 0-6.4 0M710.6 856.2a3.2 3.2 0 1 0 6.4 0a3.2 3.2 0 1 0-6.4 0M718.6 841.2a3.2 3.2 0 1 0 6.4 0a3.2 3.2 0 1 0-6.4 0M749.8 820.9a3.2 3.2 0 1 0 6.4 0a3.2 3.2 0 1 0-6.4 0M666.9 881.3a3.2 3.2 0 1 0 6.4 0a3.2 3.2 0 1 0-6.4 0M664.6 881.7a3.2 3.2 0 1 0 6.4 0a3.2 3.2 0 1 0-6.4 0M699.9 845.9a3.2 3.2 0 1 0 6.4 0a3.2 3.2 0 1 0-6.4 0M889.0 762.1a3.2 3.2 0 1 0 6.4 0a3.2 3.2 0 1 0-6.4 0M846.4 744.5a3.2 3.2 0 1 0 6.4 0a3.2 3.2 0 1 0-6.4 0M690.6 851.3a3.2 3.2 0 1 0 6.4 0a3.2 3.2 0 1 0-6.4 0M749.6 821.3a3.2 3.2 0 1 0 6.4 0a3.2 3.2 0 1 0-6.4 0M802.9 779.3a3.2 3.2 0 1 0 6.4 0a3.2 3.2 0 1 0-6.4 0M687.1 868.6a3.2 3.2 0 1 0 6.4 0a3.2 3.2 0 1 0-6.4 0M745.9 831.0a3.2 3.2 0 1 0 6.4 0a3.2 3.2 0 1 0-6.4 0M748.9 825.4a3.2 3.2 0 1 0 6.4 0a3.2 3.2 0 1 0-6.4 0M743.0 788.2a3.2 3.2 0 1 0 6.4 0a3.2 3.2 0 1 0-6.4 0M651.0 895.2a3.2 3.2 0 1 0 6.4 0a3.2 3.2 0 1 0-6.4 0M921.6 688.9a3.2 3.2 0 1 0 6.4 0a3.2 3.2 0 1 0-6.4 0M706.5 841.3a3.2 3.2 0 1 0 6.4 0a3.2 3.2 0 1 0-6.4 0M689.7 857.6a3.2 3.2 0 1 0 6.4 0a3.2 3.2 0 1 0-6.4 0M782.3 788.3a3.2 3.2 0 1 0 6.4 0a3.2 3.2 0 1 0-6.4 0M694.6 851.4a3.2 3.2 0 1 0 6.4 0a3.2 3.2 0 1 0-6.4 0M689.9 857.2a3.2 3.2 0 1 0 6.4 0a3.2 3.2 0 1 0-6.4 0M699.5 854.6a3.2 3.2 0 1 0 6.4 0a3.2 3.2 0 1 0-6.4 0M757.5 807.4a3.2 3.2 0 1 0 6.4 0a3.2 3.2 0 1 0-6.4 0M731.1 819.4a3.2 3.2 0 1 0 6.4 0a3.2 3.2 0 1 0-6.4 0M698.8 842.4a3.2 3.2 0 1 0 6.4 0a3.2 3.2 0 1 0-6.4 0M658.9 887.0a3.2 3.2 0 1 0 6.4 0a3.2 3.2 0 1 0-6.4 0M729.0 815.7a3.2 3.2 0 1 0 6.4 0a3.2 3.2 0 1 0-6.4 0M841.4 757.8a3.2 3.2 0 1 0 6.4 0a3.2 3.2 0 1 0-6.4 0M873.9 739.5a3.2 3.2 0 1 0 6.4 0a3.2 3.2 0 1 0-6.4 0M702.2 840.6a3.2 3.2 0 1 0 6.4 0a3.2 3.2 0 1 0-6.4 0M789.4 790.4a3.2 3.2 0 1 0 6.4 0a3.2 3.2 0 1 0-6.4 0M730.8 825.3a3.2 3.2 0 1 0 6.4 0a3.2 3.2 0 1 0-6.4 0M710.0 849.4a3.2 3.2 0 1 0 6.4 0a3.2 3.2 0 1 0-6.4 0M706.3 843.0a3.2 3.2 0 1 0 6.4 0a3.2 3.2 0 1 0-6.4 0M846.4 739.9a3.2 3.2 0 1 0 6.4 0a3.2 3.2 0 1 0-6.4 0M755.3 823.7a3.2 3.2 0 1 0 6.4 0a3.2 3.2 0 1 0-6.4 0M671.6 865.7a3.2 3.2 0 1 0 6.4 0a3.2 3.2 0 1 0-6.4 0M648.6 900.4a3.2 3.2 0 1 0 6.4 0a3.2 3.2 0 1 0-6.4 0M709.1 853.0a3.2 3.2 0 1 0 6.4 0a3.2 3.2 0 1 0-6.4 0M879.6 702.9a3.2 3.2 0 1 0 6.4 0a3.2 3.2 0 1 0-6.4 0M719.9 844.3a3.2 3.2 0 1 0 6.4 0a3.2 3.2 0 1 0-6.4 0M647.6 893.0a3.2 3.2 0 1 0 6.4 0a3.2 3.2 0 1 0-6.4 0M718.9 828.7a3.2 3.2 0 1 0 6.4 0a3.2 3.2 0 1 0-6.4 0M679.3 860.0a3.2 3.2 0 1 0 6.4 0a3.2 3.2 0 1 0-6.4 0M714.6 827.9a3.2 3.2 0 1 0 6.4 0a3.2 3.2 0 1 0-6.4 0M728.9 808.1a3.2 3.2 0 1 0 6.4 0a3.2 3.2 0 1 0-6.4 0M657.2 886.3a3.2 3.2 0 1 0 6.4 0a3.2 3.2 0 1 0-6.4 0M721.5 841.1a3.2 3.2 0 1 0 6.4 0a3.2 3.2 0 1 0-6.4 0M787.2 793.0a3.2 3.2 0 1 0 6.4 0a3.2 3.2 0 1 0-6.4 0M717.5 840.7a3.2 3.2 0 1 0 6.4 0a3.2 3.2 0 1 0-6.4 0M785.8 772.3a3.2 3.2 0 1 0 6.4 0a3.2 3.2 0 1 0-6.4 0M784.9 803.1a3.2 3.2 0 1 0 6.4 0a3.2 3.2 0 1 0-6.4 0M706.6 833.8a3.2 3.2 0 1 0 6.4 0a3.2 3.2 0 1 0-6.4 0M768.0 803.9a3.2 3.2 0 1 0 6.4 0a3.2 3.2 0 1 0-6.4 0M812.8 785.5a3.2 3.2 0 1 0 6.4 0a3.2 3.2 0 1 0-6.4 0M712.3 849.2a3.2 3.2 0 1 0 6.4 0a3.2 3.2 0 1 0-6.4 0M720.4 833.2a3.2 3.2 0 1 0 6.4 0a3.2 3.2 0 1 0-6.4 0M805.5 794.1a3.2 3.2 0 1 0 6.4 0a3.2 3.2 0 1 0-6.4 0M736.5 828.4a3.2 3.2 0 1 0 6.4 0a3.2 3.2 0 1 0-6.4 0M647.3 897.1a3.2 3.2 0 1 0 6.4 0a3.2 3.2 0 1 0-6.4 0M675.7 878.0a3.2 3.2 0 1 0 6.4 0a3.2 3.2 0 1 0-6.4 0M863.5 749.1a3.2 3.2 0 1 0 6.4 0a3.2 3.2 0 1 0-6.4 0M648.1 893.4a3.2 3.2 0 1 0 6.4 0a3.2 3.2 0 1 0-6.4 0M746.7 820.1a3.2 3.2 0 1 0 6.4 0a3.2 3.2 0 1 0-6.4 0M790.0 780.1a3.2 3.2 0 1 0 6.4 0a3.2 3.2 0 1 0-6.4 0M881.4 745.2a3.2 3.2 0 1 0 6.4 0a3.2 3.2 0 1 0-6.4 0M805.3 778.0a3.2 3.2 0 1 0 6.4 0a3.2 3.2 0 1 0-6.4 0M782.6 792.1a3.2 3.2 0 1 0 6.4 0a3.2 3.2 0 1 0-6.4 0M719.1 827.0a3.2 3.2 0 1 0 6.4 0a3.2 3.2 0 1 0-6.4 0M697.1 852.4a3.2 3.2 0 1 0 6.4 0a3.2 3.2 0 1 0-6.4 0M779.8 795.8a3.2 3.2 0 1 0 6.4 0a3.2 3.2 0 1 0-6.4 0M699.2 849.0a3.2 3.2 0 1 0 6.4 0a3.2 3.2 0 1 0-6.4 0M688.0 876.5a3.2 3.2 0 1 0 6.4 0a3.2 3.2 0 1 0-6.4 0M741.4 817.9a3.2 3.2 0 1 0 6.4 0a3.2 3.2 0 1 0-6.4 0M725.0 822.7a3.2 3.2 0 1 0 6.4 0a3.2 3.2 0 1 0-6.4 0M800.1 790.4a3.2 3.2 0 1 0 6.4 0a3.2 3.2 0 1 0-6.4 0M749.4 815.0a3.2 3.2 0 1 0 6.4 0a3.2 3.2 0 1 0-6.4 0M757.5 811.9a3.2 3.2 0 1 0 6.4 0a3.2 3.2 0 1 0-6.4 0M687.4 867.8a3.2 3.2 0 1 0 6.4 0a3.2 3.2 0 1 0-6.4 0M871.6 739.6a3.2 3.2 0 1 0 6.4 0a3.2 3.2 0 1 0-6.4 0M811.4 803.2a3.2 3.2 0 1 0 6.4 0a3.2 3.2 0 1 0-6.4 0M708.4 847.4a3.2 3.2 0 1 0 6.4 0a3.2 3.2 0 1 0-6.4 0M671.2 871.4a3.2 3.2 0 1 0 6.4 0a3.2 3.2 0 1 0-6.4 0M655.7 877.9a3.2 3.2 0 1 0 6.4 0a3.2 3.2 0 1 0-6.4 0M651.4 884.9a3.2 3.2 0 1 0 6.4 0a3.2 3.2 0 1 0-6.4 0M701.2 858.0a3.2 3.2 0 1 0 6.4 0a3.2 3.2 0 1 0-6.4 0M679.3 869.2a3.2 3.2 0 1 0 6.4 0a3.2 3.2 0 1 0-6.4 0M684.8 854.5a3.2 3.2 0 1 0 6.4 0a3.2 3.2 0 1 0-6.4 0M682.3 863.8a3.2 3.2 0 1 0 6.4 0a3.2 3.2 0 1 0-6.4 0M775.3 804.0a3.2 3.2 0 1 0 6.4 0a3.2 3.2 0 1 0-6.4 0M831.9 770.5a3.2 3.2 0 1 0 6.4 0a3.2 3.2 0 1 0-6.4 0M861.6 764.3a3.2 3.2 0 1 0 6.4 0a3.2 3.2 0 1 0-6.4 0M826.4 768.3a3.2 3.2 0 1 0 6.4 0a3.2 3.2 0 1 0-6.4 0M783.7 789.3a3.2 3.2 0 1 0 6.4 0a3.2 3.2 0 1 0-6.4 0M780.6 799.9a3.2 3.2 0 1 0 6.4 0a3.2 3.2 0 1 0-6.4 0M855.0 761.7a3.2 3.2 0 1 0 6.4 0a3.2 3.2 0 1 0-6.4 0M655.1 893.3a3.2 3.2 0 1 0 6.4 0a3.2 3.2 0 1 0-6.4 0M669.9 876.9a3.2 3.2 0 1 0 6.4 0a3.2 3.2 0 1 0-6.4 0M733.2 828.7a3.2 3.2 0 1 0 6.4 0a3.2 3.2 0 1 0-6.4 0M663.9 885.6a3.2 3.2 0 1 0 6.4 0a3.2 3.2 0 1 0-6.4 0M821.6 779.3a3.2 3.2 0 1 0 6.4 0a3.2 3.2 0 1 0-6.4 0M851.1 741.1a3.2 3.2 0 1 0 6.4 0a3.2 3.2 0 1 0-6.4 0M776.1 803.9a3.2 3.2 0 1 0 6.4 0a3.2 3.2 0 1 0-6.4 0M718.8 838.1a3.2 3.2 0 1 0 6.4 0a3.2 3.2 0 1 0-6.4 0M710.0 848.9a3.2 3.2 0 1 0 6.4 0a3.2 3.2 0 1 0-6.4 0M836.2 770.6a3.2 3.2 0 1 0 6.4 0a3.2 3.2 0 1 0-6.4 0M809.2 788.8a3.2 3.2 0 1 0 6.4 0a3.2 3.2 0 1 0-6.4 0M749.7 824.4a3.2 3.2 0 1 0 6.4 0a3.2 3.2 0 1 0-6.4 0M821.8 765.4a3.2 3.2 0 1 0 6.4 0a3.2 3.2 0 1 0-6.4 0M787.0 804.3a3.2 3.2 0 1 0 6.4 0a3.2 3.2 0 1 0-6.4 0M653.3 890.4a3.2 3.2 0 1 0 6.4 0a3.2 3.2 0 1 0-6.4 0M676.3 872.6a3.2 3.2 0 1 0 6.4 0a3.2 3.2 0 1 0-6.4 0M762.1 803.6a3.2 3.2 0 1 0 6.4 0a3.2 3.2 0 1 0-6.4 0M705.7 849.7a3.2 3.2 0 1 0 6.4 0a3.2 3.2 0 1 0-6.4 0M900.0 686.5a3.2 3.2 0 1 0 6.4 0a3.2 3.2 0 1 0-6.4 0M919.3 666.8a3.2 3.2 0 1 0 6.4 0a3.2 3.2 0 1 0-6.4 0M703.3 842.7a3.2 3.2 0 1 0 6.4 0a3.2 3.2 0 1 0-6.4 0M754.8 816.9a3.2 3.2 0 1 0 6.4 0a3.2 3.2 0 1 0-6.4 0M868.1 714.5a3.2 3.2 0 1 0 6.4 0a3.2 3.2 0 1 0-6.4 0M772.8 797.6a3.2 3.2 0 1 0 6.4 0a3.2 3.2 0 1 0-6.4 0M758.1 808.0a3.2 3.2 0 1 0 6.4 0a3.2 3.2 0 1 0-6.4 0M740.7 820.4a3.2 3.2 0 1 0 6.4 0a3.2 3.2 0 1 0-6.4 0M745.4 816.8a3.2 3.2 0 1 0 6.4 0a3.2 3.2 0 1 0-6.4 0M852.6 748.1a3.2 3.2 0 1 0 6.4 0a3.2 3.2 0 1 0-6.4 0M732.2 823.9a3.2 3.2 0 1 0 6.4 0a3.2 3.2 0 1 0-6.4 0M658.7 894.5a3.2 3.2 0 1 0 6.4 0a3.2 3.2 0 1 0-6.4 0M869.3 745.5a3.2 3.2 0 1 0 6.4 0a3.2 3.2 0 1 0-6.4 0M762.5 798.6a3.2 3.2 0 1 0 6.4 0a3.2 3.2 0 1 0-6.4 0M775.9 801.8a3.2 3.2 0 1 0 6.4 0a3.2 3.2 0 1 0-6.4 0M701.4 847.8a3.2 3.2 0 1 0 6.4 0a3.2 3.2 0 1 0-6.4 0M779.9 809.2a3.2 3.2 0 1 0 6.4 0a3.2 3.2 0 1 0-6.4 0M708.1 842.5a3.2 3.2 0 1 0 6.4 0a3.2 3.2 0 1 0-6.4 0M751.8 824.3a3.2 3.2 0 1 0 6.4 0a3.2 3.2 0 1 0-6.4 0M684.2 860.8a3.2 3.2 0 1 0 6.4 0a3.2 3.2 0 1 0-6.4 0M670.9 874.8a3.2 3.2 0 1 0 6.4 0a3.2 3.2 0 1 0-6.4 0M814.2 788.7a3.2 3.2 0 1 0 6.4 0a3.2 3.2 0 1 0-6.4 0M692.0 854.8a3.2 3.2 0 1 0 6.4 0a3.2 3.2 0 1 0-6.4 0M682.4 864.9a3.2 3.2 0 1 0 6.4 0a3.2 3.2 0 1 0-6.4 0M870.4 743.2a3.2 3.2 0 1 0 6.4 0a3.2 3.2 0 1 0-6.4 0M751.1 809.5a3.2 3.2 0 1 0 6.4 0a3.2 3.2 0 1 0-6.4 0M766.0 806.9a3.2 3.2 0 1 0 6.4 0a3.2 3.2 0 1 0-6.4 0M884.7 690.7a3.2 3.2 0 1 0 6.4 0a3.2 3.2 0 1 0-6.4 0M655.3 888.9a3.2 3.2 0 1 0 6.4 0a3.2 3.2 0 1 0-6.4 0M825.0 784.1a3.2 3.2 0 1 0 6.4 0a3.2 3.2 0 1 0-6.4 0M813.6 778.9a3.2 3.2 0 1 0 6.4 0a3.2 3.2 0 1 0-6.4 0M755.0 798.8a3.2 3.2 0 1 0 6.4 0a3.2 3.2 0 1 0-6.4 0M695.5 845.6a3.2 3.2 0 1 0 6.4 0a3.2 3.2 0 1 0-6.4 0M795.8 792.5a3.2 3.2 0 1 0 6.4 0a3.2 3.2 0 1 0-6.4 0M679.4 863.5a3.2 3.2 0 1 0 6.4 0a3.2 3.2 0 1 0-6.4 0M848.9 768.4a3.2 3.2 0 1 0 6.4 0a3.2 3.2 0 1 0-6.4 0M675.9 868.4a3.2 3.2 0 1 0 6.4 0a3.2 3.2 0 1 0-6.4 0M895.3 723.7a3.2 3.2 0 1 0 6.4 0a3.2 3.2 0 1 0-6.4 0M812.9 800.4a3.2 3.2 0 1 0 6.4 0a3.2 3.2 0 1 0-6.4 0M781.6 800.5a3.2 3.2 0 1 0 6.4 0a3.2 3.2 0 1 0-6.4 0M793.7 771.3a3.2 3.2 0 1 0 6.4 0a3.2 3.2 0 1 0-6.4 0M921.5 647.3a3.2 3.2 0 1 0 6.4 0a3.2 3.2 0 1 0-6.4 0M846.8 760.7a3.2 3.2 0 1 0 6.4 0a3.2 3.2 0 1 0-6.4 0M720.8 849.6a3.2 3.2 0 1 0 6.4 0a3.2 3.2 0 1 0-6.4 0M685.1 863.7a3.2 3.2 0 1 0 6.4 0a3.2 3.2 0 1 0-6.4 0M669.0 869.1a3.2 3.2 0 1 0 6.4 0a3.2 3.2 0 1 0-6.4 0M690.8 856.8a3.2 3.2 0 1 0 6.4 0a3.2 3.2 0 1 0-6.4 0M790.2 795.6a3.2 3.2 0 1 0 6.4 0a3.2 3.2 0 1 0-6.4 0M792.9 779.1a3.2 3.2 0 1 0 6.4 0a3.2 3.2 0 1 0-6.4 0M664.6 889.2a3.2 3.2 0 1 0 6.4 0a3.2 3.2 0 1 0-6.4 0M695.2 849.5a3.2 3.2 0 1 0 6.4 0a3.2 3.2 0 1 0-6.4 0M780.0 799.6a3.2 3.2 0 1 0 6.4 0a3.2 3.2 0 1 0-6.4 0M934.6 649.9a3.2 3.2 0 1 0 6.4 0a3.2 3.2 0 1 0-6.4 0M740.4 797.4a3.2 3.2 0 1 0 6.4 0a3.2 3.2 0 1 0-6.4 0M887.9 716.3a3.2 3.2 0 1 0 6.4 0a3.2 3.2 0 1 0-6.4 0M743.7 823.8a3.2 3.2 0 1 0 6.4 0a3.2 3.2 0 1 0-6.4 0M732.0 827.6a3.2 3.2 0 1 0 6.4 0a3.2 3.2 0 1 0-6.4 0M738.2 812.8a3.2 3.2 0 1 0 6.4 0a3.2 3.2 0 1 0-6.4 0M777.3 819.1a3.2 3.2 0 1 0 6.4 0a3.2 3.2 0 1 0-6.4 0M714.2 834.3a3.2 3.2 0 1 0 6.4 0a3.2 3.2 0 1 0-6.4 0M695.4 854.2a3.2 3.2 0 1 0 6.4 0a3.2 3.2 0 1 0-6.4 0M953.1 656.2a3.2 3.2 0 1 0 6.4 0a3.2 3.2 0 1 0-6.4 0M903.5 700.1a3.2 3.2 0 1 0 6.4 0a3.2 3.2 0 1 0-6.4 0M666.6 873.0a3.2 3.2 0 1 0 6.4 0a3.2 3.2 0 1 0-6.4 0M651.6 899.3a3.2 3.2 0 1 0 6.4 0a3.2 3.2 0 1 0-6.4 0M750.2 817.1a3.2 3.2 0 1 0 6.4 0a3.2 3.2 0 1 0-6.4 0M678.1 871.7a3.2 3.2 0 1 0 6.4 0a3.2 3.2 0 1 0-6.4 0M665.5 880.2a3.2 3.2 0 1 0 6.4 0a3.2 3.2 0 1 0-6.4 0M810.2 785.3a3.2 3.2 0 1 0 6.4 0a3.2 3.2 0 1 0-6.4 0M728.6 847.7a3.2 3.2 0 1 0 6.4 0a3.2 3.2 0 1 0-6.4 0M686.1 867.9a3.2 3.2 0 1 0 6.4 0a3.2 3.2 0 1 0-6.4 0M653.7 885.5a3.2 3.2 0 1 0 6.4 0a3.2 3.2 0 1 0-6.4 0M887.1 709.7a3.2 3.2 0 1 0 6.4 0a3.2 3.2 0 1 0-6.4 0M708.0 824.4a3.2 3.2 0 1 0 6.4 0a3.2 3.2 0 1 0-6.4 0M827.6 784.8a3.2 3.2 0 1 0 6.4 0a3.2 3.2 0 1 0-6.4 0M658.0 885.3a3.2 3.2 0 1 0 6.4 0a3.2 3.2 0 1 0-6.4 0M879.8 742.1a3.2 3.2 0 1 0 6.4 0a3.2 3.2 0 1 0-6.4 0M797.8 796.8a3.2 3.2 0 1 0 6.4 0a3.2 3.2 0 1 0-6.4 0M738.9 844.8a3.2 3.2 0 1 0 6.4 0a3.2 3.2 0 1 0-6.4 0M673.5 871.4a3.2 3.2 0 1 0 6.4 0a3.2 3.2 0 1 0-6.4 0M680.1 857.4a3.2 3.2 0 1 0 6.4 0a3.2 3.2 0 1 0-6.4 0M694.3 853.9a3.2 3.2 0 1 0 6.4 0a3.2 3.2 0 1 0-6.4 0M681.5 864.5a3.2 3.2 0 1 0 6.4 0a3.2 3.2 0 1 0-6.4 0M788.9 788.7a3.2 3.2 0 1 0 6.4 0a3.2 3.2 0 1 0-6.4 0M730.0 828.9a3.2 3.2 0 1 0 6.4 0a3.2 3.2 0 1 0-6.4 0M745.2 837.9a3.2 3.2 0 1 0 6.4 0a3.2 3.2 0 1 0-6.4 0M911.3 718.3a3.2 3.2 0 1 0 6.4 0a3.2 3.2 0 1 0-6.4 0M654.3 897.5a3.2 3.2 0 1 0 6.4 0a3.2 3.2 0 1 0-6.4 0M828.2 793.1a3.2 3.2 0 1 0 6.4 0a3.2 3.2 0 1 0-6.4 0M868.5 761.2a3.2 3.2 0 1 0 6.4 0a3.2 3.2 0 1 0-6.4 0M780.5 788.6a3.2 3.2 0 1 0 6.4 0a3.2 3.2 0 1 0-6.4 0M762.9 801.9a3.2 3.2 0 1 0 6.4 0a3.2 3.2 0 1 0-6.4 0M662.0 882.4a3.2 3.2 0 1 0 6.4 0a3.2 3.2 0 1 0-6.4 0M695.5 840.7a3.2 3.2 0 1 0 6.4 0a3.2 3.2 0 1 0-6.4 0M660.0 883.4a3.2 3.2 0 1 0 6.4 0a3.2 3.2 0 1 0-6.4 0M825.4 772.0a3.2 3.2 0 1 0 6.4 0a3.2 3.2 0 1 0-6.4 0M711.1 831.5a3.2 3.2 0 1 0 6.4 0a3.2 3.2 0 1 0-6.4 0M886.2 725.7a3.2 3.2 0 1 0 6.4 0a3.2 3.2 0 1 0-6.4 0M777.7 801.8a3.2 3.2 0 1 0 6.4 0a3.2 3.2 0 1 0-6.4 0M846.9 770.5a3.2 3.2 0 1 0 6.4 0a3.2 3.2 0 1 0-6.4 0M780.2 796.3a3.2 3.2 0 1 0 6.4 0a3.2 3.2 0 1 0-6.4 0M745.0 813.7a3.2 3.2 0 1 0 6.4 0a3.2 3.2 0 1 0-6.4 0M764.7 792.3a3.2 3.2 0 1 0 6.4 0a3.2 3.2 0 1 0-6.4 0M800.7 788.1a3.2 3.2 0 1 0 6.4 0a3.2 3.2 0 1 0-6.4 0M841.1 774.9a3.2 3.2 0 1 0 6.4 0a3.2 3.2 0 1 0-6.4 0M805.2 793.3a3.2 3.2 0 1 0 6.4 0a3.2 3.2 0 1 0-6.4 0M668.5 881.4a3.2 3.2 0 1 0 6.4 0a3.2 3.2 0 1 0-6.4 0M888.3 740.6a3.2 3.2 0 1 0 6.4 0a3.2 3.2 0 1 0-6.4 0M795.9 782.6a3.2 3.2 0 1 0 6.4 0a3.2 3.2 0 1 0-6.4 0M855.9 765.8a3.2 3.2 0 1 0 6.4 0a3.2 3.2 0 1 0-6.4 0M670.6 879.8a3.2 3.2 0 1 0 6.4 0a3.2 3.2 0 1 0-6.4 0M657.3 891.2a3.2 3.2 0 1 0 6.4 0a3.2 3.2 0 1 0-6.4 0M912.8 688.9a3.2 3.2 0 1 0 6.4 0a3.2 3.2 0 1 0-6.4 0M729.1 820.7a3.2 3.2 0 1 0 6.4 0a3.2 3.2 0 1 0-6.4 0M846.5 777.5a3.2 3.2 0 1 0 6.4 0a3.2 3.2 0 1 0-6.4 0M763.5 806.4a3.2 3.2 0 1 0 6.4 0a3.2 3.2 0 1 0-6.4 0M732.2 814.3a3.2 3.2 0 1 0 6.4 0a3.2 3.2 0 1 0-6.4 0M672.1 865.9a3.2 3.2 0 1 0 6.4 0a3.2 3.2 0 1 0-6.4 0M656.6 889.4a3.2 3.2 0 1 0 6.4 0a3.2 3.2 0 1 0-6.4 0M804.5 785.0a3.2 3.2 0 1 0 6.4 0a3.2 3.2 0 1 0-6.4 0M767.8 778.6a3.2 3.2 0 1 0 6.4 0a3.2 3.2 0 1 0-6.4 0M812.5 783.4a3.2 3.2 0 1 0 6.4 0a3.2 3.2 0 1 0-6.4 0M706.6 833.7a3.2 3.2 0 1 0 6.4 0a3.2 3.2 0 1 0-6.4 0M646.0 897.1a3.2 3.2 0 1 0 6.4 0a3.2 3.2 0 1 0-6.4 0M952.4 670.4a3.2 3.2 0 1 0 6.4 0a3.2 3.2 0 1 0-6.4 0M738.6 838.8a3.2 3.2 0 1 0 6.4 0a3.2 3.2 0 1 0-6.4 0M789.0 812.1a3.2 3.2 0 1 0 6.4 0a3.2 3.2 0 1 0-6.4 0M783.6 793.3a3.2 3.2 0 1 0 6.4 0a3.2 3.2 0 1 0-6.4 0M716.8 843.1a3.2 3.2 0 1 0 6.4 0a3.2 3.2 0 1 0-6.4 0M666.7 877.0a3.2 3.2 0 1 0 6.4 0a3.2 3.2 0 1 0-6.4 0M706.0 850.2a3.2 3.2 0 1 0 6.4 0a3.2 3.2 0 1 0-6.4 0M653.0 896.5a3.2 3.2 0 1 0 6.4 0a3.2 3.2 0 1 0-6.4 0M824.1 768.4a3.2 3.2 0 1 0 6.4 0a3.2 3.2 0 1 0-6.4 0M773.1 802.5a3.2 3.2 0 1 0 6.4 0a3.2 3.2 0 1 0-6.4 0M776.5 828.3a3.2 3.2 0 1 0 6.4 0a3.2 3.2 0 1 0-6.4 0M683.8 860.0a3.2 3.2 0 1 0 6.4 0a3.2 3.2 0 1 0-6.4 0M793.5 803.0a3.2 3.2 0 1 0 6.4 0a3.2 3.2 0 1 0-6.4 0M696.1 847.7a3.2 3.2 0 1 0 6.4 0a3.2 3.2 0 1 0-6.4 0M929.4 701.5a3.2 3.2 0 1 0 6.4 0a3.2 3.2 0 1 0-6.4 0M761.9 788.6a3.2 3.2 0 1 0 6.4 0a3.2 3.2 0 1 0-6.4 0M855.6 764.0a3.2 3.2 0 1 0 6.4 0a3.2 3.2 0 1 0-6.4 0M716.8 836.0a3.2 3.2 0 1 0 6.4 0a3.2 3.2 0 1 0-6.4 0M787.9 778.7a3.2 3.2 0 1 0 6.4 0a3.2 3.2 0 1 0-6.4 0M679.4 854.3a3.2 3.2 0 1 0 6.4 0a3.2 3.2 0 1 0-6.4 0M779.5 789.6a3.2 3.2 0 1 0 6.4 0a3.2 3.2 0 1 0-6.4 0M769.6 798.5a3.2 3.2 0 1 0 6.4 0a3.2 3.2 0 1 0-6.4 0M752.8 802.7a3.2 3.2 0 1 0 6.4 0a3.2 3.2 0 1 0-6.4 0M715.1 832.5a3.2 3.2 0 1 0 6.4 0a3.2 3.2 0 1 0-6.4 0M711.3 837.0a3.2 3.2 0 1 0 6.4 0a3.2 3.2 0 1 0-6.4 0M646.6 898.1a3.2 3.2 0 1 0 6.4 0a3.2 3.2 0 1 0-6.4 0M772.8 799.0a3.2 3.2 0 1 0 6.4 0a3.2 3.2 0 1 0-6.4 0M761.0 783.3a3.2 3.2 0 1 0 6.4 0a3.2 3.2 0 1 0-6.4 0M803.4 787.7a3.2 3.2 0 1 0 6.4 0a3.2 3.2 0 1 0-6.4 0M682.0 866.4a3.2 3.2 0 1 0 6.4 0a3.2 3.2 0 1 0-6.4 0M714.1 843.4a3.2 3.2 0 1 0 6.4 0a3.2 3.2 0 1 0-6.4 0M736.1 814.5a3.2 3.2 0 1 0 6.4 0a3.2 3.2 0 1 0-6.4 0M678.1 866.2a3.2 3.2 0 1 0 6.4 0a3.2 3.2 0 1 0-6.4 0M715.0 844.7a3.2 3.2 0 1 0 6.4 0a3.2 3.2 0 1 0-6.4 0M747.3 807.1a3.2 3.2 0 1 0 6.4 0a3.2 3.2 0 1 0-6.4 0M855.5 748.9a3.2 3.2 0 1 0 6.4 0a3.2 3.2 0 1 0-6.4 0M669.2 861.8a3.2 3.2 0 1 0 6.4 0a3.2 3.2 0 1 0-6.4 0M709.7 855.9a3.2 3.2 0 1 0 6.4 0a3.2 3.2 0 1 0-6.4 0M920.0 689.2a3.2 3.2 0 1 0 6.4 0a3.2 3.2 0 1 0-6.4 0M681.4 872.7a3.2 3.2 0 1 0 6.4 0a3.2 3.2 0 1 0-6.4 0M820.9 782.8a3.2 3.2 0 1 0 6.4 0a3.2 3.2 0 1 0-6.4 0M708.9 835.8a3.2 3.2 0 1 0 6.4 0a3.2 3.2 0 1 0-6.4 0M842.4 757.1a3.2 3.2 0 1 0 6.4 0a3.2 3.2 0 1 0-6.4 0M734.7 845.1a3.2 3.2 0 1 0 6.4 0a3.2 3.2 0 1 0-6.4 0M653.5 893.5a3.2 3.2 0 1 0 6.4 0a3.2 3.2 0 1 0-6.4 0M729.5 824.9a3.2 3.2 0 1 0 6.4 0a3.2 3.2 0 1 0-6.4 0M737.0 818.4a3.2 3.2 0 1 0 6.4 0a3.2 3.2 0 1 0-6.4 0M786.7 792.6a3.2 3.2 0 1 0 6.4 0a3.2 3.2 0 1 0-6.4 0M753.6 814.5a3.2 3.2 0 1 0 6.4 0a3.2 3.2 0 1 0-6.4 0M804.6 773.0a3.2 3.2 0 1 0 6.4 0a3.2 3.2 0 1 0-6.4 0M861.9 730.7a3.2 3.2 0 1 0 6.4 0a3.2 3.2 0 1 0-6.4 0M763.0 807.6a3.2 3.2 0 1 0 6.4 0a3.2 3.2 0 1 0-6.4 0M718.5 832.5a3.2 3.2 0 1 0 6.4 0a3.2 3.2 0 1 0-6.4 0M649.9 891.3a3.2 3.2 0 1 0 6.4 0a3.2 3.2 0 1 0-6.4 0M749.4 815.4a3.2 3.2 0 1 0 6.4 0a3.2 3.2 0 1 0-6.4 0M815.0 825.6a3.2 3.2 0 1 0 6.4 0a3.2 3.2 0 1 0-6.4 0M654.9 872.2a3.2 3.2 0 1 0 6.4 0a3.2 3.2 0 1 0-6.4 0M717.5 842.6a3.2 3.2 0 1 0 6.4 0a3.2 3.2 0 1 0-6.4 0M696.2 857.1a3.2 3.2 0 1 0 6.4 0a3.2 3.2 0 1 0-6.4 0M729.3 817.3a3.2 3.2 0 1 0 6.4 0a3.2 3.2 0 1 0-6.4 0M740.7 828.6a3.2 3.2 0 1 0 6.4 0a3.2 3.2 0 1 0-6.4 0M915.4 748.1a3.2 3.2 0 1 0 6.4 0a3.2 3.2 0 1 0-6.4 0M755.0 819.2a3.2 3.2 0 1 0 6.4 0a3.2 3.2 0 1 0-6.4 0M710.9 826.5a3.2 3.2 0 1 0 6.4 0a3.2 3.2 0 1 0-6.4 0M850.2 754.2a3.2 3.2 0 1 0 6.4 0a3.2 3.2 0 1 0-6.4 0M703.3 857.7a3.2 3.2 0 1 0 6.4 0a3.2 3.2 0 1 0-6.4 0M867.6 760.7a3.2 3.2 0 1 0 6.4 0a3.2 3.2 0 1 0-6.4 0M762.3 807.7a3.2 3.2 0 1 0 6.4 0a3.2 3.2 0 1 0-6.4 0M813.4 788.5a3.2 3.2 0 1 0 6.4 0a3.2 3.2 0 1 0-6.4 0M809.4 789.9a3.2 3.2 0 1 0 6.4 0a3.2 3.2 0 1 0-6.4 0M804.3 786.5a3.2 3.2 0 1 0 6.4 0a3.2 3.2 0 1 0-6.4 0M655.5 893.2a3.2 3.2 0 1 0 6.4 0a3.2 3.2 0 1 0-6.4 0M857.6 748.9a3.2 3.2 0 1 0 6.4 0a3.2 3.2 0 1 0-6.4 0M710.7 841.8a3.2 3.2 0 1 0 6.4 0a3.2 3.2 0 1 0-6.4 0M815.9 776.3a3.2 3.2 0 1 0 6.4 0a3.2 3.2 0 1 0-6.4 0M699.8 849.8a3.2 3.2 0 1 0 6.4 0a3.2 3.2 0 1 0-6.4 0M806.9 782.5a3.2 3.2 0 1 0 6.4 0a3.2 3.2 0 1 0-6.4 0M676.6 861.1a3.2 3.2 0 1 0 6.4 0a3.2 3.2 0 1 0-6.4 0M754.2 801.7a3.2 3.2 0 1 0 6.4 0a3.2 3.2 0 1 0-6.4 0M691.6 848.5a3.2 3.2 0 1 0 6.4 0a3.2 3.2 0 1 0-6.4 0M887.2 729.6a3.2 3.2 0 1 0 6.4 0a3.2 3.2 0 1 0-6.4 0M808.2 784.6a3.2 3.2 0 1 0 6.4 0a3.2 3.2 0 1 0-6.4 0M649.7 895.5a3.2 3.2 0 1 0 6.4 0a3.2 3.2 0 1 0-6.4 0M798.7 788.1a3.2 3.2 0 1 0 6.4 0a3.2 3.2 0 1 0-6.4 0M857.0 731.2a3.2 3.2 0 1 0 6.4 0a3.2 3.2 0 1 0-6.4 0M694.2 840.9a3.2 3.2 0 1 0 6.4 0a3.2 3.2 0 1 0-6.4 0M720.8 848.4a3.2 3.2 0 1 0 6.4 0a3.2 3.2 0 1 0-6.4 0M728.8 815.6a3.2 3.2 0 1 0 6.4 0a3.2 3.2 0 1 0-6.4 0M719.6 852.7a3.2 3.2 0 1 0 6.4 0a3.2 3.2 0 1 0-6.4 0M703.2 847.6a3.2 3.2 0 1 0 6.4 0a3.2 3.2 0 1 0-6.4 0M782.3 805.9a3.2 3.2 0 1 0 6.4 0a3.2 3.2 0 1 0-6.4 0M768.1 806.3a3.2 3.2 0 1 0 6.4 0a3.2 3.2 0 1 0-6.4 0M700.8 855.6a3.2 3.2 0 1 0 6.4 0a3.2 3.2 0 1 0-6.4 0M792.0 795.4a3.2 3.2 0 1 0 6.4 0a3.2 3.2 0 1 0-6.4 0M697.6 852.1a3.2 3.2 0 1 0 6.4 0a3.2 3.2 0 1 0-6.4 0M715.8 840.6a3.2 3.2 0 1 0 6.4 0a3.2 3.2 0 1 0-6.4 0M717.0 835.4a3.2 3.2 0 1 0 6.4 0a3.2 3.2 0 1 0-6.4 0M729.6 816.1a3.2 3.2 0 1 0 6.4 0a3.2 3.2 0 1 0-6.4 0M857.3 746.5a3.2 3.2 0 1 0 6.4 0a3.2 3.2 0 1 0-6.4 0M678.1 879.7a3.2 3.2 0 1 0 6.4 0a3.2 3.2 0 1 0-6.4 0M688.6 864.1a3.2 3.2 0 1 0 6.4 0a3.2 3.2 0 1 0-6.4 0M695.1 846.5a3.2 3.2 0 1 0 6.4 0a3.2 3.2 0 1 0-6.4 0M891.4 712.3a3.2 3.2 0 1 0 6.4 0a3.2 3.2 0 1 0-6.4 0M663.4 874.9a3.2 3.2 0 1 0 6.4 0a3.2 3.2 0 1 0-6.4 0M737.5 801.6a3.2 3.2 0 1 0 6.4 0a3.2 3.2 0 1 0-6.4 0M911.5 663.1a3.2 3.2 0 1 0 6.4 0a3.2 3.2 0 1 0-6.4 0M857.6 708.0a3.2 3.2 0 1 0 6.4 0a3.2 3.2 0 1 0-6.4 0M709.9 851.6a3.2 3.2 0 1 0 6.4 0a3.2 3.2 0 1 0-6.4 0M895.7 728.1a3.2 3.2 0 1 0 6.4 0a3.2 3.2 0 1 0-6.4 0M687.0 857.1a3.2 3.2 0 1 0 6.4 0a3.2 3.2 0 1 0-6.4 0M873.2 740.2a3.2 3.2 0 1 0 6.4 0a3.2 3.2 0 1 0-6.4 0M666.7 877.1a3.2 3.2 0 1 0 6.4 0a3.2 3.2 0 1 0-6.4 0M714.3 831.9a3.2 3.2 0 1 0 6.4 0a3.2 3.2 0 1 0-6.4 0M753.7 810.9a3.2 3.2 0 1 0 6.4 0a3.2 3.2 0 1 0-6.4 0M732.6 838.5a3.2 3.2 0 1 0 6.4 0a3.2 3.2 0 1 0-6.4 0M702.1 849.6a3.2 3.2 0 1 0 6.4 0a3.2 3.2 0 1 0-6.4 0M751.4 812.3a3.2 3.2 0 1 0 6.4 0a3.2 3.2 0 1 0-6.4 0M759.4 805.6a3.2 3.2 0 1 0 6.4 0a3.2 3.2 0 1 0-6.4 0M689.5 860.7a3.2 3.2 0 1 0 6.4 0a3.2 3.2 0 1 0-6.4 0M667.9 872.4a3.2 3.2 0 1 0 6.4 0a3.2 3.2 0 1 0-6.4 0M691.1 859.7a3.2 3.2 0 1 0 6.4 0a3.2 3.2 0 1 0-6.4 0M727.5 828.1a3.2 3.2 0 1 0 6.4 0a3.2 3.2 0 1 0-6.4 0M647.3 895.8a3.2 3.2 0 1 0 6.4 0a3.2 3.2 0 1 0-6.4 0M697.7 843.0a3.2 3.2 0 1 0 6.4 0a3.2 3.2 0 1 0-6.4 0M702.5 843.1a3.2 3.2 0 1 0 6.4 0a3.2 3.2 0 1 0-6.4 0M793.7 789.4a3.2 3.2 0 1 0 6.4 0a3.2 3.2 0 1 0-6.4 0M703.3 849.4a3.2 3.2 0 1 0 6.4 0a3.2 3.2 0 1 0-6.4 0M766.4 792.6a3.2 3.2 0 1 0 6.4 0a3.2 3.2 0 1 0-6.4 0M798.3 794.1a3.2 3.2 0 1 0 6.4 0a3.2 3.2 0 1 0-6.4 0M689.4 859.1a3.2 3.2 0 1 0 6.4 0a3.2 3.2 0 1 0-6.4 0M901.8 697.2a3.2 3.2 0 1 0 6.4 0a3.2 3.2 0 1 0-6.4 0M703.2 846.4a3.2 3.2 0 1 0 6.4 0a3.2 3.2 0 1 0-6.4 0M777.3 820.7a3.2 3.2 0 1 0 6.4 0a3.2 3.2 0 1 0-6.4 0M766.7 797.7a3.2 3.2 0 1 0 6.4 0a3.2 3.2 0 1 0-6.4 0M695.9 859.3a3.2 3.2 0 1 0 6.4 0a3.2 3.2 0 1 0-6.4 0M694.0 854.1a3.2 3.2 0 1 0 6.4 0a3.2 3.2 0 1 0-6.4 0M748.1 806.5a3.2 3.2 0 1 0 6.4 0a3.2 3.2 0 1 0-6.4 0M771.0 781.8a3.2 3.2 0 1 0 6.4 0a3.2 3.2 0 1 0-6.4 0M863.6 751.0a3.2 3.2 0 1 0 6.4 0a3.2 3.2 0 1 0-6.4 0M820.1 765.3a3.2 3.2 0 1 0 6.4 0a3.2 3.2 0 1 0-6.4 0M649.0 900.6a3.2 3.2 0 1 0 6.4 0a3.2 3.2 0 1 0-6.4 0M733.7 822.4a3.2 3.2 0 1 0 6.4 0a3.2 3.2 0 1 0-6.4 0M814.5 798.6a3.2 3.2 0 1 0 6.4 0a3.2 3.2 0 1 0-6.4 0M681.4 853.6a3.2 3.2 0 1 0 6.4 0a3.2 3.2 0 1 0-6.4 0M839.7 762.0a3.2 3.2 0 1 0 6.4 0a3.2 3.2 0 1 0-6.4 0M734.5 820.3a3.2 3.2 0 1 0 6.4 0a3.2 3.2 0 1 0-6.4 0M696.7 851.9a3.2 3.2 0 1 0 6.4 0a3.2 3.2 0 1 0-6.4 0M719.5 844.6a3.2 3.2 0 1 0 6.4 0a3.2 3.2 0 1 0-6.4 0M656.4 887.9a3.2 3.2 0 1 0 6.4 0a3.2 3.2 0 1 0-6.4 0M889.7 740.5a3.2 3.2 0 1 0 6.4 0a3.2 3.2 0 1 0-6.4 0M760.8 803.6a3.2 3.2 0 1 0 6.4 0a3.2 3.2 0 1 0-6.4 0M848.3 756.7a3.2 3.2 0 1 0 6.4 0a3.2 3.2 0 1 0-6.4 0M700.7 841.4a3.2 3.2 0 1 0 6.4 0a3.2 3.2 0 1 0-6.4 0M690.5 867.1a3.2 3.2 0 1 0 6.4 0a3.2 3.2 0 1 0-6.4 0M711.2 836.9a3.2 3.2 0 1 0 6.4 0a3.2 3.2 0 1 0-6.4 0M667.2 876.2a3.2 3.2 0 1 0 6.4 0a3.2 3.2 0 1 0-6.4 0M659.6 876.6a3.2 3.2 0 1 0 6.4 0a3.2 3.2 0 1 0-6.4 0M705.3 864.3a3.2 3.2 0 1 0 6.4 0a3.2 3.2 0 1 0-6.4 0M670.9 871.2a3.2 3.2 0 1 0 6.4 0a3.2 3.2 0 1 0-6.4 0M750.6 810.8a3.2 3.2 0 1 0 6.4 0a3.2 3.2 0 1 0-6.4 0M893.2 726.3a3.2 3.2 0 1 0 6.4 0a3.2 3.2 0 1 0-6.4 0M802.8 787.3a3.2 3.2 0 1 0 6.4 0a3.2 3.2 0 1 0-6.4 0M947.2 668.1a3.2 3.2 0 1 0 6.4 0a3.2 3.2 0 1 0-6.4 0M735.1 807.4a3.2 3.2 0 1 0 6.4 0a3.2 3.2 0 1 0-6.4 0M678.3 869.3a3.2 3.2 0 1 0 6.4 0a3.2 3.2 0 1 0-6.4 0M876.2 691.7a3.2 3.2 0 1 0 6.4 0a3.2 3.2 0 1 0-6.4 0M714.7 836.7a3.2 3.2 0 1 0 6.4 0a3.2 3.2 0 1 0-6.4 0M728.4 846.4a3.2 3.2 0 1 0 6.4 0a3.2 3.2 0 1 0-6.4 0M838.8 763.5a3.2 3.2 0 1 0 6.4 0a3.2 3.2 0 1 0-6.4 0M720.7 838.8a3.2 3.2 0 1 0 6.4 0a3.2 3.2 0 1 0-6.4 0M684.5 869.1a3.2 3.2 0 1 0 6.4 0a3.2 3.2 0 1 0-6.4 0M808.2 800.8a3.2 3.2 0 1 0 6.4 0a3.2 3.2 0 1 0-6.4 0M861.9 756.6a3.2 3.2 0 1 0 6.4 0a3.2 3.2 0 1 0-6.4 0M690.9 861.3a3.2 3.2 0 1 0 6.4 0a3.2 3.2 0 1 0-6.4 0M767.7 806.6a3.2 3.2 0 1 0 6.4 0a3.2 3.2 0 1 0-6.4 0M885.0 703.7a3.2 3.2 0 1 0 6.4 0a3.2 3.2 0 1 0-6.4 0M735.5 803.8a3.2 3.2 0 1 0 6.4 0a3.2 3.2 0 1 0-6.4 0M728.9 813.4a3.2 3.2 0 1 0 6.4 0a3.2 3.2 0 1 0-6.4 0M703.2 840.5a3.2 3.2 0 1 0 6.4 0a3.2 3.2 0 1 0-6.4 0M724.2 838.9a3.2 3.2 0 1 0 6.4 0a3.2 3.2 0 1 0-6.4 0M700.6 854.2a3.2 3.2 0 1 0 6.4 0a3.2 3.2 0 1 0-6.4 0M722.1 827.7a3.2 3.2 0 1 0 6.4 0a3.2 3.2 0 1 0-6.4 0M813.8 772.7a3.2 3.2 0 1 0 6.4 0a3.2 3.2 0 1 0-6.4 0M749.2 805.3a3.2 3.2 0 1 0 6.4 0a3.2 3.2 0 1 0-6.4 0M774.8 795.3a3.2 3.2 0 1 0 6.4 0a3.2 3.2 0 1 0-6.4 0M716.4 825.7a3.2 3.2 0 1 0 6.4 0a3.2 3.2 0 1 0-6.4 0M771.6 785.8a3.2 3.2 0 1 0 6.4 0a3.2 3.2 0 1 0-6.4 0M762.1 799.1a3.2 3.2 0 1 0 6.4 0a3.2 3.2 0 1 0-6.4 0M725.1 817.9a3.2 3.2 0 1 0 6.4 0a3.2 3.2 0 1 0-6.4 0M704.4 832.1a3.2 3.2 0 1 0 6.4 0a3.2 3.2 0 1 0-6.4 0M696.0 866.3a3.2 3.2 0 1 0 6.4 0a3.2 3.2 0 1 0-6.4 0M769.9 792.0a3.2 3.2 0 1 0 6.4 0a3.2 3.2 0 1 0-6.4 0M924.1 686.7a3.2 3.2 0 1 0 6.4 0a3.2 3.2 0 1 0-6.4 0M689.2 865.1a3.2 3.2 0 1 0 6.4 0a3.2 3.2 0 1 0-6.4 0M892.1 709.5a3.2 3.2 0 1 0 6.4 0a3.2 3.2 0 1 0-6.4 0M718.4 841.5a3.2 3.2 0 1 0 6.4 0a3.2 3.2 0 1 0-6.4 0M856.4 752.0a3.2 3.2 0 1 0 6.4 0a3.2 3.2 0 1 0-6.4 0M825.8 768.1a3.2 3.2 0 1 0 6.4 0a3.2 3.2 0 1 0-6.4 0M668.1 878.3a3.2 3.2 0 1 0 6.4 0a3.2 3.2 0 1 0-6.4 0M719.5 808.0a3.2 3.2 0 1 0 6.4 0a3.2 3.2 0 1 0-6.4 0M864.2 732.5a3.2 3.2 0 1 0 6.4 0a3.2 3.2 0 1 0-6.4 0M663.9 884.4a3.2 3.2 0 1 0 6.4 0a3.2 3.2 0 1 0-6.4 0M690.2 861.2a3.2 3.2 0 1 0 6.4 0a3.2 3.2 0 1 0-6.4 0M736.0 808.1a3.2 3.2 0 1 0 6.4 0a3.2 3.2 0 1 0-6.4 0M882.0 728.5a3.2 3.2 0 1 0 6.4 0a3.2 3.2 0 1 0-6.4 0M768.7 796.6a3.2 3.2 0 1 0 6.4 0a3.2 3.2 0 1 0-6.4 0M740.9 810.8a3.2 3.2 0 1 0 6.4 0a3.2 3.2 0 1 0-6.4 0M915.8 685.4a3.2 3.2 0 1 0 6.4 0a3.2 3.2 0 1 0-6.4 0M833.0 733.7a3.2 3.2 0 1 0 6.4 0a3.2 3.2 0 1 0-6.4 0M770.9 801.4a3.2 3.2 0 1 0 6.4 0a3.2 3.2 0 1 0-6.4 0M646.5 897.5a3.2 3.2 0 1 0 6.4 0a3.2 3.2 0 1 0-6.4 0M718.6 839.9a3.2 3.2 0 1 0 6.4 0a3.2 3.2 0 1 0-6.4 0M667.3 876.1a3.2 3.2 0 1 0 6.4 0a3.2 3.2 0 1 0-6.4 0M677.2 865.0a3.2 3.2 0 1 0 6.4 0a3.2 3.2 0 1 0-6.4 0M864.7 773.6a3.2 3.2 0 1 0 6.4 0a3.2 3.2 0 1 0-6.4 0M645.9 900.3a3.2 3.2 0 1 0 6.4 0a3.2 3.2 0 1 0-6.4 0M709.1 833.8a3.2 3.2 0 1 0 6.4 0a3.2 3.2 0 1 0-6.4 0M744.8 791.3a3.2 3.2 0 1 0 6.4 0a3.2 3.2 0 1 0-6.4 0M710.4 848.8a3.2 3.2 0 1 0 6.4 0a3.2 3.2 0 1 0-6.4 0M830.5 756.9a3.2 3.2 0 1 0 6.4 0a3.2 3.2 0 1 0-6.4 0M758.5 829.2a3.2 3.2 0 1 0 6.4 0a3.2 3.2 0 1 0-6.4 0M727.3 833.3a3.2 3.2 0 1 0 6.4 0a3.2 3.2 0 1 0-6.4 0M963.1 628.9a3.2 3.2 0 1 0 6.4 0a3.2 3.2 0 1 0-6.4 0M953.2 622.7a3.2 3.2 0 1 0 6.4 0a3.2 3.2 0 1 0-6.4 0M877.8 705.7a3.2 3.2 0 1 0 6.4 0a3.2 3.2 0 1 0-6.4 0M901.8 690.2a3.2 3.2 0 1 0 6.4 0a3.2 3.2 0 1 0-6.4 0M959.8 630.5a3.2 3.2 0 1 0 6.4 0a3.2 3.2 0 1 0-6.4 0M952.6 656.2a3.2 3.2 0 1 0 6.4 0a3.2 3.2 0 1 0-6.4 0M889.9 705.8a3.2 3.2 0 1 0 6.4 0a3.2 3.2 0 1 0-6.4 0M973.8 635.2a3.2 3.2 0 1 0 6.4 0a3.2 3.2 0 1 0-6.4 0M965.9 640.5a3.2 3.2 0 1 0 6.4 0a3.2 3.2 0 1 0-6.4 0M889.8 693.9a3.2 3.2 0 1 0 6.4 0a3.2 3.2 0 1 0-6.4 0M975.8 608.0a3.2 3.2 0 1 0 6.4 0a3.2 3.2 0 1 0-6.4 0M932.9 648.3a3.2 3.2 0 1 0 6.4 0a3.2 3.2 0 1 0-6.4 0M876.0 686.7a3.2 3.2 0 1 0 6.4 0a3.2 3.2 0 1 0-6.4 0M965.6 638.8a3.2 3.2 0 1 0 6.4 0a3.2 3.2 0 1 0-6.4 0M920.6 667.3a3.2 3.2 0 1 0 6.4 0a3.2 3.2 0 1 0-6.4 0M962.0 633.0a3.2 3.2 0 1 0 6.4 0a3.2 3.2 0 1 0-6.4 0M965.4 653.7a3.2 3.2 0 1 0 6.4 0a3.2 3.2 0 1 0-6.4 0M894.6 687.6a3.2 3.2 0 1 0 6.4 0a3.2 3.2 0 1 0-6.4 0M902.7 700.6a3.2 3.2 0 1 0 6.4 0a3.2 3.2 0 1 0-6.4 0M977.1 600.0a3.2 3.2 0 1 0 6.4 0a3.2 3.2 0 1 0-6.4 0M890.6 673.1a3.2 3.2 0 1 0 6.4 0a3.2 3.2 0 1 0-6.4 0M886.0 702.3a3.2 3.2 0 1 0 6.4 0a3.2 3.2 0 1 0-6.4 0M958.0 635.7a3.2 3.2 0 1 0 6.4 0a3.2 3.2 0 1 0-6.4 0M915.4 667.0a3.2 3.2 0 1 0 6.4 0a3.2 3.2 0 1 0-6.4 0M882.1 692.3a3.2 3.2 0 1 0 6.4 0a3.2 3.2 0 1 0-6.4 0M897.3 691.5a3.2 3.2 0 1 0 6.4 0a3.2 3.2 0 1 0-6.4 0M878.7 716.9a3.2 3.2 0 1 0 6.4 0a3.2 3.2 0 1 0-6.4 0M896.0 685.5a3.2 3.2 0 1 0 6.4 0a3.2 3.2 0 1 0-6.4 0M949.4 633.1a3.2 3.2 0 1 0 6.4 0a3.2 3.2 0 1 0-6.4 0M899.4 687.9a3.2 3.2 0 1 0 6.4 0a3.2 3.2 0 1 0-6.4 0M892.4 702.7a3.2 3.2 0 1 0 6.4 0a3.2 3.2 0 1 0-6.4 0M909.4 668.4a3.2 3.2 0 1 0 6.4 0a3.2 3.2 0 1 0-6.4 0M931.8 639.8a3.2 3.2 0 1 0 6.4 0a3.2 3.2 0 1 0-6.4 0M884.1 706.6a3.2 3.2 0 1 0 6.4 0a3.2 3.2 0 1 0-6.4 0M926.0 679.2a3.2 3.2 0 1 0 6.4 0a3.2 3.2 0 1 0-6.4 0M898.7 688.6a3.2 3.2 0 1 0 6.4 0a3.2 3.2 0 1 0-6.4 0M912.6 681.9a3.2 3.2 0 1 0 6.4 0a3.2 3.2 0 1 0-6.4 0M919.6 670.4a3.2 3.2 0 1 0 6.4 0a3.2 3.2 0 1 0-6.4 0M885.8 692.0a3.2 3.2 0 1 0 6.4 0a3.2 3.2 0 1 0-6.4 0M897.8 704.0a3.2 3.2 0 1 0 6.4 0a3.2 3.2 0 1 0-6.4 0M913.4 679.5a3.2 3.2 0 1 0 6.4 0a3.2 3.2 0 1 0-6.4 0M1040.7 614.0a3.2 3.2 0 1 0 6.4 0a3.2 3.2 0 1 0-6.4 0M1042.8 625.1a3.2 3.2 0 1 0 6.4 0a3.2 3.2 0 1 0-6.4 0M1015.7 642.2a3.2 3.2 0 1 0 6.4 0a3.2 3.2 0 1 0-6.4 0M1013.1 638.4a3.2 3.2 0 1 0 6.4 0a3.2 3.2 0 1 0-6.4 0M1028.7 646.7a3.2 3.2 0 1 0 6.4 0a3.2 3.2 0 1 0-6.4 0M1032.2 619.3a3.2 3.2 0 1 0 6.4 0a3.2 3.2 0 1 0-6.4 0M976.7 680.0a3.2 3.2 0 1 0 6.4 0a3.2 3.2 0 1 0-6.4 0M1039.3 613.7a3.2 3.2 0 1 0 6.4 0a3.2 3.2 0 1 0-6.4 0M983.6 670.5a3.2 3.2 0 1 0 6.4 0a3.2 3.2 0 1 0-6.4 0M1051.4 627.1a3.2 3.2 0 1 0 6.4 0a3.2 3.2 0 1 0-6.4 0M1017.8 621.0a3.2 3.2 0 1 0 6.4 0a3.2 3.2 0 1 0-6.4 0M1017.1 645.4a3.2 3.2 0 1 0 6.4 0a3.2 3.2 0 1 0-6.4 0M999.3 655.1a3.2 3.2 0 1 0 6.4 0a3.2 3.2 0 1 0-6.4 0M981.6 658.4a3.2 3.2 0 1 0 6.4 0a3.2 3.2 0 1 0-6.4 0M1054.5 607.1a3.2 3.2 0 1 0 6.4 0a3.2 3.2 0 1 0-6.4 0M984.5 678.1a3.2 3.2 0 1 0 6.4 0a3.2 3.2 0 1 0-6.4 0M1050.9 635.7a3.2 3.2 0 1 0 6.4 0a3.2 3.2 0 1 0-6.4 0M991.0 661.7a3.2 3.2 0 1 0 6.4 0a3.2 3.2 0 1 0-6.4 0M1048.2 607.7a3.2 3.2 0 1 0 6.4 0a3.2 3.2 0 1 0-6.4 0M1008.3 645.3a3.2 3.2 0 1 0 6.4 0a3.2 3.2 0 1 0-6.4 0M1051.0 632.9a3.2 3.2 0 1 0 6.4 0a3.2 3.2 0 1 0-6.4 0M1008.7 653.3a3.2 3.2 0 1 0 6.4 0a3.2 3.2 0 1 0-6.4 0M1027.8 610.7a3.2 3.2 0 1 0 6.4 0a3.2 3.2 0 1 0-6.4 0M1047.8 616.8a3.2 3.2 0 1 0 6.4 0a3.2 3.2 0 1 0-6.4 0M1011.2 659.0a3.2 3.2 0 1 0 6.4 0a3.2 3.2 0 1 0-6.4 0M1020.0 635.5a3.2 3.2 0 1 0 6.4 0a3.2 3.2 0 1 0-6.4 0M1039.1 624.8a3.2 3.2 0 1 0 6.4 0a3.2 3.2 0 1 0-6.4 0M990.7 670.0a3.2 3.2 0 1 0 6.4 0a3.2 3.2 0 1 0-6.4 0M1050.0 607.8a3.2 3.2 0 1 0 6.4 0a3.2 3.2 0 1 0-6.4 0M1016.6 625.9a3.2 3.2 0 1 0 6.4 0a3.2 3.2 0 1 0-6.4 0M1045.0 605.7a3.2 3.2 0 1 0 6.4 0a3.2 3.2 0 1 0-6.4 0M1047.1 604.2a3.2 3.2 0 1 0 6.4 0a3.2 3.2 0 1 0-6.4 0M1043.8 605.7a3.2 3.2 0 1 0 6.4 0a3.2 3.2 0 1 0-6.4 0M1047.1 615.3a3.2 3.2 0 1 0 6.4 0a3.2 3.2 0 1 0-6.4 0M1049.1 624.8a3.2 3.2 0 1 0 6.4 0a3.2 3.2 0 1 0-6.4 0M1047.1 621.6a3.2 3.2 0 1 0 6.4 0a3.2 3.2 0 1 0-6.4 0M923.8 601.0a3.2 3.2 0 1 0 6.4 0a3.2 3.2 0 1 0-6.4 0M923.8 605.7a3.2 3.2 0 1 0 6.4 0a3.2 3.2 0 1 0-6.4 0M977.2 608.9a3.2 3.2 0 1 0 6.4 0a3.2 3.2 0 1 0-6.4 0M973.1 615.3a3.2 3.2 0 1 0 6.4 0a3.2 3.2 0 1 0-6.4 0M977.2 615.3a3.2 3.2 0 1 0 6.4 0a3.2 3.2 0 1 0-6.4 0" fill="none" stroke="#64a2da" stroke-width="0.78"/>
<path d="M647.6 901.2L976.3 583.5" stroke="#111" stroke-width="1.35" stroke-dasharray="4 2.2"/>
<path d="M647.6 901.2L1058.5 583.5" stroke="#111" stroke-width="1.35" stroke-dasharray="7 3"/>
<path d="M647.6 901.2L1058.5 647.0" stroke="#111" stroke-width="1.35" stroke-dasharray="3 1.8"/>
<text class="v" x="634.2" y="905.1" font-size="10.5" text-anchor="end" textLength="27.5" lengthAdjust="spacingAndGlyphs">0.00</text>
<text class="v" x="648.0" y="921.8" font-size="10.5" text-anchor="middle" textLength="27.5" lengthAdjust="spacingAndGlyphs">0.00</text>
<text class="v" x="634.2" y="841.5600000000001" font-size="10.5" text-anchor="end" textLength="27.5" lengthAdjust="spacingAndGlyphs">0.20</text>
<text class="v" x="730.18" y="921.8" font-size="10.5" text-anchor="middle" textLength="27.5" lengthAdjust="spacingAndGlyphs">0.20</text>
<text class="v" x="634.2" y="778.02" font-size="10.5" text-anchor="end" textLength="27.5" lengthAdjust="spacingAndGlyphs">0.40</text>
<text class="v" x="812.36" y="921.8" font-size="10.5" text-anchor="middle" textLength="27.5" lengthAdjust="spacingAndGlyphs">0.40</text>
<text class="v" x="634.2" y="714.4799999999999" font-size="10.5" text-anchor="end" textLength="27.5" lengthAdjust="spacingAndGlyphs">0.60</text>
<text class="v" x="894.5400000000001" y="921.8" font-size="10.5" text-anchor="middle" textLength="27.5" lengthAdjust="spacingAndGlyphs">0.60</text>
<text class="v" x="634.2" y="650.9399999999999" font-size="10.5" text-anchor="end" textLength="27.5" lengthAdjust="spacingAndGlyphs">0.80</text>
<text class="v" x="976.72" y="921.8" font-size="10.5" text-anchor="middle" textLength="27.5" lengthAdjust="spacingAndGlyphs">0.80</text>
<text class="v" x="634.2" y="587.4" font-size="10.5" text-anchor="end" textLength="27.5" lengthAdjust="spacingAndGlyphs">1.00</text>
<text class="v" x="1058.9" y="921.8" font-size="10.5" text-anchor="middle" textLength="27.5" lengthAdjust="spacingAndGlyphs">1.00</text>
<text class="v" x="852.5" y="941.5" font-size="11" text-anchor="middle" textLength="169.5" lengthAdjust="spacingAndGlyphs">Predicted Liquid Holdup (-)</text>
<text class="c" transform="translate(597.8 742.3) rotate(-90)" font-size="14" text-anchor="middle" textLength="161" lengthAdjust="spacingAndGlyphs">Experimental Liquid Holdup (-)</text>
<text class="v" x="672.5" y="518.2" font-size="11" text-anchor="start" textLength="163.5" lengthAdjust="spacingAndGlyphs">Spedding and Chen (1984)</text>
<text class="v" x="877.4" y="518.2" font-size="11" text-anchor="start" textLength="188.3" lengthAdjust="spacingAndGlyphs">Hamersma and Hart (1987)–1</text>
<text class="v" x="672.5" y="542.2" font-size="11" text-anchor="start" textLength="188.3" lengthAdjust="spacingAndGlyphs">Hamersma and Hart (1987)–2</text>
<text class="v" x="877.4" y="542.2" font-size="11" text-anchor="start" textLength="108.2" lengthAdjust="spacingAndGlyphs">Kora et al. (2011)</text>
<text class="v" x="672.5" y="566.2" font-size="11" text-anchor="start" textLength="93" lengthAdjust="spacingAndGlyphs">Eqn. 11 and 12</text>
<path d="M664 511.3l3.5 6.6h-7z" fill="none" stroke="#ee3b24" stroke-width="0.95"/>
<path d="M865.6 510.6l8 8.6m0-8.6l-8 8.6" fill="none" stroke="#ffc43c" stroke-width="0.9"/>
<rect x="660.8" y="535.7" width="6.4" height="6.4" fill="none" stroke="#8fcc50" stroke-width="0.9"/>
<path d="M870 538.9h3.4" stroke="#555" stroke-width="1.4"/>
<circle cx="664" cy="562.7" r="3.1" fill="none" stroke="#5b9bd5" stroke-width="0.85"/></g>
</svg>
</body></html>
